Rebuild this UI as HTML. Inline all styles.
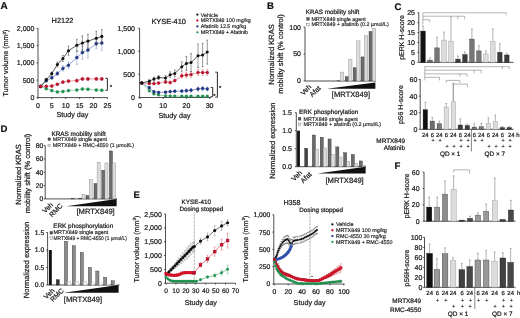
<!DOCTYPE html>
<html><head><meta charset="utf-8"><title>Figure</title>
<style>
html,body{margin:0;padding:0;background:#fff;}
body{width:520px;height:318px;overflow:hidden;}
svg{display:block;}
svg text.s{stroke-width:0.16px;fill:#222;stroke:#222;}
svg text{font-family:'Liberation Sans', Arial, sans-serif;text-rendering:geometricPrecision;stroke:#1a1a1a;stroke-width:0.22px;paint-order:stroke;}
</style></head>
<body>
<svg width="520" height="318" viewBox="0 0 520 318" fill="#1a1a1a">
<rect width="520" height="318" fill="#fff"/>
<text x="0.50" y="9.00" font-size="10.0" font-weight="bold" fill="#111">A</text>
<text x="62.50" y="22.80" font-size="7.4" text-anchor="middle">H2122</text>
<text x="8.40" y="63.00" font-size="7.2" text-anchor="middle" transform="rotate(-90 8.40 63.00)">Tumor volume (mm<tspan font-size="4.46" dy="-2.74">3</tspan><tspan dy="2.74">)</tspan></text>
<line x1="38.00" y1="28.40" x2="38.00" y2="97.60" stroke="#222" stroke-width="0.8"/>
<line x1="36.60" y1="97.40" x2="38.00" y2="97.40" stroke="#222" stroke-width="0.8"/>
<text x="34.40" y="99.80" font-size="7.0" text-anchor="end">0</text>
<line x1="36.60" y1="80.15" x2="38.00" y2="80.15" stroke="#222" stroke-width="0.8"/>
<text x="34.40" y="82.55" font-size="7.0" text-anchor="end">500</text>
<line x1="36.60" y1="62.90" x2="38.00" y2="62.90" stroke="#222" stroke-width="0.8"/>
<text x="34.40" y="65.30" font-size="7.0" text-anchor="end">1,000</text>
<line x1="36.60" y1="45.65" x2="38.00" y2="45.65" stroke="#222" stroke-width="0.8"/>
<text x="34.40" y="48.05" font-size="7.0" text-anchor="end">1,500</text>
<line x1="36.60" y1="28.40" x2="38.00" y2="28.40" stroke="#222" stroke-width="0.8"/>
<text x="34.40" y="30.80" font-size="7.0" text-anchor="end">2,000</text>
<line x1="38.00" y1="97.60" x2="107.60" y2="97.60" stroke="#222" stroke-width="0.8"/>
<line x1="37.90" y1="97.60" x2="37.90" y2="99.00" stroke="#222" stroke-width="0.8"/>
<text x="37.90" y="108.30" font-size="7.0" text-anchor="middle">0</text>
<line x1="51.80" y1="97.60" x2="51.80" y2="99.00" stroke="#222" stroke-width="0.8"/>
<text x="51.80" y="108.30" font-size="7.0" text-anchor="middle">5</text>
<line x1="65.70" y1="97.60" x2="65.70" y2="99.00" stroke="#222" stroke-width="0.8"/>
<text x="65.70" y="108.30" font-size="7.0" text-anchor="middle">10</text>
<line x1="79.60" y1="97.60" x2="79.60" y2="99.00" stroke="#222" stroke-width="0.8"/>
<text x="79.60" y="108.30" font-size="7.0" text-anchor="middle">15</text>
<line x1="93.50" y1="97.60" x2="93.50" y2="99.00" stroke="#222" stroke-width="0.8"/>
<text x="93.50" y="108.30" font-size="7.0" text-anchor="middle">20</text>
<line x1="107.40" y1="97.60" x2="107.40" y2="99.00" stroke="#222" stroke-width="0.8"/>
<text x="107.40" y="108.30" font-size="7.0" text-anchor="middle">25</text>
<text x="72.40" y="117.30" font-size="7.2" text-anchor="middle">Study day</text>
<polyline points="40.68,86.40 46.24,88.70 51.80,90.60 57.36,91.90 62.92,91.50 68.48,90.60 76.82,90.00 82.38,89.00 87.94,89.20 96.28,90.00 101.84,90.20" fill="none" stroke="#7cc894" stroke-width="0.75"/>
<line x1="46.24" y1="88.10" x2="46.24" y2="89.30" stroke="#7cc894" stroke-width="0.5"/>
<line x1="45.34" y1="88.10" x2="47.14" y2="88.10" stroke="#7cc894" stroke-width="0.5"/>
<line x1="45.34" y1="89.30" x2="47.14" y2="89.30" stroke="#7cc894" stroke-width="0.5"/>
<line x1="51.80" y1="89.90" x2="51.80" y2="91.30" stroke="#7cc894" stroke-width="0.5"/>
<line x1="50.90" y1="89.90" x2="52.70" y2="89.90" stroke="#7cc894" stroke-width="0.5"/>
<line x1="50.90" y1="91.30" x2="52.70" y2="91.30" stroke="#7cc894" stroke-width="0.5"/>
<line x1="57.36" y1="91.10" x2="57.36" y2="92.70" stroke="#7cc894" stroke-width="0.5"/>
<line x1="56.46" y1="91.10" x2="58.26" y2="91.10" stroke="#7cc894" stroke-width="0.5"/>
<line x1="56.46" y1="92.70" x2="58.26" y2="92.70" stroke="#7cc894" stroke-width="0.5"/>
<line x1="62.92" y1="90.70" x2="62.92" y2="92.30" stroke="#7cc894" stroke-width="0.5"/>
<line x1="62.02" y1="90.70" x2="63.82" y2="90.70" stroke="#7cc894" stroke-width="0.5"/>
<line x1="62.02" y1="92.30" x2="63.82" y2="92.30" stroke="#7cc894" stroke-width="0.5"/>
<line x1="68.48" y1="89.80" x2="68.48" y2="91.40" stroke="#7cc894" stroke-width="0.5"/>
<line x1="67.58" y1="89.80" x2="69.38" y2="89.80" stroke="#7cc894" stroke-width="0.5"/>
<line x1="67.58" y1="91.40" x2="69.38" y2="91.40" stroke="#7cc894" stroke-width="0.5"/>
<line x1="76.82" y1="89.10" x2="76.82" y2="90.90" stroke="#7cc894" stroke-width="0.5"/>
<line x1="75.92" y1="89.10" x2="77.72" y2="89.10" stroke="#7cc894" stroke-width="0.5"/>
<line x1="75.92" y1="90.90" x2="77.72" y2="90.90" stroke="#7cc894" stroke-width="0.5"/>
<line x1="82.38" y1="88.10" x2="82.38" y2="89.90" stroke="#7cc894" stroke-width="0.5"/>
<line x1="81.48" y1="88.10" x2="83.28" y2="88.10" stroke="#7cc894" stroke-width="0.5"/>
<line x1="81.48" y1="89.90" x2="83.28" y2="89.90" stroke="#7cc894" stroke-width="0.5"/>
<line x1="87.94" y1="88.30" x2="87.94" y2="90.10" stroke="#7cc894" stroke-width="0.5"/>
<line x1="87.04" y1="88.30" x2="88.84" y2="88.30" stroke="#7cc894" stroke-width="0.5"/>
<line x1="87.04" y1="90.10" x2="88.84" y2="90.10" stroke="#7cc894" stroke-width="0.5"/>
<line x1="96.28" y1="89.00" x2="96.28" y2="91.00" stroke="#7cc894" stroke-width="0.5"/>
<line x1="95.38" y1="89.00" x2="97.18" y2="89.00" stroke="#7cc894" stroke-width="0.5"/>
<line x1="95.38" y1="91.00" x2="97.18" y2="91.00" stroke="#7cc894" stroke-width="0.5"/>
<line x1="101.84" y1="89.20" x2="101.84" y2="91.20" stroke="#7cc894" stroke-width="0.5"/>
<line x1="100.94" y1="89.20" x2="102.74" y2="89.20" stroke="#7cc894" stroke-width="0.5"/>
<line x1="100.94" y1="91.20" x2="102.74" y2="91.20" stroke="#7cc894" stroke-width="0.5"/>
<circle cx="40.68" cy="86.40" r="1.50" fill="#1f9a52" stroke="#16703c" stroke-width="0.35"/>
<circle cx="46.24" cy="88.70" r="1.50" fill="#1f9a52" stroke="#16703c" stroke-width="0.35"/>
<circle cx="51.80" cy="90.60" r="1.50" fill="#1f9a52" stroke="#16703c" stroke-width="0.35"/>
<circle cx="57.36" cy="91.90" r="1.50" fill="#1f9a52" stroke="#16703c" stroke-width="0.35"/>
<circle cx="62.92" cy="91.50" r="1.50" fill="#1f9a52" stroke="#16703c" stroke-width="0.35"/>
<circle cx="68.48" cy="90.60" r="1.50" fill="#1f9a52" stroke="#16703c" stroke-width="0.35"/>
<circle cx="76.82" cy="90.00" r="1.50" fill="#1f9a52" stroke="#16703c" stroke-width="0.35"/>
<circle cx="82.38" cy="89.00" r="1.50" fill="#1f9a52" stroke="#16703c" stroke-width="0.35"/>
<circle cx="87.94" cy="89.20" r="1.50" fill="#1f9a52" stroke="#16703c" stroke-width="0.35"/>
<circle cx="96.28" cy="90.00" r="1.50" fill="#1f9a52" stroke="#16703c" stroke-width="0.35"/>
<circle cx="101.84" cy="90.20" r="1.50" fill="#1f9a52" stroke="#16703c" stroke-width="0.35"/>
<polyline points="40.68,86.40 46.24,80.80 51.80,77.70 57.36,73.60 62.92,68.40 68.48,65.20 76.82,57.60 82.38,52.50 87.94,50.00 96.28,43.60 101.84,43.00" fill="none" stroke="#6f86c6" stroke-width="0.75"/>
<line x1="46.24" y1="79.80" x2="46.24" y2="81.80" stroke="#6f86c6" stroke-width="0.5"/>
<line x1="45.34" y1="79.80" x2="47.14" y2="79.80" stroke="#6f86c6" stroke-width="0.5"/>
<line x1="45.34" y1="81.80" x2="47.14" y2="81.80" stroke="#6f86c6" stroke-width="0.5"/>
<line x1="51.80" y1="76.30" x2="51.80" y2="79.10" stroke="#6f86c6" stroke-width="0.5"/>
<line x1="50.90" y1="76.30" x2="52.70" y2="76.30" stroke="#6f86c6" stroke-width="0.5"/>
<line x1="50.90" y1="79.10" x2="52.70" y2="79.10" stroke="#6f86c6" stroke-width="0.5"/>
<line x1="57.36" y1="71.60" x2="57.36" y2="75.60" stroke="#6f86c6" stroke-width="0.5"/>
<line x1="56.46" y1="71.60" x2="58.26" y2="71.60" stroke="#6f86c6" stroke-width="0.5"/>
<line x1="56.46" y1="75.60" x2="58.26" y2="75.60" stroke="#6f86c6" stroke-width="0.5"/>
<line x1="62.92" y1="65.80" x2="62.92" y2="71.00" stroke="#6f86c6" stroke-width="0.5"/>
<line x1="62.02" y1="65.80" x2="63.82" y2="65.80" stroke="#6f86c6" stroke-width="0.5"/>
<line x1="62.02" y1="71.00" x2="63.82" y2="71.00" stroke="#6f86c6" stroke-width="0.5"/>
<line x1="68.48" y1="61.80" x2="68.48" y2="68.60" stroke="#6f86c6" stroke-width="0.5"/>
<line x1="67.58" y1="61.80" x2="69.38" y2="61.80" stroke="#6f86c6" stroke-width="0.5"/>
<line x1="67.58" y1="68.60" x2="69.38" y2="68.60" stroke="#6f86c6" stroke-width="0.5"/>
<line x1="76.82" y1="50.80" x2="76.82" y2="64.40" stroke="#6f86c6" stroke-width="0.5"/>
<line x1="75.92" y1="50.80" x2="77.72" y2="50.80" stroke="#6f86c6" stroke-width="0.5"/>
<line x1="75.92" y1="64.40" x2="77.72" y2="64.40" stroke="#6f86c6" stroke-width="0.5"/>
<line x1="82.38" y1="45.70" x2="82.38" y2="59.30" stroke="#6f86c6" stroke-width="0.5"/>
<line x1="81.48" y1="45.70" x2="83.28" y2="45.70" stroke="#6f86c6" stroke-width="0.5"/>
<line x1="81.48" y1="59.30" x2="83.28" y2="59.30" stroke="#6f86c6" stroke-width="0.5"/>
<line x1="87.94" y1="42.00" x2="87.94" y2="58.00" stroke="#6f86c6" stroke-width="0.5"/>
<line x1="87.04" y1="42.00" x2="88.84" y2="42.00" stroke="#6f86c6" stroke-width="0.5"/>
<line x1="87.04" y1="58.00" x2="88.84" y2="58.00" stroke="#6f86c6" stroke-width="0.5"/>
<line x1="96.28" y1="38.40" x2="96.28" y2="48.80" stroke="#6f86c6" stroke-width="0.5"/>
<line x1="95.38" y1="38.40" x2="97.18" y2="38.40" stroke="#6f86c6" stroke-width="0.5"/>
<line x1="95.38" y1="48.80" x2="97.18" y2="48.80" stroke="#6f86c6" stroke-width="0.5"/>
<line x1="101.84" y1="35.40" x2="101.84" y2="50.60" stroke="#6f86c6" stroke-width="0.5"/>
<line x1="100.94" y1="35.40" x2="102.74" y2="35.40" stroke="#6f86c6" stroke-width="0.5"/>
<line x1="100.94" y1="50.60" x2="102.74" y2="50.60" stroke="#6f86c6" stroke-width="0.5"/>
<circle cx="40.68" cy="86.40" r="1.50" fill="#22388a" stroke="#15235a" stroke-width="0.35"/>
<circle cx="46.24" cy="80.80" r="1.50" fill="#22388a" stroke="#15235a" stroke-width="0.35"/>
<circle cx="51.80" cy="77.70" r="1.50" fill="#22388a" stroke="#15235a" stroke-width="0.35"/>
<circle cx="57.36" cy="73.60" r="1.50" fill="#22388a" stroke="#15235a" stroke-width="0.35"/>
<circle cx="62.92" cy="68.40" r="1.50" fill="#22388a" stroke="#15235a" stroke-width="0.35"/>
<circle cx="68.48" cy="65.20" r="1.50" fill="#22388a" stroke="#15235a" stroke-width="0.35"/>
<circle cx="76.82" cy="57.60" r="1.50" fill="#22388a" stroke="#15235a" stroke-width="0.35"/>
<circle cx="82.38" cy="52.50" r="1.50" fill="#22388a" stroke="#15235a" stroke-width="0.35"/>
<circle cx="87.94" cy="50.00" r="1.50" fill="#22388a" stroke="#15235a" stroke-width="0.35"/>
<circle cx="96.28" cy="43.60" r="1.50" fill="#22388a" stroke="#15235a" stroke-width="0.35"/>
<circle cx="101.84" cy="43.00" r="1.50" fill="#22388a" stroke="#15235a" stroke-width="0.35"/>
<polyline points="40.68,86.40 46.24,79.60 51.80,73.60 57.36,64.50 62.92,58.50 68.48,50.70 76.82,45.30 82.38,43.00 87.94,41.10 96.28,38.30 101.84,36.40" fill="none" stroke="#222" stroke-width="0.75"/>
<line x1="46.24" y1="78.40" x2="46.24" y2="80.80" stroke="#333" stroke-width="0.5"/>
<line x1="45.34" y1="78.40" x2="47.14" y2="78.40" stroke="#333" stroke-width="0.5"/>
<line x1="45.34" y1="80.80" x2="47.14" y2="80.80" stroke="#333" stroke-width="0.5"/>
<line x1="51.80" y1="72.00" x2="51.80" y2="75.20" stroke="#333" stroke-width="0.5"/>
<line x1="50.90" y1="72.00" x2="52.70" y2="72.00" stroke="#333" stroke-width="0.5"/>
<line x1="50.90" y1="75.20" x2="52.70" y2="75.20" stroke="#333" stroke-width="0.5"/>
<line x1="57.36" y1="62.10" x2="57.36" y2="66.90" stroke="#333" stroke-width="0.5"/>
<line x1="56.46" y1="62.10" x2="58.26" y2="62.10" stroke="#333" stroke-width="0.5"/>
<line x1="56.46" y1="66.90" x2="58.26" y2="66.90" stroke="#333" stroke-width="0.5"/>
<line x1="62.92" y1="55.50" x2="62.92" y2="61.50" stroke="#333" stroke-width="0.5"/>
<line x1="62.02" y1="55.50" x2="63.82" y2="55.50" stroke="#333" stroke-width="0.5"/>
<line x1="62.02" y1="61.50" x2="63.82" y2="61.50" stroke="#333" stroke-width="0.5"/>
<line x1="68.48" y1="46.10" x2="68.48" y2="55.30" stroke="#333" stroke-width="0.5"/>
<line x1="67.58" y1="46.10" x2="69.38" y2="46.10" stroke="#333" stroke-width="0.5"/>
<line x1="67.58" y1="55.30" x2="69.38" y2="55.30" stroke="#333" stroke-width="0.5"/>
<line x1="76.82" y1="39.30" x2="76.82" y2="51.30" stroke="#333" stroke-width="0.5"/>
<line x1="75.92" y1="39.30" x2="77.72" y2="39.30" stroke="#333" stroke-width="0.5"/>
<line x1="75.92" y1="51.30" x2="77.72" y2="51.30" stroke="#333" stroke-width="0.5"/>
<line x1="82.38" y1="35.80" x2="82.38" y2="50.20" stroke="#333" stroke-width="0.5"/>
<line x1="81.48" y1="35.80" x2="83.28" y2="35.80" stroke="#333" stroke-width="0.5"/>
<line x1="81.48" y1="50.20" x2="83.28" y2="50.20" stroke="#333" stroke-width="0.5"/>
<line x1="87.94" y1="34.10" x2="87.94" y2="48.10" stroke="#333" stroke-width="0.5"/>
<line x1="87.04" y1="34.10" x2="88.84" y2="34.10" stroke="#333" stroke-width="0.5"/>
<line x1="87.04" y1="48.10" x2="88.84" y2="48.10" stroke="#333" stroke-width="0.5"/>
<line x1="96.28" y1="31.30" x2="96.28" y2="45.30" stroke="#333" stroke-width="0.5"/>
<line x1="95.38" y1="31.30" x2="97.18" y2="31.30" stroke="#333" stroke-width="0.5"/>
<line x1="95.38" y1="45.30" x2="97.18" y2="45.30" stroke="#333" stroke-width="0.5"/>
<line x1="101.84" y1="29.60" x2="101.84" y2="43.20" stroke="#333" stroke-width="0.5"/>
<line x1="100.94" y1="29.60" x2="102.74" y2="29.60" stroke="#333" stroke-width="0.5"/>
<line x1="100.94" y1="43.20" x2="102.74" y2="43.20" stroke="#333" stroke-width="0.5"/>
<circle cx="40.68" cy="86.40" r="1.55" fill="#111"/>
<circle cx="46.24" cy="79.60" r="1.55" fill="#111"/>
<circle cx="51.80" cy="73.60" r="1.55" fill="#111"/>
<circle cx="57.36" cy="64.50" r="1.55" fill="#111"/>
<circle cx="62.92" cy="58.50" r="1.55" fill="#111"/>
<circle cx="68.48" cy="50.70" r="1.55" fill="#111"/>
<circle cx="76.82" cy="45.30" r="1.55" fill="#111"/>
<circle cx="82.38" cy="43.00" r="1.55" fill="#111"/>
<circle cx="87.94" cy="41.10" r="1.55" fill="#111"/>
<circle cx="96.28" cy="38.30" r="1.55" fill="#111"/>
<circle cx="101.84" cy="36.40" r="1.55" fill="#111"/>
<polyline points="40.68,86.40 46.24,86.20 51.80,86.00 57.36,84.20 62.92,82.10 68.48,81.10 76.82,80.60 82.38,78.90 87.94,78.90 96.28,78.90 101.84,78.90" fill="none" stroke="#e8737f" stroke-width="0.75"/>
<line x1="46.24" y1="85.40" x2="46.24" y2="87.00" stroke="#e8737f" stroke-width="0.5"/>
<line x1="45.34" y1="85.40" x2="47.14" y2="85.40" stroke="#e8737f" stroke-width="0.5"/>
<line x1="45.34" y1="87.00" x2="47.14" y2="87.00" stroke="#e8737f" stroke-width="0.5"/>
<line x1="51.80" y1="85.20" x2="51.80" y2="86.80" stroke="#e8737f" stroke-width="0.5"/>
<line x1="50.90" y1="85.20" x2="52.70" y2="85.20" stroke="#e8737f" stroke-width="0.5"/>
<line x1="50.90" y1="86.80" x2="52.70" y2="86.80" stroke="#e8737f" stroke-width="0.5"/>
<line x1="57.36" y1="83.20" x2="57.36" y2="85.20" stroke="#e8737f" stroke-width="0.5"/>
<line x1="56.46" y1="83.20" x2="58.26" y2="83.20" stroke="#e8737f" stroke-width="0.5"/>
<line x1="56.46" y1="85.20" x2="58.26" y2="85.20" stroke="#e8737f" stroke-width="0.5"/>
<line x1="62.92" y1="81.10" x2="62.92" y2="83.10" stroke="#e8737f" stroke-width="0.5"/>
<line x1="62.02" y1="81.10" x2="63.82" y2="81.10" stroke="#e8737f" stroke-width="0.5"/>
<line x1="62.02" y1="83.10" x2="63.82" y2="83.10" stroke="#e8737f" stroke-width="0.5"/>
<line x1="68.48" y1="80.10" x2="68.48" y2="82.10" stroke="#e8737f" stroke-width="0.5"/>
<line x1="67.58" y1="80.10" x2="69.38" y2="80.10" stroke="#e8737f" stroke-width="0.5"/>
<line x1="67.58" y1="82.10" x2="69.38" y2="82.10" stroke="#e8737f" stroke-width="0.5"/>
<line x1="76.82" y1="79.40" x2="76.82" y2="81.80" stroke="#e8737f" stroke-width="0.5"/>
<line x1="75.92" y1="79.40" x2="77.72" y2="79.40" stroke="#e8737f" stroke-width="0.5"/>
<line x1="75.92" y1="81.80" x2="77.72" y2="81.80" stroke="#e8737f" stroke-width="0.5"/>
<line x1="82.38" y1="77.70" x2="82.38" y2="80.10" stroke="#e8737f" stroke-width="0.5"/>
<line x1="81.48" y1="77.70" x2="83.28" y2="77.70" stroke="#e8737f" stroke-width="0.5"/>
<line x1="81.48" y1="80.10" x2="83.28" y2="80.10" stroke="#e8737f" stroke-width="0.5"/>
<line x1="87.94" y1="77.70" x2="87.94" y2="80.10" stroke="#e8737f" stroke-width="0.5"/>
<line x1="87.04" y1="77.70" x2="88.84" y2="77.70" stroke="#e8737f" stroke-width="0.5"/>
<line x1="87.04" y1="80.10" x2="88.84" y2="80.10" stroke="#e8737f" stroke-width="0.5"/>
<line x1="96.28" y1="77.70" x2="96.28" y2="80.10" stroke="#e8737f" stroke-width="0.5"/>
<line x1="95.38" y1="77.70" x2="97.18" y2="77.70" stroke="#e8737f" stroke-width="0.5"/>
<line x1="95.38" y1="80.10" x2="97.18" y2="80.10" stroke="#e8737f" stroke-width="0.5"/>
<line x1="101.84" y1="77.50" x2="101.84" y2="80.30" stroke="#e8737f" stroke-width="0.5"/>
<line x1="100.94" y1="77.50" x2="102.74" y2="77.50" stroke="#e8737f" stroke-width="0.5"/>
<line x1="100.94" y1="80.30" x2="102.74" y2="80.30" stroke="#e8737f" stroke-width="0.5"/>
<circle cx="40.68" cy="86.40" r="1.55" fill="#c8102e" stroke="#8a1020" stroke-width="0.35"/>
<circle cx="46.24" cy="86.20" r="1.55" fill="#c8102e" stroke="#8a1020" stroke-width="0.35"/>
<circle cx="51.80" cy="86.00" r="1.55" fill="#c8102e" stroke="#8a1020" stroke-width="0.35"/>
<circle cx="57.36" cy="84.20" r="1.55" fill="#c8102e" stroke="#8a1020" stroke-width="0.35"/>
<circle cx="62.92" cy="82.10" r="1.55" fill="#c8102e" stroke="#8a1020" stroke-width="0.35"/>
<circle cx="68.48" cy="81.10" r="1.55" fill="#c8102e" stroke="#8a1020" stroke-width="0.35"/>
<circle cx="76.82" cy="80.60" r="1.55" fill="#c8102e" stroke="#8a1020" stroke-width="0.35"/>
<circle cx="82.38" cy="78.90" r="1.55" fill="#c8102e" stroke="#8a1020" stroke-width="0.35"/>
<circle cx="87.94" cy="78.90" r="1.55" fill="#c8102e" stroke="#8a1020" stroke-width="0.35"/>
<circle cx="96.28" cy="78.90" r="1.55" fill="#c8102e" stroke="#8a1020" stroke-width="0.35"/>
<circle cx="101.84" cy="78.90" r="1.55" fill="#c8102e" stroke="#8a1020" stroke-width="0.35"/>
<line x1="107.40" y1="78.30" x2="107.40" y2="90.30" stroke="#111" stroke-width="0.9"/>
<line x1="105.20" y1="78.30" x2="107.40" y2="78.30" stroke="#111" stroke-width="0.8"/>
<line x1="105.20" y1="90.30" x2="107.40" y2="90.30" stroke="#111" stroke-width="0.8"/>
<text x="110.80" y="88.60" font-size="6.0" text-anchor="middle">*</text>
<text x="168.70" y="23.60" font-size="7.4" text-anchor="middle">KYSE-410</text>
<line x1="139.60" y1="28.30" x2="139.60" y2="97.50" stroke="#222" stroke-width="0.8"/>
<line x1="138.20" y1="97.30" x2="139.60" y2="97.30" stroke="#222" stroke-width="0.8"/>
<text x="135.00" y="99.70" font-size="7.0" text-anchor="end">0</text>
<line x1="138.20" y1="74.30" x2="139.60" y2="74.30" stroke="#222" stroke-width="0.8"/>
<text x="135.00" y="76.70" font-size="7.0" text-anchor="end">500</text>
<line x1="138.20" y1="51.30" x2="139.60" y2="51.30" stroke="#222" stroke-width="0.8"/>
<text x="135.00" y="53.70" font-size="7.0" text-anchor="end">1,000</text>
<line x1="138.20" y1="28.30" x2="139.60" y2="28.30" stroke="#222" stroke-width="0.8"/>
<text x="135.00" y="30.70" font-size="7.0" text-anchor="end">1,500</text>
<line x1="139.60" y1="97.50" x2="211.40" y2="97.50" stroke="#222" stroke-width="0.8"/>
<line x1="140.00" y1="97.50" x2="140.00" y2="98.90" stroke="#222" stroke-width="0.8"/>
<text x="140.00" y="108.30" font-size="7.0" text-anchor="middle">0</text>
<line x1="163.20" y1="97.50" x2="163.20" y2="98.90" stroke="#222" stroke-width="0.8"/>
<text x="163.20" y="108.30" font-size="7.0" text-anchor="middle">10</text>
<line x1="186.40" y1="97.50" x2="186.40" y2="98.90" stroke="#222" stroke-width="0.8"/>
<text x="186.40" y="108.30" font-size="7.0" text-anchor="middle">20</text>
<line x1="209.60" y1="97.50" x2="209.60" y2="98.90" stroke="#222" stroke-width="0.8"/>
<text x="209.60" y="108.30" font-size="7.0" text-anchor="middle">30</text>
<text x="174.50" y="118.00" font-size="7.2" text-anchor="middle">Study day</text>
<polyline points="141.74,83.00 149.28,90.80 153.92,93.90 158.56,94.90 165.52,95.90 170.16,96.00 174.80,96.10 181.76,96.20 186.40,96.20 191.04,96.20 198.00,96.20 202.64,96.20 207.28,96.20" fill="none" stroke="#7cc894" stroke-width="0.75"/>
<line x1="149.28" y1="90.20" x2="149.28" y2="91.40" stroke="#7cc894" stroke-width="0.5"/>
<line x1="148.38" y1="90.20" x2="150.18" y2="90.20" stroke="#7cc894" stroke-width="0.5"/>
<line x1="148.38" y1="91.40" x2="150.18" y2="91.40" stroke="#7cc894" stroke-width="0.5"/>
<line x1="153.92" y1="93.30" x2="153.92" y2="94.50" stroke="#7cc894" stroke-width="0.5"/>
<line x1="153.02" y1="93.30" x2="154.82" y2="93.30" stroke="#7cc894" stroke-width="0.5"/>
<line x1="153.02" y1="94.50" x2="154.82" y2="94.50" stroke="#7cc894" stroke-width="0.5"/>
<line x1="158.56" y1="94.40" x2="158.56" y2="95.40" stroke="#7cc894" stroke-width="0.5"/>
<line x1="157.66" y1="94.40" x2="159.46" y2="94.40" stroke="#7cc894" stroke-width="0.5"/>
<line x1="157.66" y1="95.40" x2="159.46" y2="95.40" stroke="#7cc894" stroke-width="0.5"/>
<line x1="165.52" y1="95.40" x2="165.52" y2="96.40" stroke="#7cc894" stroke-width="0.5"/>
<line x1="164.62" y1="95.40" x2="166.42" y2="95.40" stroke="#7cc894" stroke-width="0.5"/>
<line x1="164.62" y1="96.40" x2="166.42" y2="96.40" stroke="#7cc894" stroke-width="0.5"/>
<line x1="170.16" y1="95.50" x2="170.16" y2="96.50" stroke="#7cc894" stroke-width="0.5"/>
<line x1="169.26" y1="95.50" x2="171.06" y2="95.50" stroke="#7cc894" stroke-width="0.5"/>
<line x1="169.26" y1="96.50" x2="171.06" y2="96.50" stroke="#7cc894" stroke-width="0.5"/>
<line x1="174.80" y1="95.60" x2="174.80" y2="96.60" stroke="#7cc894" stroke-width="0.5"/>
<line x1="173.90" y1="95.60" x2="175.70" y2="95.60" stroke="#7cc894" stroke-width="0.5"/>
<line x1="173.90" y1="96.60" x2="175.70" y2="96.60" stroke="#7cc894" stroke-width="0.5"/>
<line x1="181.76" y1="95.70" x2="181.76" y2="96.70" stroke="#7cc894" stroke-width="0.5"/>
<line x1="180.86" y1="95.70" x2="182.66" y2="95.70" stroke="#7cc894" stroke-width="0.5"/>
<line x1="180.86" y1="96.70" x2="182.66" y2="96.70" stroke="#7cc894" stroke-width="0.5"/>
<line x1="186.40" y1="95.70" x2="186.40" y2="96.70" stroke="#7cc894" stroke-width="0.5"/>
<line x1="185.50" y1="95.70" x2="187.30" y2="95.70" stroke="#7cc894" stroke-width="0.5"/>
<line x1="185.50" y1="96.70" x2="187.30" y2="96.70" stroke="#7cc894" stroke-width="0.5"/>
<line x1="191.04" y1="95.70" x2="191.04" y2="96.70" stroke="#7cc894" stroke-width="0.5"/>
<line x1="190.14" y1="95.70" x2="191.94" y2="95.70" stroke="#7cc894" stroke-width="0.5"/>
<line x1="190.14" y1="96.70" x2="191.94" y2="96.70" stroke="#7cc894" stroke-width="0.5"/>
<line x1="198.00" y1="95.70" x2="198.00" y2="96.70" stroke="#7cc894" stroke-width="0.5"/>
<line x1="197.10" y1="95.70" x2="198.90" y2="95.70" stroke="#7cc894" stroke-width="0.5"/>
<line x1="197.10" y1="96.70" x2="198.90" y2="96.70" stroke="#7cc894" stroke-width="0.5"/>
<line x1="202.64" y1="95.70" x2="202.64" y2="96.70" stroke="#7cc894" stroke-width="0.5"/>
<line x1="201.74" y1="95.70" x2="203.54" y2="95.70" stroke="#7cc894" stroke-width="0.5"/>
<line x1="201.74" y1="96.70" x2="203.54" y2="96.70" stroke="#7cc894" stroke-width="0.5"/>
<line x1="207.28" y1="95.70" x2="207.28" y2="96.70" stroke="#7cc894" stroke-width="0.5"/>
<line x1="206.38" y1="95.70" x2="208.18" y2="95.70" stroke="#7cc894" stroke-width="0.5"/>
<line x1="206.38" y1="96.70" x2="208.18" y2="96.70" stroke="#7cc894" stroke-width="0.5"/>
<circle cx="141.74" cy="83.00" r="1.35" fill="#1f9a52" stroke="#16703c" stroke-width="0.35"/>
<circle cx="149.28" cy="90.80" r="1.35" fill="#1f9a52" stroke="#16703c" stroke-width="0.35"/>
<circle cx="153.92" cy="93.90" r="1.35" fill="#1f9a52" stroke="#16703c" stroke-width="0.35"/>
<circle cx="158.56" cy="94.90" r="1.35" fill="#1f9a52" stroke="#16703c" stroke-width="0.35"/>
<circle cx="165.52" cy="95.90" r="1.35" fill="#1f9a52" stroke="#16703c" stroke-width="0.35"/>
<circle cx="170.16" cy="96.00" r="1.35" fill="#1f9a52" stroke="#16703c" stroke-width="0.35"/>
<circle cx="174.80" cy="96.10" r="1.35" fill="#1f9a52" stroke="#16703c" stroke-width="0.35"/>
<circle cx="181.76" cy="96.20" r="1.35" fill="#1f9a52" stroke="#16703c" stroke-width="0.35"/>
<circle cx="186.40" cy="96.20" r="1.35" fill="#1f9a52" stroke="#16703c" stroke-width="0.35"/>
<circle cx="191.04" cy="96.20" r="1.35" fill="#1f9a52" stroke="#16703c" stroke-width="0.35"/>
<circle cx="198.00" cy="96.20" r="1.35" fill="#1f9a52" stroke="#16703c" stroke-width="0.35"/>
<circle cx="202.64" cy="96.20" r="1.35" fill="#1f9a52" stroke="#16703c" stroke-width="0.35"/>
<circle cx="207.28" cy="96.20" r="1.35" fill="#1f9a52" stroke="#16703c" stroke-width="0.35"/>
<polyline points="141.74,83.00 149.28,87.70 153.92,91.80 158.56,92.40 165.52,92.20 170.16,91.60 174.80,91.30 181.76,91.10 186.40,90.70 191.04,90.30 198.00,89.00 202.64,88.50 207.28,89.00" fill="none" stroke="#6f86c6" stroke-width="0.75"/>
<line x1="149.28" y1="86.70" x2="149.28" y2="88.70" stroke="#6f86c6" stroke-width="0.5"/>
<line x1="148.38" y1="86.70" x2="150.18" y2="86.70" stroke="#6f86c6" stroke-width="0.5"/>
<line x1="148.38" y1="88.70" x2="150.18" y2="88.70" stroke="#6f86c6" stroke-width="0.5"/>
<line x1="153.92" y1="90.80" x2="153.92" y2="92.80" stroke="#6f86c6" stroke-width="0.5"/>
<line x1="153.02" y1="90.80" x2="154.82" y2="90.80" stroke="#6f86c6" stroke-width="0.5"/>
<line x1="153.02" y1="92.80" x2="154.82" y2="92.80" stroke="#6f86c6" stroke-width="0.5"/>
<line x1="158.56" y1="91.40" x2="158.56" y2="93.40" stroke="#6f86c6" stroke-width="0.5"/>
<line x1="157.66" y1="91.40" x2="159.46" y2="91.40" stroke="#6f86c6" stroke-width="0.5"/>
<line x1="157.66" y1="93.40" x2="159.46" y2="93.40" stroke="#6f86c6" stroke-width="0.5"/>
<line x1="165.52" y1="91.20" x2="165.52" y2="93.20" stroke="#6f86c6" stroke-width="0.5"/>
<line x1="164.62" y1="91.20" x2="166.42" y2="91.20" stroke="#6f86c6" stroke-width="0.5"/>
<line x1="164.62" y1="93.20" x2="166.42" y2="93.20" stroke="#6f86c6" stroke-width="0.5"/>
<line x1="170.16" y1="90.60" x2="170.16" y2="92.60" stroke="#6f86c6" stroke-width="0.5"/>
<line x1="169.26" y1="90.60" x2="171.06" y2="90.60" stroke="#6f86c6" stroke-width="0.5"/>
<line x1="169.26" y1="92.60" x2="171.06" y2="92.60" stroke="#6f86c6" stroke-width="0.5"/>
<line x1="174.80" y1="90.10" x2="174.80" y2="92.50" stroke="#6f86c6" stroke-width="0.5"/>
<line x1="173.90" y1="90.10" x2="175.70" y2="90.10" stroke="#6f86c6" stroke-width="0.5"/>
<line x1="173.90" y1="92.50" x2="175.70" y2="92.50" stroke="#6f86c6" stroke-width="0.5"/>
<line x1="181.76" y1="89.60" x2="181.76" y2="92.60" stroke="#6f86c6" stroke-width="0.5"/>
<line x1="180.86" y1="89.60" x2="182.66" y2="89.60" stroke="#6f86c6" stroke-width="0.5"/>
<line x1="180.86" y1="92.60" x2="182.66" y2="92.60" stroke="#6f86c6" stroke-width="0.5"/>
<line x1="186.40" y1="89.00" x2="186.40" y2="92.40" stroke="#6f86c6" stroke-width="0.5"/>
<line x1="185.50" y1="89.00" x2="187.30" y2="89.00" stroke="#6f86c6" stroke-width="0.5"/>
<line x1="185.50" y1="92.40" x2="187.30" y2="92.40" stroke="#6f86c6" stroke-width="0.5"/>
<line x1="191.04" y1="88.60" x2="191.04" y2="92.00" stroke="#6f86c6" stroke-width="0.5"/>
<line x1="190.14" y1="88.60" x2="191.94" y2="88.60" stroke="#6f86c6" stroke-width="0.5"/>
<line x1="190.14" y1="92.00" x2="191.94" y2="92.00" stroke="#6f86c6" stroke-width="0.5"/>
<line x1="198.00" y1="87.00" x2="198.00" y2="91.00" stroke="#6f86c6" stroke-width="0.5"/>
<line x1="197.10" y1="87.00" x2="198.90" y2="87.00" stroke="#6f86c6" stroke-width="0.5"/>
<line x1="197.10" y1="91.00" x2="198.90" y2="91.00" stroke="#6f86c6" stroke-width="0.5"/>
<line x1="202.64" y1="86.30" x2="202.64" y2="90.70" stroke="#6f86c6" stroke-width="0.5"/>
<line x1="201.74" y1="86.30" x2="203.54" y2="86.30" stroke="#6f86c6" stroke-width="0.5"/>
<line x1="201.74" y1="90.70" x2="203.54" y2="90.70" stroke="#6f86c6" stroke-width="0.5"/>
<line x1="207.28" y1="87.00" x2="207.28" y2="91.00" stroke="#6f86c6" stroke-width="0.5"/>
<line x1="206.38" y1="87.00" x2="208.18" y2="87.00" stroke="#6f86c6" stroke-width="0.5"/>
<line x1="206.38" y1="91.00" x2="208.18" y2="91.00" stroke="#6f86c6" stroke-width="0.5"/>
<circle cx="141.74" cy="83.00" r="1.45" fill="#22388a" stroke="#15235a" stroke-width="0.35"/>
<circle cx="149.28" cy="87.70" r="1.45" fill="#22388a" stroke="#15235a" stroke-width="0.35"/>
<circle cx="153.92" cy="91.80" r="1.45" fill="#22388a" stroke="#15235a" stroke-width="0.35"/>
<circle cx="158.56" cy="92.40" r="1.45" fill="#22388a" stroke="#15235a" stroke-width="0.35"/>
<circle cx="165.52" cy="92.20" r="1.45" fill="#22388a" stroke="#15235a" stroke-width="0.35"/>
<circle cx="170.16" cy="91.60" r="1.45" fill="#22388a" stroke="#15235a" stroke-width="0.35"/>
<circle cx="174.80" cy="91.30" r="1.45" fill="#22388a" stroke="#15235a" stroke-width="0.35"/>
<circle cx="181.76" cy="91.10" r="1.45" fill="#22388a" stroke="#15235a" stroke-width="0.35"/>
<circle cx="186.40" cy="90.70" r="1.45" fill="#22388a" stroke="#15235a" stroke-width="0.35"/>
<circle cx="191.04" cy="90.30" r="1.45" fill="#22388a" stroke="#15235a" stroke-width="0.35"/>
<circle cx="198.00" cy="89.00" r="1.45" fill="#22388a" stroke="#15235a" stroke-width="0.35"/>
<circle cx="202.64" cy="88.50" r="1.45" fill="#22388a" stroke="#15235a" stroke-width="0.35"/>
<circle cx="207.28" cy="89.00" r="1.45" fill="#22388a" stroke="#15235a" stroke-width="0.35"/>
<polyline points="141.74,83.00 149.28,83.60 153.92,83.60 158.56,83.00 165.52,82.00 170.16,82.60 174.80,80.60 181.76,75.80 186.40,75.00 191.04,74.60 198.00,72.50 202.64,72.50 207.28,72.50" fill="none" stroke="#e8737f" stroke-width="0.75"/>
<line x1="149.28" y1="82.60" x2="149.28" y2="84.60" stroke="#e8737f" stroke-width="0.5"/>
<line x1="148.38" y1="82.60" x2="150.18" y2="82.60" stroke="#e8737f" stroke-width="0.5"/>
<line x1="148.38" y1="84.60" x2="150.18" y2="84.60" stroke="#e8737f" stroke-width="0.5"/>
<line x1="153.92" y1="82.60" x2="153.92" y2="84.60" stroke="#e8737f" stroke-width="0.5"/>
<line x1="153.02" y1="82.60" x2="154.82" y2="82.60" stroke="#e8737f" stroke-width="0.5"/>
<line x1="153.02" y1="84.60" x2="154.82" y2="84.60" stroke="#e8737f" stroke-width="0.5"/>
<line x1="158.56" y1="82.00" x2="158.56" y2="84.00" stroke="#e8737f" stroke-width="0.5"/>
<line x1="157.66" y1="82.00" x2="159.46" y2="82.00" stroke="#e8737f" stroke-width="0.5"/>
<line x1="157.66" y1="84.00" x2="159.46" y2="84.00" stroke="#e8737f" stroke-width="0.5"/>
<line x1="165.52" y1="80.80" x2="165.52" y2="83.20" stroke="#e8737f" stroke-width="0.5"/>
<line x1="164.62" y1="80.80" x2="166.42" y2="80.80" stroke="#e8737f" stroke-width="0.5"/>
<line x1="164.62" y1="83.20" x2="166.42" y2="83.20" stroke="#e8737f" stroke-width="0.5"/>
<line x1="170.16" y1="81.40" x2="170.16" y2="83.80" stroke="#e8737f" stroke-width="0.5"/>
<line x1="169.26" y1="81.40" x2="171.06" y2="81.40" stroke="#e8737f" stroke-width="0.5"/>
<line x1="169.26" y1="83.80" x2="171.06" y2="83.80" stroke="#e8737f" stroke-width="0.5"/>
<line x1="174.80" y1="79.10" x2="174.80" y2="82.10" stroke="#e8737f" stroke-width="0.5"/>
<line x1="173.90" y1="79.10" x2="175.70" y2="79.10" stroke="#e8737f" stroke-width="0.5"/>
<line x1="173.90" y1="82.10" x2="175.70" y2="82.10" stroke="#e8737f" stroke-width="0.5"/>
<line x1="181.76" y1="73.20" x2="181.76" y2="78.40" stroke="#e8737f" stroke-width="0.5"/>
<line x1="180.86" y1="73.20" x2="182.66" y2="73.20" stroke="#e8737f" stroke-width="0.5"/>
<line x1="180.86" y1="78.40" x2="182.66" y2="78.40" stroke="#e8737f" stroke-width="0.5"/>
<line x1="186.40" y1="72.00" x2="186.40" y2="78.00" stroke="#e8737f" stroke-width="0.5"/>
<line x1="185.50" y1="72.00" x2="187.30" y2="72.00" stroke="#e8737f" stroke-width="0.5"/>
<line x1="185.50" y1="78.00" x2="187.30" y2="78.00" stroke="#e8737f" stroke-width="0.5"/>
<line x1="191.04" y1="71.60" x2="191.04" y2="77.60" stroke="#e8737f" stroke-width="0.5"/>
<line x1="190.14" y1="71.60" x2="191.94" y2="71.60" stroke="#e8737f" stroke-width="0.5"/>
<line x1="190.14" y1="77.60" x2="191.94" y2="77.60" stroke="#e8737f" stroke-width="0.5"/>
<line x1="198.00" y1="69.50" x2="198.00" y2="75.50" stroke="#e8737f" stroke-width="0.5"/>
<line x1="197.10" y1="69.50" x2="198.90" y2="69.50" stroke="#e8737f" stroke-width="0.5"/>
<line x1="197.10" y1="75.50" x2="198.90" y2="75.50" stroke="#e8737f" stroke-width="0.5"/>
<line x1="202.64" y1="69.50" x2="202.64" y2="75.50" stroke="#e8737f" stroke-width="0.5"/>
<line x1="201.74" y1="69.50" x2="203.54" y2="69.50" stroke="#e8737f" stroke-width="0.5"/>
<line x1="201.74" y1="75.50" x2="203.54" y2="75.50" stroke="#e8737f" stroke-width="0.5"/>
<line x1="207.28" y1="69.50" x2="207.28" y2="75.50" stroke="#e8737f" stroke-width="0.5"/>
<line x1="206.38" y1="69.50" x2="208.18" y2="69.50" stroke="#e8737f" stroke-width="0.5"/>
<line x1="206.38" y1="75.50" x2="208.18" y2="75.50" stroke="#e8737f" stroke-width="0.5"/>
<circle cx="141.74" cy="83.00" r="1.50" fill="#c8102e" stroke="#8a1020" stroke-width="0.35"/>
<circle cx="149.28" cy="83.60" r="1.50" fill="#c8102e" stroke="#8a1020" stroke-width="0.35"/>
<circle cx="153.92" cy="83.60" r="1.50" fill="#c8102e" stroke="#8a1020" stroke-width="0.35"/>
<circle cx="158.56" cy="83.00" r="1.50" fill="#c8102e" stroke="#8a1020" stroke-width="0.35"/>
<circle cx="165.52" cy="82.00" r="1.50" fill="#c8102e" stroke="#8a1020" stroke-width="0.35"/>
<circle cx="170.16" cy="82.60" r="1.50" fill="#c8102e" stroke="#8a1020" stroke-width="0.35"/>
<circle cx="174.80" cy="80.60" r="1.50" fill="#c8102e" stroke="#8a1020" stroke-width="0.35"/>
<circle cx="181.76" cy="75.80" r="1.50" fill="#c8102e" stroke="#8a1020" stroke-width="0.35"/>
<circle cx="186.40" cy="75.00" r="1.50" fill="#c8102e" stroke="#8a1020" stroke-width="0.35"/>
<circle cx="191.04" cy="74.60" r="1.50" fill="#c8102e" stroke="#8a1020" stroke-width="0.35"/>
<circle cx="198.00" cy="72.50" r="1.50" fill="#c8102e" stroke="#8a1020" stroke-width="0.35"/>
<circle cx="202.64" cy="72.50" r="1.50" fill="#c8102e" stroke="#8a1020" stroke-width="0.35"/>
<circle cx="207.28" cy="72.50" r="1.50" fill="#c8102e" stroke="#8a1020" stroke-width="0.35"/>
<polyline points="141.74,83.00 149.28,81.20 153.92,79.10 158.56,77.50 165.52,78.10 170.16,74.80 174.80,73.40 181.76,66.80 186.40,63.40 191.04,62.60 198.00,55.80 202.64,55.00 207.28,52.10" fill="none" stroke="#222" stroke-width="0.75"/>
<line x1="149.28" y1="79.60" x2="149.28" y2="82.80" stroke="#333" stroke-width="0.5"/>
<line x1="148.38" y1="79.60" x2="150.18" y2="79.60" stroke="#333" stroke-width="0.5"/>
<line x1="148.38" y1="82.80" x2="150.18" y2="82.80" stroke="#333" stroke-width="0.5"/>
<line x1="153.92" y1="77.10" x2="153.92" y2="81.10" stroke="#333" stroke-width="0.5"/>
<line x1="153.02" y1="77.10" x2="154.82" y2="77.10" stroke="#333" stroke-width="0.5"/>
<line x1="153.02" y1="81.10" x2="154.82" y2="81.10" stroke="#333" stroke-width="0.5"/>
<line x1="158.56" y1="75.50" x2="158.56" y2="79.50" stroke="#333" stroke-width="0.5"/>
<line x1="157.66" y1="75.50" x2="159.46" y2="75.50" stroke="#333" stroke-width="0.5"/>
<line x1="157.66" y1="79.50" x2="159.46" y2="79.50" stroke="#333" stroke-width="0.5"/>
<line x1="165.52" y1="75.70" x2="165.52" y2="80.50" stroke="#333" stroke-width="0.5"/>
<line x1="164.62" y1="75.70" x2="166.42" y2="75.70" stroke="#333" stroke-width="0.5"/>
<line x1="164.62" y1="80.50" x2="166.42" y2="80.50" stroke="#333" stroke-width="0.5"/>
<line x1="170.16" y1="71.80" x2="170.16" y2="77.80" stroke="#333" stroke-width="0.5"/>
<line x1="169.26" y1="71.80" x2="171.06" y2="71.80" stroke="#333" stroke-width="0.5"/>
<line x1="169.26" y1="77.80" x2="171.06" y2="77.80" stroke="#333" stroke-width="0.5"/>
<line x1="174.80" y1="70.00" x2="174.80" y2="76.80" stroke="#333" stroke-width="0.5"/>
<line x1="173.90" y1="70.00" x2="175.70" y2="70.00" stroke="#333" stroke-width="0.5"/>
<line x1="173.90" y1="76.80" x2="175.70" y2="76.80" stroke="#333" stroke-width="0.5"/>
<line x1="181.76" y1="61.80" x2="181.76" y2="71.80" stroke="#333" stroke-width="0.5"/>
<line x1="180.86" y1="61.80" x2="182.66" y2="61.80" stroke="#333" stroke-width="0.5"/>
<line x1="180.86" y1="71.80" x2="182.66" y2="71.80" stroke="#333" stroke-width="0.5"/>
<line x1="186.40" y1="56.40" x2="186.40" y2="70.40" stroke="#333" stroke-width="0.5"/>
<line x1="185.50" y1="56.40" x2="187.30" y2="56.40" stroke="#333" stroke-width="0.5"/>
<line x1="185.50" y1="70.40" x2="187.30" y2="70.40" stroke="#333" stroke-width="0.5"/>
<line x1="191.04" y1="53.60" x2="191.04" y2="71.60" stroke="#333" stroke-width="0.5"/>
<line x1="190.14" y1="53.60" x2="191.94" y2="53.60" stroke="#333" stroke-width="0.5"/>
<line x1="190.14" y1="71.60" x2="191.94" y2="71.60" stroke="#333" stroke-width="0.5"/>
<line x1="198.00" y1="44.00" x2="198.00" y2="67.60" stroke="#333" stroke-width="0.5"/>
<line x1="197.10" y1="44.00" x2="198.90" y2="44.00" stroke="#333" stroke-width="0.5"/>
<line x1="197.10" y1="67.60" x2="198.90" y2="67.60" stroke="#333" stroke-width="0.5"/>
<line x1="202.64" y1="43.30" x2="202.64" y2="66.70" stroke="#333" stroke-width="0.5"/>
<line x1="201.74" y1="43.30" x2="203.54" y2="43.30" stroke="#333" stroke-width="0.5"/>
<line x1="201.74" y1="66.70" x2="203.54" y2="66.70" stroke="#333" stroke-width="0.5"/>
<line x1="207.28" y1="40.10" x2="207.28" y2="64.10" stroke="#333" stroke-width="0.5"/>
<line x1="206.38" y1="40.10" x2="208.18" y2="40.10" stroke="#333" stroke-width="0.5"/>
<line x1="206.38" y1="64.10" x2="208.18" y2="64.10" stroke="#333" stroke-width="0.5"/>
<circle cx="141.74" cy="83.00" r="1.50" fill="#111"/>
<circle cx="149.28" cy="81.20" r="1.50" fill="#111"/>
<circle cx="153.92" cy="79.10" r="1.50" fill="#111"/>
<circle cx="158.56" cy="77.50" r="1.50" fill="#111"/>
<circle cx="165.52" cy="78.10" r="1.50" fill="#111"/>
<circle cx="170.16" cy="74.80" r="1.50" fill="#111"/>
<circle cx="174.80" cy="73.40" r="1.50" fill="#111"/>
<circle cx="181.76" cy="66.80" r="1.50" fill="#111"/>
<circle cx="186.40" cy="63.40" r="1.50" fill="#111"/>
<circle cx="191.04" cy="62.60" r="1.50" fill="#111"/>
<circle cx="198.00" cy="55.80" r="1.50" fill="#111"/>
<circle cx="202.64" cy="55.00" r="1.50" fill="#111"/>
<circle cx="207.28" cy="52.10" r="1.50" fill="#111"/>
<line x1="217.40" y1="72.20" x2="217.40" y2="97.20" stroke="#111" stroke-width="0.9"/>
<line x1="215.20" y1="72.20" x2="217.40" y2="72.20" stroke="#111" stroke-width="0.8"/>
<line x1="215.20" y1="97.20" x2="217.40" y2="97.20" stroke="#111" stroke-width="0.8"/>
<text x="220.20" y="89.90" font-size="6.0" text-anchor="middle">*</text>
<line x1="212.70" y1="87.40" x2="212.70" y2="96.60" stroke="#111" stroke-width="0.9"/>
<line x1="210.60" y1="87.40" x2="212.70" y2="87.40" stroke="#111" stroke-width="0.8"/>
<line x1="210.60" y1="96.60" x2="212.70" y2="96.60" stroke="#111" stroke-width="0.8"/>
<text x="214.40" y="97.70" font-size="6.0" text-anchor="middle">*</text>
<circle cx="197.40" cy="14.60" r="1.15" fill="#111"/>
<text x="200.80" y="16.50" font-size="5.3" class="s">Vehicle</text>
<circle cx="197.40" cy="20.50" r="1.15" fill="#c8102e"/>
<text x="200.80" y="22.40" font-size="5.3" class="s">MRTX849 100 mg/kg</text>
<circle cx="197.40" cy="26.40" r="1.15" fill="#22388a"/>
<text x="200.80" y="28.30" font-size="5.3" class="s">Afatinib 12.5 mg/kg</text>
<circle cx="197.40" cy="32.30" r="1.15" fill="#1f9a52"/>
<text x="200.80" y="34.20" font-size="5.3" class="s">MRTX849 + Afatinib</text>
<text x="267.00" y="9.40" font-size="9.6" font-weight="bold" fill="#111">B</text>
<line x1="305.00" y1="27.10" x2="305.00" y2="81.00" stroke="#222" stroke-width="0.8"/>
<line x1="303.60" y1="81.00" x2="305.00" y2="81.00" stroke="#222" stroke-width="0.8"/>
<text x="301.00" y="83.40" font-size="7.0" text-anchor="end">0</text>
<line x1="303.60" y1="54.05" x2="305.00" y2="54.05" stroke="#222" stroke-width="0.8"/>
<text x="301.00" y="56.45" font-size="7.0" text-anchor="end">50</text>
<line x1="303.60" y1="27.10" x2="305.00" y2="27.10" stroke="#222" stroke-width="0.8"/>
<text x="301.00" y="29.50" font-size="7.0" text-anchor="end">100</text>
<line x1="305.00" y1="81.00" x2="376.00" y2="81.00" stroke="#222" stroke-width="0.8"/>
<text x="274.10" y="54.50" font-size="7.5" text-anchor="middle" transform="rotate(-90 274.10 54.50)">Normalized KRAS</text>
<text x="282.70" y="54.00" font-size="7.5" text-anchor="middle" transform="rotate(-90 282.70 54.00)">mobility shift (% control)</text>
<text x="305.80" y="14.20" font-size="6.3">KRAS mobility shift</text>
<rect x="306.80" y="17.70" width="2.50" height="2.50" fill="#555" stroke="#222" stroke-width="0.35"/>
<text x="311.40" y="20.70" font-size="5.35" class="s">MRTX849 single agent</text>
<rect x="306.80" y="23.40" width="2.50" height="2.50" fill="#eee" stroke="#555" stroke-width="0.35"/>
<text x="311.40" y="26.30" font-size="5.35" class="s">MRTX849 + afatinib (0.2 µmol/L)</text>
<rect x="337.00" y="80.84" width="3.40" height="0.16" fill="#6b6b6b" stroke="#222" stroke-width="0.35"/>
<rect x="340.40" y="72.05" width="3.40" height="8.95" fill="#dcdcdc" stroke="#777" stroke-width="0.35"/>
<rect x="345.20" y="76.63" width="3.40" height="4.37" fill="#6b6b6b" stroke="#222" stroke-width="0.35"/>
<rect x="348.60" y="59.66" width="3.40" height="21.34" fill="#dcdcdc" stroke="#777" stroke-width="0.35"/>
<rect x="353.20" y="67.74" width="3.40" height="13.26" fill="#6b6b6b" stroke="#222" stroke-width="0.35"/>
<rect x="356.60" y="40.84" width="3.40" height="40.16" fill="#dcdcdc" stroke="#777" stroke-width="0.35"/>
<rect x="361.00" y="56.91" width="3.40" height="24.09" fill="#6b6b6b" stroke="#222" stroke-width="0.35"/>
<rect x="364.40" y="35.78" width="3.40" height="45.22" fill="#dcdcdc" stroke="#777" stroke-width="0.35"/>
<rect x="369.00" y="31.47" width="3.40" height="49.53" fill="#6b6b6b" stroke="#222" stroke-width="0.35"/>
<rect x="372.40" y="28.39" width="3.40" height="52.61" fill="#dcdcdc" stroke="#777" stroke-width="0.35"/>
<polygon points="326.80,88.80 375.40,82.60 375.40,88.80" fill="#111"/>
<text x="351.00" y="97.40" font-size="7.6" text-anchor="middle">[MRTX849]</text>
<text x="311.80" y="87.30" font-size="6.9" text-anchor="end" transform="rotate(-45 311.80 87.30)">Veh</text>
<text x="321.00" y="88.60" font-size="6.9" text-anchor="end" transform="rotate(-45 321.00 88.60)">Afat</text>
<line x1="296.30" y1="112.60" x2="296.30" y2="166.70" stroke="#222" stroke-width="0.8"/>
<line x1="294.90" y1="166.70" x2="296.30" y2="166.70" stroke="#222" stroke-width="0.8"/>
<text x="292.00" y="169.10" font-size="7.0" text-anchor="end">0.0</text>
<line x1="294.90" y1="148.70" x2="296.30" y2="148.70" stroke="#222" stroke-width="0.8"/>
<text x="292.00" y="151.10" font-size="7.0" text-anchor="end">0.5</text>
<line x1="294.90" y1="130.70" x2="296.30" y2="130.70" stroke="#222" stroke-width="0.8"/>
<text x="292.00" y="133.10" font-size="7.0" text-anchor="end">1.0</text>
<line x1="294.90" y1="112.70" x2="296.30" y2="112.70" stroke="#222" stroke-width="0.8"/>
<text x="292.00" y="115.10" font-size="7.0" text-anchor="end">1.5</text>
<line x1="296.30" y1="166.70" x2="366.00" y2="166.70" stroke="#222" stroke-width="0.8"/>
<text x="275.30" y="140.70" font-size="7.5" text-anchor="middle" transform="rotate(-90 275.30 140.70)">Normalized expression</text>
<text x="299.00" y="113.80" font-size="6.3">ERK phosphorylation</text>
<rect x="298.30" y="117.50" width="2.60" height="2.60" fill="#555" stroke="#222" stroke-width="0.35"/>
<text x="303.60" y="120.80" font-size="5.35" class="s">MRTX849 single agent</text>
<rect x="298.30" y="123.00" width="2.60" height="2.60" fill="#eee" stroke="#555" stroke-width="0.35"/>
<text x="303.60" y="125.90" font-size="5.35" class="s">MRTX849 + afatinib (0.2 µmol/L)</text>
<rect x="297.10" y="130.70" width="2.80" height="36.00" fill="#111"/>
<rect x="304.70" y="148.34" width="3.00" height="18.36" fill="#444" stroke="#111" stroke-width="0.35"/>
<rect x="312.30" y="135.02" width="3.10" height="31.68" fill="#6b6b6b" stroke="#222" stroke-width="0.35"/>
<rect x="315.40" y="149.42" width="3.10" height="17.28" fill="#dcdcdc" stroke="#777" stroke-width="0.35"/>
<rect x="320.20" y="137.18" width="3.10" height="29.52" fill="#6b6b6b" stroke="#222" stroke-width="0.35"/>
<rect x="323.30" y="147.98" width="3.10" height="18.72" fill="#dcdcdc" stroke="#777" stroke-width="0.35"/>
<rect x="328.00" y="138.98" width="3.10" height="27.72" fill="#6b6b6b" stroke="#222" stroke-width="0.35"/>
<rect x="331.10" y="154.82" width="3.10" height="11.88" fill="#dcdcdc" stroke="#777" stroke-width="0.35"/>
<rect x="335.80" y="146.90" width="3.10" height="19.80" fill="#6b6b6b" stroke="#222" stroke-width="0.35"/>
<rect x="338.90" y="156.98" width="3.10" height="9.72" fill="#dcdcdc" stroke="#777" stroke-width="0.35"/>
<rect x="343.60" y="152.66" width="3.10" height="14.04" fill="#6b6b6b" stroke="#222" stroke-width="0.35"/>
<rect x="346.70" y="161.30" width="3.10" height="5.40" fill="#dcdcdc" stroke="#777" stroke-width="0.35"/>
<rect x="351.30" y="154.46" width="3.10" height="12.24" fill="#6b6b6b" stroke="#222" stroke-width="0.35"/>
<rect x="354.40" y="163.10" width="3.10" height="3.60" fill="#dcdcdc" stroke="#777" stroke-width="0.35"/>
<rect x="359.20" y="160.94" width="3.10" height="5.76" fill="#6b6b6b" stroke="#222" stroke-width="0.35"/>
<rect x="362.30" y="165.26" width="3.10" height="1.44" fill="#dcdcdc" stroke="#777" stroke-width="0.35"/>
<polygon points="317.60,173.40 365.60,166.70 365.60,173.40" fill="#111"/>
<text x="344.60" y="183.20" font-size="7.6" text-anchor="middle">[MRTX849]</text>
<text x="302.60" y="173.20" font-size="6.9" text-anchor="end" transform="rotate(-45 302.60 173.20)">Veh</text>
<text x="312.00" y="174.80" font-size="6.9" text-anchor="end" transform="rotate(-45 312.00 174.80)">Afat</text>
<text x="394.60" y="10.00" font-size="9.6" font-weight="bold" fill="#111">C</text>
<line x1="418.80" y1="12.60" x2="418.80" y2="62.30" stroke="#222" stroke-width="0.8"/>
<line x1="417.40" y1="62.30" x2="418.80" y2="62.30" stroke="#222" stroke-width="0.8"/>
<text x="415.00" y="64.70" font-size="7.0" text-anchor="end">0</text>
<line x1="417.40" y1="52.40" x2="418.80" y2="52.40" stroke="#222" stroke-width="0.8"/>
<text x="415.00" y="54.80" font-size="7.0" text-anchor="end">5</text>
<line x1="417.40" y1="42.50" x2="418.80" y2="42.50" stroke="#222" stroke-width="0.8"/>
<text x="415.00" y="44.90" font-size="7.0" text-anchor="end">10</text>
<line x1="417.40" y1="32.60" x2="418.80" y2="32.60" stroke="#222" stroke-width="0.8"/>
<text x="415.00" y="35.00" font-size="7.0" text-anchor="end">15</text>
<line x1="417.40" y1="22.70" x2="418.80" y2="22.70" stroke="#222" stroke-width="0.8"/>
<text x="415.00" y="25.10" font-size="7.0" text-anchor="end">20</text>
<line x1="417.40" y1="12.80" x2="418.80" y2="12.80" stroke="#222" stroke-width="0.8"/>
<text x="415.00" y="15.20" font-size="7.0" text-anchor="end">25</text>
<line x1="418.80" y1="62.30" x2="513.50" y2="62.30" stroke="#222" stroke-width="0.8"/>
<text x="403.90" y="37.50" font-size="7.0" text-anchor="middle" transform="rotate(-90 403.90 37.50)">pERK H-score</text>
<line x1="423.05" y1="26.00" x2="423.05" y2="31.10" stroke="#666" stroke-width="0.5"/>
<line x1="422.15" y1="26.00" x2="423.95" y2="26.00" stroke="#666" stroke-width="0.5"/>
<rect x="420.80" y="31.10" width="4.50" height="31.20" fill="#111" stroke="#000" stroke-width="0.35"/>
<line x1="430.03" y1="57.70" x2="430.03" y2="60.10" stroke="#666" stroke-width="0.5"/>
<line x1="429.13" y1="57.70" x2="430.93" y2="57.70" stroke="#666" stroke-width="0.5"/>
<rect x="427.78" y="60.10" width="4.50" height="2.20" fill="#6e6e6e" stroke="#222" stroke-width="0.35"/>
<line x1="437.01" y1="37.00" x2="437.01" y2="47.90" stroke="#666" stroke-width="0.5"/>
<line x1="436.11" y1="37.00" x2="437.91" y2="37.00" stroke="#666" stroke-width="0.5"/>
<rect x="434.76" y="47.90" width="4.50" height="14.40" fill="#777" stroke="#222" stroke-width="0.35"/>
<line x1="443.99" y1="32.10" x2="443.99" y2="40.10" stroke="#666" stroke-width="0.5"/>
<line x1="443.09" y1="32.10" x2="444.89" y2="32.10" stroke="#666" stroke-width="0.5"/>
<rect x="441.74" y="40.10" width="4.50" height="22.20" fill="#dcdcdc" stroke="#888" stroke-width="0.35"/>
<line x1="450.97" y1="17.20" x2="450.97" y2="41.10" stroke="#666" stroke-width="0.5"/>
<line x1="450.07" y1="17.20" x2="451.87" y2="17.20" stroke="#666" stroke-width="0.5"/>
<rect x="448.72" y="41.10" width="4.50" height="21.20" fill="#dcdcdc" stroke="#888" stroke-width="0.35"/>
<line x1="457.95" y1="56.00" x2="457.95" y2="59.10" stroke="#666" stroke-width="0.5"/>
<line x1="457.05" y1="56.00" x2="458.85" y2="56.00" stroke="#666" stroke-width="0.5"/>
<rect x="455.70" y="59.10" width="4.50" height="3.20" fill="#3c3c3c" stroke="#111" stroke-width="0.35"/>
<line x1="464.93" y1="52.00" x2="464.93" y2="54.60" stroke="#666" stroke-width="0.5"/>
<line x1="464.03" y1="52.00" x2="465.83" y2="52.00" stroke="#666" stroke-width="0.5"/>
<rect x="462.68" y="54.60" width="4.50" height="7.70" fill="#3c3c3c" stroke="#111" stroke-width="0.35"/>
<line x1="471.91" y1="28.90" x2="471.91" y2="39.10" stroke="#666" stroke-width="0.5"/>
<line x1="471.01" y1="28.90" x2="472.81" y2="28.90" stroke="#666" stroke-width="0.5"/>
<rect x="469.66" y="39.10" width="4.50" height="23.20" fill="#777" stroke="#222" stroke-width="0.35"/>
<line x1="478.89" y1="45.80" x2="478.89" y2="50.90" stroke="#666" stroke-width="0.5"/>
<line x1="477.99" y1="45.80" x2="479.79" y2="45.80" stroke="#666" stroke-width="0.5"/>
<rect x="476.64" y="50.90" width="4.50" height="11.40" fill="#777" stroke="#222" stroke-width="0.35"/>
<line x1="485.87" y1="50.90" x2="485.87" y2="54.00" stroke="#666" stroke-width="0.5"/>
<line x1="484.97" y1="50.90" x2="486.77" y2="50.90" stroke="#666" stroke-width="0.5"/>
<rect x="483.62" y="54.00" width="4.50" height="8.30" fill="#dcdcdc" stroke="#888" stroke-width="0.35"/>
<line x1="492.85" y1="28.90" x2="492.85" y2="41.70" stroke="#666" stroke-width="0.5"/>
<line x1="491.95" y1="28.90" x2="493.75" y2="28.90" stroke="#666" stroke-width="0.5"/>
<rect x="490.60" y="41.70" width="4.50" height="20.60" fill="#dcdcdc" stroke="#888" stroke-width="0.35"/>
<line x1="499.83" y1="43.80" x2="499.83" y2="52.30" stroke="#666" stroke-width="0.5"/>
<line x1="498.93" y1="43.80" x2="500.73" y2="43.80" stroke="#666" stroke-width="0.5"/>
<rect x="497.58" y="52.30" width="4.50" height="10.00" fill="#3c3c3c" stroke="#111" stroke-width="0.35"/>
<line x1="506.81" y1="53.60" x2="506.81" y2="55.00" stroke="#666" stroke-width="0.5"/>
<line x1="505.91" y1="53.60" x2="507.71" y2="53.60" stroke="#666" stroke-width="0.5"/>
<rect x="504.56" y="55.00" width="4.50" height="7.30" fill="#3c3c3c" stroke="#111" stroke-width="0.35"/>
<line x1="422.90" y1="12.80" x2="506.20" y2="12.80" stroke="#777" stroke-width="0.55"/>
<line x1="506.20" y1="12.80" x2="506.20" y2="15.20" stroke="#777" stroke-width="0.55"/>
<line x1="422.90" y1="16.20" x2="464.60" y2="16.20" stroke="#777" stroke-width="0.55"/>
<line x1="464.60" y1="16.20" x2="464.60" y2="19.30" stroke="#777" stroke-width="0.55"/>
<line x1="457.90" y1="16.20" x2="457.90" y2="19.30" stroke="#777" stroke-width="0.55"/>
<line x1="422.90" y1="19.70" x2="429.70" y2="19.70" stroke="#777" stroke-width="0.55"/>
<line x1="429.70" y1="19.70" x2="429.70" y2="22.30" stroke="#777" stroke-width="0.55"/>
<line x1="422.90" y1="12.80" x2="422.90" y2="24.50" stroke="#777" stroke-width="0.55"/>
<line x1="420.20" y1="79.30" x2="420.20" y2="129.30" stroke="#222" stroke-width="0.8"/>
<line x1="418.80" y1="129.30" x2="420.20" y2="129.30" stroke="#222" stroke-width="0.8"/>
<text x="417.40" y="131.70" font-size="7.0" text-anchor="end">0</text>
<line x1="418.80" y1="112.70" x2="420.20" y2="112.70" stroke="#222" stroke-width="0.8"/>
<text x="417.40" y="115.10" font-size="7.0" text-anchor="end">20</text>
<line x1="418.80" y1="96.10" x2="420.20" y2="96.10" stroke="#222" stroke-width="0.8"/>
<text x="417.40" y="98.50" font-size="7.0" text-anchor="end">40</text>
<line x1="418.80" y1="79.50" x2="420.20" y2="79.50" stroke="#222" stroke-width="0.8"/>
<text x="417.40" y="81.90" font-size="7.0" text-anchor="end">60</text>
<line x1="420.20" y1="129.30" x2="513.50" y2="129.30" stroke="#222" stroke-width="0.8"/>
<text x="403.20" y="104.60" font-size="7.0" text-anchor="middle" transform="rotate(-90 403.20 104.60)">pS6 H-score</text>
<line x1="425.30" y1="102.40" x2="425.30" y2="109.80" stroke="#666" stroke-width="0.5"/>
<line x1="424.40" y1="102.40" x2="426.20" y2="102.40" stroke="#666" stroke-width="0.5"/>
<rect x="423.10" y="109.80" width="4.40" height="19.50" fill="#111" stroke="#000" stroke-width="0.35"/>
<line x1="432.30" y1="117.40" x2="432.30" y2="121.10" stroke="#666" stroke-width="0.5"/>
<line x1="431.40" y1="117.40" x2="433.20" y2="117.40" stroke="#666" stroke-width="0.5"/>
<rect x="430.10" y="121.10" width="4.40" height="8.20" fill="#6e6e6e" stroke="#222" stroke-width="0.35"/>
<line x1="439.30" y1="121.10" x2="439.30" y2="123.80" stroke="#666" stroke-width="0.5"/>
<line x1="438.40" y1="121.10" x2="440.20" y2="121.10" stroke="#666" stroke-width="0.5"/>
<rect x="437.10" y="123.80" width="4.40" height="5.50" fill="#777" stroke="#222" stroke-width="0.35"/>
<line x1="446.30" y1="103.50" x2="446.30" y2="107.10" stroke="#666" stroke-width="0.5"/>
<line x1="445.40" y1="103.50" x2="447.20" y2="103.50" stroke="#666" stroke-width="0.5"/>
<rect x="444.10" y="107.10" width="4.40" height="22.20" fill="#dcdcdc" stroke="#888" stroke-width="0.35"/>
<line x1="453.30" y1="83.20" x2="453.30" y2="101.80" stroke="#666" stroke-width="0.5"/>
<line x1="452.40" y1="83.20" x2="454.20" y2="83.20" stroke="#666" stroke-width="0.5"/>
<rect x="451.10" y="101.80" width="4.40" height="27.50" fill="#dcdcdc" stroke="#888" stroke-width="0.35"/>
<line x1="460.30" y1="118.90" x2="460.30" y2="125.00" stroke="#666" stroke-width="0.5"/>
<line x1="459.40" y1="118.90" x2="461.20" y2="118.90" stroke="#666" stroke-width="0.5"/>
<rect x="458.10" y="125.00" width="4.40" height="4.30" fill="#3c3c3c" stroke="#111" stroke-width="0.35"/>
<line x1="467.30" y1="124.00" x2="467.30" y2="125.60" stroke="#666" stroke-width="0.5"/>
<line x1="466.40" y1="124.00" x2="468.20" y2="124.00" stroke="#666" stroke-width="0.5"/>
<rect x="465.10" y="125.60" width="4.40" height="3.70" fill="#3c3c3c" stroke="#111" stroke-width="0.35"/>
<line x1="474.30" y1="123.60" x2="474.30" y2="127.10" stroke="#666" stroke-width="0.5"/>
<line x1="473.40" y1="123.60" x2="475.20" y2="123.60" stroke="#666" stroke-width="0.5"/>
<rect x="472.10" y="127.10" width="4.40" height="2.20" fill="#777" stroke="#222" stroke-width="0.35"/>
<line x1="481.30" y1="123.30" x2="481.30" y2="126.80" stroke="#666" stroke-width="0.5"/>
<line x1="480.40" y1="123.30" x2="482.20" y2="123.30" stroke="#666" stroke-width="0.5"/>
<rect x="479.10" y="126.80" width="4.40" height="2.50" fill="#777" stroke="#222" stroke-width="0.35"/>
<line x1="488.30" y1="117.80" x2="488.30" y2="123.60" stroke="#666" stroke-width="0.5"/>
<line x1="487.40" y1="117.80" x2="489.20" y2="117.80" stroke="#666" stroke-width="0.5"/>
<rect x="486.10" y="123.60" width="4.40" height="5.70" fill="#dcdcdc" stroke="#888" stroke-width="0.35"/>
<line x1="495.30" y1="115.00" x2="495.30" y2="121.60" stroke="#666" stroke-width="0.5"/>
<line x1="494.40" y1="115.00" x2="496.20" y2="115.00" stroke="#666" stroke-width="0.5"/>
<rect x="493.10" y="121.60" width="4.40" height="7.70" fill="#dcdcdc" stroke="#888" stroke-width="0.35"/>
<line x1="502.30" y1="126.50" x2="502.30" y2="127.60" stroke="#666" stroke-width="0.5"/>
<line x1="501.40" y1="126.50" x2="503.20" y2="126.50" stroke="#666" stroke-width="0.5"/>
<rect x="500.10" y="127.60" width="4.40" height="1.70" fill="#3c3c3c" stroke="#111" stroke-width="0.35"/>
<line x1="509.30" y1="126.50" x2="509.30" y2="127.60" stroke="#666" stroke-width="0.5"/>
<line x1="508.40" y1="126.50" x2="510.20" y2="126.50" stroke="#666" stroke-width="0.5"/>
<rect x="507.10" y="127.60" width="4.40" height="1.70" fill="#3c3c3c" stroke="#111" stroke-width="0.35"/>
<line x1="424.80" y1="66.70" x2="509.30" y2="66.70" stroke="#777" stroke-width="0.55"/>
<line x1="509.30" y1="66.70" x2="509.30" y2="69.20" stroke="#777" stroke-width="0.55"/>
<line x1="502.30" y1="66.70" x2="502.30" y2="69.20" stroke="#777" stroke-width="0.55"/>
<line x1="424.80" y1="70.20" x2="481.30" y2="70.20" stroke="#777" stroke-width="0.55"/>
<line x1="481.30" y1="70.20" x2="481.30" y2="73.30" stroke="#777" stroke-width="0.55"/>
<line x1="474.20" y1="70.20" x2="474.20" y2="73.30" stroke="#777" stroke-width="0.55"/>
<line x1="424.80" y1="73.90" x2="467.00" y2="73.90" stroke="#777" stroke-width="0.55"/>
<line x1="467.00" y1="73.90" x2="467.00" y2="76.70" stroke="#777" stroke-width="0.55"/>
<line x1="459.90" y1="73.90" x2="459.90" y2="76.70" stroke="#777" stroke-width="0.55"/>
<line x1="424.80" y1="77.30" x2="439.50" y2="77.30" stroke="#777" stroke-width="0.55"/>
<line x1="439.50" y1="77.30" x2="439.50" y2="80.40" stroke="#777" stroke-width="0.55"/>
<line x1="424.80" y1="66.70" x2="424.80" y2="80.40" stroke="#777" stroke-width="0.55"/>
<line x1="446.20" y1="80.40" x2="459.90" y2="80.40" stroke="#777" stroke-width="0.55"/>
<line x1="446.20" y1="80.40" x2="446.20" y2="83.00" stroke="#777" stroke-width="0.55"/>
<line x1="459.90" y1="80.40" x2="459.90" y2="83.00" stroke="#777" stroke-width="0.55"/>
<line x1="453.30" y1="84.10" x2="467.60" y2="84.10" stroke="#777" stroke-width="0.55"/>
<line x1="467.60" y1="84.10" x2="467.60" y2="87.10" stroke="#777" stroke-width="0.55"/>
<line x1="453.30" y1="84.10" x2="453.30" y2="101.00" stroke="#777" stroke-width="0.55"/>
<text x="425.30" y="137.40" font-size="5.9" text-anchor="middle">24</text>
<text x="432.30" y="137.40" font-size="5.9" text-anchor="middle">6</text>
<text x="439.30" y="137.40" font-size="5.9" text-anchor="middle">24</text>
<text x="446.30" y="137.40" font-size="5.9" text-anchor="middle">6</text>
<text x="453.30" y="137.40" font-size="5.9" text-anchor="middle">24</text>
<text x="460.30" y="137.40" font-size="5.9" text-anchor="middle">6</text>
<text x="467.30" y="137.40" font-size="5.9" text-anchor="middle">24</text>
<text x="474.30" y="137.40" font-size="5.9" text-anchor="middle">6</text>
<text x="481.30" y="137.40" font-size="5.9" text-anchor="middle">24</text>
<text x="488.30" y="137.40" font-size="5.9" text-anchor="middle">6</text>
<text x="495.30" y="137.40" font-size="5.9" text-anchor="middle">24</text>
<text x="502.30" y="137.40" font-size="5.9" text-anchor="middle">6</text>
<text x="511.30" y="137.40" font-size="5.9" text-anchor="middle">24</text>
<text x="517.80" y="137.40" font-size="5.9" text-anchor="middle">h</text>
<text x="405.00" y="142.50" font-size="6.4" text-anchor="end">MRTX849</text>
<text x="405.00" y="149.80" font-size="6.4" text-anchor="end">Afatinib</text>
<text x="433.10" y="142.20" font-size="5.4" text-anchor="middle" class="s">+</text>
<text x="440.10" y="142.20" font-size="5.4" text-anchor="middle" class="s">+</text>
<text x="461.10" y="142.20" font-size="5.4" text-anchor="middle" class="s">+</text>
<text x="468.10" y="142.20" font-size="5.4" text-anchor="middle" class="s">+</text>
<text x="475.10" y="142.20" font-size="5.4" text-anchor="middle" class="s">+</text>
<text x="482.10" y="142.20" font-size="5.4" text-anchor="middle" class="s">+</text>
<text x="503.10" y="142.20" font-size="5.4" text-anchor="middle" class="s">+</text>
<text x="510.10" y="142.20" font-size="5.4" text-anchor="middle" class="s">+</text>
<text x="447.10" y="147.90" font-size="5.4" text-anchor="middle" class="s">+</text>
<text x="454.10" y="147.90" font-size="5.4" text-anchor="middle" class="s">+</text>
<text x="461.10" y="147.90" font-size="5.4" text-anchor="middle" class="s">+</text>
<text x="468.10" y="147.90" font-size="5.4" text-anchor="middle" class="s">+</text>
<text x="489.10" y="147.90" font-size="5.4" text-anchor="middle" class="s">+</text>
<text x="496.10" y="147.90" font-size="5.4" text-anchor="middle" class="s">+</text>
<text x="503.10" y="147.90" font-size="5.4" text-anchor="middle" class="s">+</text>
<text x="510.10" y="147.90" font-size="5.4" text-anchor="middle" class="s">+</text>
<line x1="471.40" y1="129.30" x2="471.40" y2="151.50" stroke="#333" stroke-width="0.6"/>
<text x="450.20" y="156.40" font-size="6.4" text-anchor="middle">QD × 1</text>
<text x="494.80" y="156.40" font-size="6.4" text-anchor="middle">QD × 7</text>
<text x="0.60" y="131.60" font-size="9.6" font-weight="bold" fill="#111">D</text>
<line x1="45.20" y1="145.60" x2="45.20" y2="198.90" stroke="#222" stroke-width="0.8"/>
<line x1="43.80" y1="198.90" x2="45.20" y2="198.90" stroke="#222" stroke-width="0.8"/>
<text x="43.40" y="201.30" font-size="6.8" text-anchor="end">0</text>
<line x1="43.80" y1="185.58" x2="45.20" y2="185.58" stroke="#222" stroke-width="0.8"/>
<text x="43.40" y="187.98" font-size="6.8" text-anchor="end">20</text>
<line x1="43.80" y1="172.26" x2="45.20" y2="172.26" stroke="#222" stroke-width="0.8"/>
<text x="43.40" y="174.66" font-size="6.8" text-anchor="end">40</text>
<line x1="43.80" y1="158.94" x2="45.20" y2="158.94" stroke="#222" stroke-width="0.8"/>
<text x="43.40" y="161.34" font-size="6.8" text-anchor="end">60</text>
<line x1="43.80" y1="145.62" x2="45.20" y2="145.62" stroke="#222" stroke-width="0.8"/>
<text x="43.40" y="148.02" font-size="6.8" text-anchor="end">80</text>
<line x1="45.20" y1="198.90" x2="117.00" y2="198.90" stroke="#222" stroke-width="0.8"/>
<text x="21.10" y="174.50" font-size="7.5" text-anchor="middle" transform="rotate(-90 21.10 174.50)">Normalized KRAS</text>
<text x="29.60" y="173.50" font-size="7.5" text-anchor="middle" transform="rotate(-90 29.60 173.50)">mobility shift (% control)</text>
<text x="51.40" y="135.70" font-size="6.4">KRAS mobility shift</text>
<rect x="48.00" y="137.90" width="2.50" height="2.50" fill="#555" stroke="#222" stroke-width="0.35"/>
<text x="52.80" y="141.30" font-size="5.33" class="s">MRTX849 single agent</text>
<rect x="48.00" y="144.30" width="2.50" height="2.50" fill="#eee" stroke="#555" stroke-width="0.35"/>
<text x="52.80" y="147.40" font-size="5.33" class="s">MRTX849 + RMC-4550 (1 µmol/L)</text>
<rect x="71.40" y="198.70" width="3.10" height="0.20" fill="#6b6b6b" stroke="#222" stroke-width="0.35"/>
<rect x="74.50" y="198.10" width="3.10" height="0.80" fill="#dcdcdc" stroke="#777" stroke-width="0.35"/>
<rect x="78.90" y="198.10" width="3.10" height="0.80" fill="#6b6b6b" stroke="#222" stroke-width="0.35"/>
<rect x="82.00" y="194.24" width="3.10" height="4.66" fill="#dcdcdc" stroke="#777" stroke-width="0.35"/>
<rect x="86.10" y="195.57" width="3.10" height="3.33" fill="#6b6b6b" stroke="#222" stroke-width="0.35"/>
<rect x="89.20" y="179.59" width="3.10" height="19.31" fill="#dcdcdc" stroke="#777" stroke-width="0.35"/>
<rect x="94.00" y="183.58" width="3.10" height="15.32" fill="#6b6b6b" stroke="#222" stroke-width="0.35"/>
<rect x="97.10" y="162.27" width="3.10" height="36.63" fill="#dcdcdc" stroke="#777" stroke-width="0.35"/>
<rect x="101.80" y="170.26" width="3.10" height="28.64" fill="#6b6b6b" stroke="#222" stroke-width="0.35"/>
<rect x="104.90" y="162.94" width="3.10" height="35.96" fill="#dcdcdc" stroke="#777" stroke-width="0.35"/>
<rect x="109.40" y="150.95" width="3.10" height="47.95" fill="#6b6b6b" stroke="#222" stroke-width="0.35"/>
<rect x="112.50" y="162.94" width="3.10" height="35.96" fill="#dcdcdc" stroke="#777" stroke-width="0.35"/>
<polygon points="66.30,206.20 116.60,198.90 116.60,206.20" fill="#111"/>
<text x="95.60" y="214.00" font-size="7.6" text-anchor="middle">[MRTX849]</text>
<text x="53.60" y="205.20" font-size="6.9" text-anchor="end" transform="rotate(-45 53.60 205.20)">Veh</text>
<text x="63.00" y="206.30" font-size="6.9" text-anchor="end" transform="rotate(-45 63.00 206.30)">RMC</text>
<line x1="47.60" y1="232.40" x2="47.60" y2="285.00" stroke="#222" stroke-width="0.8"/>
<line x1="46.20" y1="285.00" x2="47.60" y2="285.00" stroke="#222" stroke-width="0.8"/>
<text x="44.20" y="287.40" font-size="6.8" text-anchor="end">0.0</text>
<line x1="46.20" y1="267.50" x2="47.60" y2="267.50" stroke="#222" stroke-width="0.8"/>
<text x="44.20" y="269.90" font-size="6.8" text-anchor="end">0.5</text>
<line x1="46.20" y1="250.00" x2="47.60" y2="250.00" stroke="#222" stroke-width="0.8"/>
<text x="44.20" y="252.40" font-size="6.8" text-anchor="end">1.0</text>
<line x1="46.20" y1="232.50" x2="47.60" y2="232.50" stroke="#222" stroke-width="0.8"/>
<text x="44.20" y="234.90" font-size="6.8" text-anchor="end">1.5</text>
<line x1="47.60" y1="285.00" x2="119.50" y2="285.00" stroke="#222" stroke-width="0.8"/>
<text x="29.40" y="260.00" font-size="7.5" text-anchor="middle" transform="rotate(-90 29.40 260.00)">Normalized expression</text>
<text x="53.20" y="227.80" font-size="6.4">ERK phosphorylation</text>
<rect x="50.00" y="231.50" width="2.60" height="2.60" fill="#555" stroke="#222" stroke-width="0.35"/>
<text x="53.60" y="233.60" font-size="5.38" class="s">MRTX849 single agent</text>
<rect x="50.00" y="236.80" width="2.60" height="2.60" fill="#eee" stroke="#555" stroke-width="0.35"/>
<text x="53.60" y="239.60" font-size="5.3" textLength="73.2" lengthAdjust="spacingAndGlyphs" class="s">MRTX849 + RMC-4550 (1 µmol/L)</text>
<rect x="48.90" y="250.00" width="2.90" height="35.00" fill="#111"/>
<rect x="56.30" y="279.75" width="3.00" height="5.25" fill="#333" stroke="#111" stroke-width="0.35"/>
<rect x="64.40" y="241.25" width="3.20" height="43.75" fill="#8a8a8a" stroke="#222" stroke-width="0.35"/>
<rect x="67.60" y="281.15" width="3.20" height="3.85" fill="#f2f2f2" stroke="#aaa" stroke-width="0.35"/>
<rect x="72.20" y="245.80" width="3.20" height="39.20" fill="#8a8a8a" stroke="#222" stroke-width="0.35"/>
<rect x="75.40" y="281.50" width="3.20" height="3.50" fill="#f2f2f2" stroke="#aaa" stroke-width="0.35"/>
<rect x="80.20" y="252.45" width="3.20" height="32.55" fill="#8a8a8a" stroke="#222" stroke-width="0.35"/>
<rect x="83.40" y="281.50" width="3.20" height="3.50" fill="#f2f2f2" stroke="#aaa" stroke-width="0.35"/>
<rect x="88.30" y="267.50" width="3.20" height="17.50" fill="#8a8a8a" stroke="#222" stroke-width="0.35"/>
<rect x="91.50" y="282.90" width="3.20" height="2.10" fill="#f2f2f2" stroke="#aaa" stroke-width="0.35"/>
<rect x="95.80" y="271.00" width="3.20" height="14.00" fill="#8a8a8a" stroke="#222" stroke-width="0.35"/>
<rect x="99.00" y="282.90" width="3.20" height="2.10" fill="#f2f2f2" stroke="#aaa" stroke-width="0.35"/>
<rect x="103.60" y="277.30" width="3.20" height="7.70" fill="#8a8a8a" stroke="#222" stroke-width="0.35"/>
<rect x="106.80" y="283.95" width="3.20" height="1.05" fill="#f2f2f2" stroke="#aaa" stroke-width="0.35"/>
<rect x="111.10" y="280.80" width="3.20" height="4.20" fill="#8a8a8a" stroke="#222" stroke-width="0.35"/>
<rect x="114.30" y="283.95" width="3.20" height="1.05" fill="#f2f2f2" stroke="#aaa" stroke-width="0.35"/>
<polygon points="63.70,292.70 118.60,285.00 118.60,292.70" fill="#111"/>
<text x="82.90" y="302.00" font-size="7.6" text-anchor="middle">[MRTX849]</text>
<text x="55.00" y="291.00" font-size="6.9" text-anchor="end" transform="rotate(-45 55.00 291.00)">Veh</text>
<text x="64.20" y="291.20" font-size="6.9" text-anchor="end" transform="rotate(-45 64.20 291.20)">RMC</text>
<text x="133.60" y="197.80" font-size="9.6" font-weight="bold" fill="#111">E</text>
<text x="181.60" y="203.50" font-size="6.3">KYSE-410</text>
<text x="179.40" y="210.80" font-size="6.3">Dosing stopped</text>
<line x1="165.50" y1="214.10" x2="165.50" y2="283.20" stroke="#222" stroke-width="0.8"/>
<line x1="164.10" y1="283.20" x2="165.50" y2="283.20" stroke="#222" stroke-width="0.8"/>
<text x="161.80" y="285.60" font-size="7.0" text-anchor="end">0</text>
<line x1="164.10" y1="269.38" x2="165.50" y2="269.38" stroke="#222" stroke-width="0.8"/>
<text x="161.80" y="271.78" font-size="7.0" text-anchor="end">500</text>
<line x1="164.10" y1="255.56" x2="165.50" y2="255.56" stroke="#222" stroke-width="0.8"/>
<text x="161.80" y="257.96" font-size="7.0" text-anchor="end">1,000</text>
<line x1="164.10" y1="241.74" x2="165.50" y2="241.74" stroke="#222" stroke-width="0.8"/>
<text x="161.80" y="244.14" font-size="7.0" text-anchor="end">1,500</text>
<line x1="164.10" y1="227.92" x2="165.50" y2="227.92" stroke="#222" stroke-width="0.8"/>
<text x="161.80" y="230.32" font-size="7.0" text-anchor="end">2,000</text>
<line x1="164.10" y1="214.10" x2="165.50" y2="214.10" stroke="#222" stroke-width="0.8"/>
<text x="161.80" y="216.50" font-size="7.0" text-anchor="end">2,500</text>
<line x1="165.50" y1="283.20" x2="235.60" y2="283.20" stroke="#222" stroke-width="0.8"/>
<line x1="166.00" y1="283.20" x2="166.00" y2="284.60" stroke="#222" stroke-width="0.8"/>
<text x="166.00" y="293.40" font-size="6.6" text-anchor="middle">0</text>
<line x1="175.93" y1="283.20" x2="175.93" y2="284.60" stroke="#222" stroke-width="0.8"/>
<text x="175.93" y="293.40" font-size="6.6" text-anchor="middle">10</text>
<line x1="185.86" y1="283.20" x2="185.86" y2="284.60" stroke="#222" stroke-width="0.8"/>
<text x="185.86" y="293.40" font-size="6.6" text-anchor="middle">20</text>
<line x1="195.79" y1="283.20" x2="195.79" y2="284.60" stroke="#222" stroke-width="0.8"/>
<text x="195.79" y="293.40" font-size="6.6" text-anchor="middle">30</text>
<line x1="205.72" y1="283.20" x2="205.72" y2="284.60" stroke="#222" stroke-width="0.8"/>
<text x="205.72" y="293.40" font-size="6.6" text-anchor="middle">40</text>
<line x1="215.65" y1="283.20" x2="215.65" y2="284.60" stroke="#222" stroke-width="0.8"/>
<text x="215.65" y="293.40" font-size="6.6" text-anchor="middle">50</text>
<line x1="225.58" y1="283.20" x2="225.58" y2="284.60" stroke="#222" stroke-width="0.8"/>
<text x="225.58" y="293.40" font-size="6.6" text-anchor="middle">60</text>
<line x1="235.51" y1="283.20" x2="235.51" y2="284.60" stroke="#222" stroke-width="0.8"/>
<text x="235.51" y="293.40" font-size="6.6" text-anchor="middle">70</text>
<text x="200.80" y="304.90" font-size="7.2" text-anchor="middle">Study day</text>
<text x="138.90" y="249.00" font-size="7.2" text-anchor="middle" transform="rotate(-90 138.90 249.00)">Tumor volume (mm<tspan font-size="4.46" dy="-2.74">3</tspan><tspan dy="2.74">)</tspan></text>
<line x1="194.30" y1="212.50" x2="194.30" y2="283.20" stroke="#444" stroke-width="0.6" stroke-dasharray="0.7 0.7"/>
<line x1="166.99" y1="273.29" x2="166.99" y2="274.49" stroke="#888" stroke-width="0.5"/>
<line x1="166.09" y1="273.29" x2="167.89" y2="273.29" stroke="#888" stroke-width="0.5"/>
<line x1="166.09" y1="274.49" x2="167.89" y2="274.49" stroke="#888" stroke-width="0.5"/>
<line x1="168.98" y1="270.84" x2="168.98" y2="272.84" stroke="#888" stroke-width="0.5"/>
<line x1="168.08" y1="270.84" x2="169.88" y2="270.84" stroke="#888" stroke-width="0.5"/>
<line x1="168.08" y1="272.84" x2="169.88" y2="272.84" stroke="#888" stroke-width="0.5"/>
<line x1="170.97" y1="268.29" x2="170.97" y2="271.29" stroke="#888" stroke-width="0.5"/>
<line x1="170.06" y1="268.29" x2="171.87" y2="268.29" stroke="#888" stroke-width="0.5"/>
<line x1="170.06" y1="271.29" x2="171.87" y2="271.29" stroke="#888" stroke-width="0.5"/>
<line x1="172.95" y1="265.75" x2="172.95" y2="269.75" stroke="#888" stroke-width="0.5"/>
<line x1="172.05" y1="265.75" x2="173.85" y2="265.75" stroke="#888" stroke-width="0.5"/>
<line x1="172.05" y1="269.75" x2="173.85" y2="269.75" stroke="#888" stroke-width="0.5"/>
<line x1="174.94" y1="263.20" x2="174.94" y2="268.20" stroke="#888" stroke-width="0.5"/>
<line x1="174.04" y1="263.20" x2="175.84" y2="263.20" stroke="#888" stroke-width="0.5"/>
<line x1="174.04" y1="268.20" x2="175.84" y2="268.20" stroke="#888" stroke-width="0.5"/>
<line x1="176.92" y1="260.66" x2="176.92" y2="266.66" stroke="#888" stroke-width="0.5"/>
<line x1="176.02" y1="260.66" x2="177.82" y2="260.66" stroke="#888" stroke-width="0.5"/>
<line x1="176.02" y1="266.66" x2="177.82" y2="266.66" stroke="#888" stroke-width="0.5"/>
<line x1="178.91" y1="258.11" x2="178.91" y2="265.11" stroke="#888" stroke-width="0.5"/>
<line x1="178.01" y1="258.11" x2="179.81" y2="258.11" stroke="#888" stroke-width="0.5"/>
<line x1="178.01" y1="265.11" x2="179.81" y2="265.11" stroke="#888" stroke-width="0.5"/>
<line x1="180.90" y1="255.57" x2="180.90" y2="263.57" stroke="#888" stroke-width="0.5"/>
<line x1="180.00" y1="255.57" x2="181.80" y2="255.57" stroke="#888" stroke-width="0.5"/>
<line x1="180.00" y1="263.57" x2="181.80" y2="263.57" stroke="#888" stroke-width="0.5"/>
<line x1="182.88" y1="253.02" x2="182.88" y2="262.02" stroke="#888" stroke-width="0.5"/>
<line x1="181.98" y1="253.02" x2="183.78" y2="253.02" stroke="#888" stroke-width="0.5"/>
<line x1="181.98" y1="262.02" x2="183.78" y2="262.02" stroke="#888" stroke-width="0.5"/>
<line x1="184.87" y1="250.48" x2="184.87" y2="260.48" stroke="#888" stroke-width="0.5"/>
<line x1="183.97" y1="250.48" x2="185.77" y2="250.48" stroke="#888" stroke-width="0.5"/>
<line x1="183.97" y1="260.48" x2="185.77" y2="260.48" stroke="#888" stroke-width="0.5"/>
<line x1="186.85" y1="247.93" x2="186.85" y2="258.93" stroke="#888" stroke-width="0.5"/>
<line x1="185.95" y1="247.93" x2="187.75" y2="247.93" stroke="#888" stroke-width="0.5"/>
<line x1="185.95" y1="258.93" x2="187.75" y2="258.93" stroke="#888" stroke-width="0.5"/>
<line x1="188.84" y1="245.89" x2="188.84" y2="256.89" stroke="#888" stroke-width="0.5"/>
<line x1="187.94" y1="245.89" x2="189.74" y2="245.89" stroke="#888" stroke-width="0.5"/>
<line x1="187.94" y1="256.89" x2="189.74" y2="256.89" stroke="#888" stroke-width="0.5"/>
<line x1="190.82" y1="243.84" x2="190.82" y2="254.84" stroke="#888" stroke-width="0.5"/>
<line x1="189.92" y1="243.84" x2="191.72" y2="243.84" stroke="#888" stroke-width="0.5"/>
<line x1="189.92" y1="254.84" x2="191.72" y2="254.84" stroke="#888" stroke-width="0.5"/>
<line x1="192.81" y1="242.30" x2="192.81" y2="252.30" stroke="#888" stroke-width="0.5"/>
<line x1="191.91" y1="242.30" x2="193.71" y2="242.30" stroke="#888" stroke-width="0.5"/>
<line x1="191.91" y1="252.30" x2="193.71" y2="252.30" stroke="#888" stroke-width="0.5"/>
<line x1="194.30" y1="241.60" x2="194.30" y2="251.60" stroke="#888" stroke-width="0.5"/>
<line x1="193.40" y1="241.60" x2="195.20" y2="241.60" stroke="#888" stroke-width="0.5"/>
<line x1="193.40" y1="251.60" x2="195.20" y2="251.60" stroke="#888" stroke-width="0.5"/>
<line x1="200.50" y1="238.10" x2="200.50" y2="244.10" stroke="#888" stroke-width="0.5"/>
<line x1="199.60" y1="238.10" x2="201.40" y2="238.10" stroke="#888" stroke-width="0.5"/>
<line x1="199.60" y1="244.10" x2="201.40" y2="244.10" stroke="#888" stroke-width="0.5"/>
<line x1="207.50" y1="232.90" x2="207.50" y2="240.90" stroke="#888" stroke-width="0.5"/>
<line x1="206.60" y1="232.90" x2="208.40" y2="232.90" stroke="#888" stroke-width="0.5"/>
<line x1="206.60" y1="240.90" x2="208.40" y2="240.90" stroke="#888" stroke-width="0.5"/>
<line x1="214.70" y1="225.30" x2="214.70" y2="235.70" stroke="#888" stroke-width="0.5"/>
<line x1="213.80" y1="225.30" x2="215.60" y2="225.30" stroke="#888" stroke-width="0.5"/>
<line x1="213.80" y1="235.70" x2="215.60" y2="235.70" stroke="#888" stroke-width="0.5"/>
<line x1="221.60" y1="221.40" x2="221.60" y2="230.40" stroke="#888" stroke-width="0.5"/>
<line x1="220.70" y1="221.40" x2="222.50" y2="221.40" stroke="#888" stroke-width="0.5"/>
<line x1="220.70" y1="230.40" x2="222.50" y2="230.40" stroke="#888" stroke-width="0.5"/>
<line x1="227.60" y1="219.70" x2="227.60" y2="225.70" stroke="#888" stroke-width="0.5"/>
<line x1="226.70" y1="219.70" x2="228.50" y2="219.70" stroke="#888" stroke-width="0.5"/>
<line x1="226.70" y1="225.70" x2="228.50" y2="225.70" stroke="#888" stroke-width="0.5"/>
<polyline points="166.99,273.89 168.98,271.84 170.97,269.79 172.95,267.75 174.94,265.70 176.92,263.66 178.91,261.61 180.90,259.57 182.88,257.52 184.87,255.48 186.85,253.43 188.84,251.39 190.82,249.34 192.81,247.30 194.30,246.60 200.50,241.10 207.50,236.90 214.70,230.50 221.60,225.90 227.60,222.70" fill="none" stroke="#111" stroke-width="0.6"/>
<circle cx="166.99" cy="273.89" r="1.55" fill="#111"/>
<circle cx="168.98" cy="271.84" r="1.55" fill="#111"/>
<circle cx="170.97" cy="269.79" r="1.55" fill="#111"/>
<circle cx="172.95" cy="267.75" r="1.55" fill="#111"/>
<circle cx="174.94" cy="265.70" r="1.55" fill="#111"/>
<circle cx="176.92" cy="263.66" r="1.55" fill="#111"/>
<circle cx="178.91" cy="261.61" r="1.55" fill="#111"/>
<circle cx="180.90" cy="259.57" r="1.55" fill="#111"/>
<circle cx="182.88" cy="257.52" r="1.55" fill="#111"/>
<circle cx="184.87" cy="255.48" r="1.55" fill="#111"/>
<circle cx="186.85" cy="253.43" r="1.55" fill="#111"/>
<circle cx="188.84" cy="251.39" r="1.55" fill="#111"/>
<circle cx="190.82" cy="249.34" r="1.55" fill="#111"/>
<circle cx="192.81" cy="247.30" r="1.55" fill="#111"/>
<circle cx="194.30" cy="246.60" r="1.55" fill="#111"/>
<circle cx="200.50" cy="241.10" r="1.55" fill="#111"/>
<circle cx="207.50" cy="236.90" r="1.55" fill="#111"/>
<circle cx="214.70" cy="230.50" r="1.55" fill="#111"/>
<circle cx="221.60" cy="225.90" r="1.55" fill="#111"/>
<circle cx="227.60" cy="222.70" r="1.55" fill="#111"/>
<polyline points="166.00,273.80 167.99,274.50 169.97,275.00 171.96,275.30 173.94,275.40 175.93,275.30 177.92,275.00 179.90,274.30 181.89,273.30 183.87,272.80 185.86,272.60 187.85,272.60 189.83,272.60 191.82,272.70 193.80,272.80" fill="none" stroke="#e0142a" stroke-width="1.6"/>
<rect x="164.65" y="272.45" width="2.70" height="2.70" fill="#e0142a" stroke="#b00c20" stroke-width="0.3"/>
<rect x="166.64" y="273.15" width="2.70" height="2.70" fill="#e0142a" stroke="#b00c20" stroke-width="0.3"/>
<rect x="168.62" y="273.65" width="2.70" height="2.70" fill="#e0142a" stroke="#b00c20" stroke-width="0.3"/>
<rect x="170.61" y="273.95" width="2.70" height="2.70" fill="#e0142a" stroke="#b00c20" stroke-width="0.3"/>
<rect x="172.59" y="274.05" width="2.70" height="2.70" fill="#e0142a" stroke="#b00c20" stroke-width="0.3"/>
<rect x="174.58" y="273.95" width="2.70" height="2.70" fill="#e0142a" stroke="#b00c20" stroke-width="0.3"/>
<rect x="176.57" y="273.65" width="2.70" height="2.70" fill="#e0142a" stroke="#b00c20" stroke-width="0.3"/>
<rect x="178.55" y="272.95" width="2.70" height="2.70" fill="#e0142a" stroke="#b00c20" stroke-width="0.3"/>
<rect x="180.54" y="271.95" width="2.70" height="2.70" fill="#e0142a" stroke="#b00c20" stroke-width="0.3"/>
<rect x="182.52" y="271.45" width="2.70" height="2.70" fill="#e0142a" stroke="#b00c20" stroke-width="0.3"/>
<rect x="184.51" y="271.25" width="2.70" height="2.70" fill="#e0142a" stroke="#b00c20" stroke-width="0.3"/>
<rect x="186.50" y="271.25" width="2.70" height="2.70" fill="#e0142a" stroke="#b00c20" stroke-width="0.3"/>
<rect x="188.48" y="271.25" width="2.70" height="2.70" fill="#e0142a" stroke="#b00c20" stroke-width="0.3"/>
<rect x="190.47" y="271.35" width="2.70" height="2.70" fill="#e0142a" stroke="#b00c20" stroke-width="0.3"/>
<rect x="192.45" y="271.45" width="2.70" height="2.70" fill="#e0142a" stroke="#b00c20" stroke-width="0.3"/>
<polyline points="194.30,272.70 200.50,264.90 207.50,259.00 214.70,251.60 221.60,244.70 227.60,240.50" fill="none" stroke="#e8737f" stroke-width="1.0"/>
<line x1="194.30" y1="271.90" x2="194.30" y2="273.50" stroke="#d9596a" stroke-width="0.5"/>
<line x1="193.40" y1="271.90" x2="195.20" y2="271.90" stroke="#d9596a" stroke-width="0.5"/>
<line x1="193.40" y1="273.50" x2="195.20" y2="273.50" stroke="#d9596a" stroke-width="0.5"/>
<line x1="200.50" y1="262.70" x2="200.50" y2="267.10" stroke="#d9596a" stroke-width="0.5"/>
<line x1="199.60" y1="262.70" x2="201.40" y2="262.70" stroke="#d9596a" stroke-width="0.5"/>
<line x1="199.60" y1="267.10" x2="201.40" y2="267.10" stroke="#d9596a" stroke-width="0.5"/>
<line x1="207.50" y1="255.50" x2="207.50" y2="262.50" stroke="#d9596a" stroke-width="0.5"/>
<line x1="206.60" y1="255.50" x2="208.40" y2="255.50" stroke="#d9596a" stroke-width="0.5"/>
<line x1="206.60" y1="262.50" x2="208.40" y2="262.50" stroke="#d9596a" stroke-width="0.5"/>
<line x1="214.70" y1="247.10" x2="214.70" y2="256.10" stroke="#d9596a" stroke-width="0.5"/>
<line x1="213.80" y1="247.10" x2="215.60" y2="247.10" stroke="#d9596a" stroke-width="0.5"/>
<line x1="213.80" y1="256.10" x2="215.60" y2="256.10" stroke="#d9596a" stroke-width="0.5"/>
<line x1="221.60" y1="239.20" x2="221.60" y2="250.20" stroke="#d9596a" stroke-width="0.5"/>
<line x1="220.70" y1="239.20" x2="222.50" y2="239.20" stroke="#d9596a" stroke-width="0.5"/>
<line x1="220.70" y1="250.20" x2="222.50" y2="250.20" stroke="#d9596a" stroke-width="0.5"/>
<line x1="227.60" y1="233.00" x2="227.60" y2="248.00" stroke="#d9596a" stroke-width="0.5"/>
<line x1="226.70" y1="233.00" x2="228.50" y2="233.00" stroke="#d9596a" stroke-width="0.5"/>
<line x1="226.70" y1="248.00" x2="228.50" y2="248.00" stroke="#d9596a" stroke-width="0.5"/>
<rect x="192.85" y="271.25" width="2.90" height="2.90" fill="#c8102e" stroke="#8a1020" stroke-width="0.35"/>
<rect x="199.05" y="263.45" width="2.90" height="2.90" fill="#c8102e" stroke="#8a1020" stroke-width="0.35"/>
<rect x="206.05" y="257.55" width="2.90" height="2.90" fill="#c8102e" stroke="#8a1020" stroke-width="0.35"/>
<rect x="213.25" y="250.15" width="2.90" height="2.90" fill="#c8102e" stroke="#8a1020" stroke-width="0.35"/>
<rect x="220.15" y="243.25" width="2.90" height="2.90" fill="#c8102e" stroke="#8a1020" stroke-width="0.35"/>
<rect x="226.15" y="239.05" width="2.90" height="2.90" fill="#c8102e" stroke="#8a1020" stroke-width="0.35"/>
<polyline points="166.00,277.30 167.99,279.00 169.97,280.20 171.96,280.90 173.94,281.30 175.93,281.30 177.92,281.30 179.90,281.30 181.89,281.30 183.87,281.30 185.86,281.30 187.85,281.30 189.83,281.30 191.82,281.30 193.80,281.30 196.30,281.20 200.50,279.70 207.50,277.00 214.70,275.50 221.60,272.70 227.60,269.20" fill="none" stroke="#7cc894" stroke-width="0.9"/>
<line x1="166.00" y1="276.80" x2="166.00" y2="277.80" stroke="#5cb87a" stroke-width="0.5"/>
<line x1="165.10" y1="276.80" x2="166.90" y2="276.80" stroke="#5cb87a" stroke-width="0.5"/>
<line x1="165.10" y1="277.80" x2="166.90" y2="277.80" stroke="#5cb87a" stroke-width="0.5"/>
<line x1="167.99" y1="278.50" x2="167.99" y2="279.50" stroke="#5cb87a" stroke-width="0.5"/>
<line x1="167.09" y1="278.50" x2="168.89" y2="278.50" stroke="#5cb87a" stroke-width="0.5"/>
<line x1="167.09" y1="279.50" x2="168.89" y2="279.50" stroke="#5cb87a" stroke-width="0.5"/>
<line x1="169.97" y1="279.70" x2="169.97" y2="280.70" stroke="#5cb87a" stroke-width="0.5"/>
<line x1="169.07" y1="279.70" x2="170.87" y2="279.70" stroke="#5cb87a" stroke-width="0.5"/>
<line x1="169.07" y1="280.70" x2="170.87" y2="280.70" stroke="#5cb87a" stroke-width="0.5"/>
<line x1="171.96" y1="280.40" x2="171.96" y2="281.40" stroke="#5cb87a" stroke-width="0.5"/>
<line x1="171.06" y1="280.40" x2="172.86" y2="280.40" stroke="#5cb87a" stroke-width="0.5"/>
<line x1="171.06" y1="281.40" x2="172.86" y2="281.40" stroke="#5cb87a" stroke-width="0.5"/>
<line x1="173.94" y1="280.80" x2="173.94" y2="281.80" stroke="#5cb87a" stroke-width="0.5"/>
<line x1="173.04" y1="280.80" x2="174.84" y2="280.80" stroke="#5cb87a" stroke-width="0.5"/>
<line x1="173.04" y1="281.80" x2="174.84" y2="281.80" stroke="#5cb87a" stroke-width="0.5"/>
<line x1="175.93" y1="280.80" x2="175.93" y2="281.80" stroke="#5cb87a" stroke-width="0.5"/>
<line x1="175.03" y1="280.80" x2="176.83" y2="280.80" stroke="#5cb87a" stroke-width="0.5"/>
<line x1="175.03" y1="281.80" x2="176.83" y2="281.80" stroke="#5cb87a" stroke-width="0.5"/>
<line x1="177.92" y1="280.80" x2="177.92" y2="281.80" stroke="#5cb87a" stroke-width="0.5"/>
<line x1="177.02" y1="280.80" x2="178.82" y2="280.80" stroke="#5cb87a" stroke-width="0.5"/>
<line x1="177.02" y1="281.80" x2="178.82" y2="281.80" stroke="#5cb87a" stroke-width="0.5"/>
<line x1="179.90" y1="280.80" x2="179.90" y2="281.80" stroke="#5cb87a" stroke-width="0.5"/>
<line x1="179.00" y1="280.80" x2="180.80" y2="280.80" stroke="#5cb87a" stroke-width="0.5"/>
<line x1="179.00" y1="281.80" x2="180.80" y2="281.80" stroke="#5cb87a" stroke-width="0.5"/>
<line x1="181.89" y1="280.80" x2="181.89" y2="281.80" stroke="#5cb87a" stroke-width="0.5"/>
<line x1="180.99" y1="280.80" x2="182.79" y2="280.80" stroke="#5cb87a" stroke-width="0.5"/>
<line x1="180.99" y1="281.80" x2="182.79" y2="281.80" stroke="#5cb87a" stroke-width="0.5"/>
<line x1="183.87" y1="280.80" x2="183.87" y2="281.80" stroke="#5cb87a" stroke-width="0.5"/>
<line x1="182.97" y1="280.80" x2="184.77" y2="280.80" stroke="#5cb87a" stroke-width="0.5"/>
<line x1="182.97" y1="281.80" x2="184.77" y2="281.80" stroke="#5cb87a" stroke-width="0.5"/>
<line x1="185.86" y1="280.80" x2="185.86" y2="281.80" stroke="#5cb87a" stroke-width="0.5"/>
<line x1="184.96" y1="280.80" x2="186.76" y2="280.80" stroke="#5cb87a" stroke-width="0.5"/>
<line x1="184.96" y1="281.80" x2="186.76" y2="281.80" stroke="#5cb87a" stroke-width="0.5"/>
<line x1="187.85" y1="280.80" x2="187.85" y2="281.80" stroke="#5cb87a" stroke-width="0.5"/>
<line x1="186.95" y1="280.80" x2="188.75" y2="280.80" stroke="#5cb87a" stroke-width="0.5"/>
<line x1="186.95" y1="281.80" x2="188.75" y2="281.80" stroke="#5cb87a" stroke-width="0.5"/>
<line x1="189.83" y1="280.80" x2="189.83" y2="281.80" stroke="#5cb87a" stroke-width="0.5"/>
<line x1="188.93" y1="280.80" x2="190.73" y2="280.80" stroke="#5cb87a" stroke-width="0.5"/>
<line x1="188.93" y1="281.80" x2="190.73" y2="281.80" stroke="#5cb87a" stroke-width="0.5"/>
<line x1="191.82" y1="280.80" x2="191.82" y2="281.80" stroke="#5cb87a" stroke-width="0.5"/>
<line x1="190.92" y1="280.80" x2="192.72" y2="280.80" stroke="#5cb87a" stroke-width="0.5"/>
<line x1="190.92" y1="281.80" x2="192.72" y2="281.80" stroke="#5cb87a" stroke-width="0.5"/>
<line x1="193.80" y1="280.80" x2="193.80" y2="281.80" stroke="#5cb87a" stroke-width="0.5"/>
<line x1="192.90" y1="280.80" x2="194.70" y2="280.80" stroke="#5cb87a" stroke-width="0.5"/>
<line x1="192.90" y1="281.80" x2="194.70" y2="281.80" stroke="#5cb87a" stroke-width="0.5"/>
<line x1="196.30" y1="280.60" x2="196.30" y2="281.80" stroke="#5cb87a" stroke-width="0.5"/>
<line x1="195.40" y1="280.60" x2="197.20" y2="280.60" stroke="#5cb87a" stroke-width="0.5"/>
<line x1="195.40" y1="281.80" x2="197.20" y2="281.80" stroke="#5cb87a" stroke-width="0.5"/>
<line x1="200.50" y1="278.90" x2="200.50" y2="280.50" stroke="#5cb87a" stroke-width="0.5"/>
<line x1="199.60" y1="278.90" x2="201.40" y2="278.90" stroke="#5cb87a" stroke-width="0.5"/>
<line x1="199.60" y1="280.50" x2="201.40" y2="280.50" stroke="#5cb87a" stroke-width="0.5"/>
<line x1="207.50" y1="275.80" x2="207.50" y2="278.20" stroke="#5cb87a" stroke-width="0.5"/>
<line x1="206.60" y1="275.80" x2="208.40" y2="275.80" stroke="#5cb87a" stroke-width="0.5"/>
<line x1="206.60" y1="278.20" x2="208.40" y2="278.20" stroke="#5cb87a" stroke-width="0.5"/>
<line x1="214.70" y1="273.90" x2="214.70" y2="277.10" stroke="#5cb87a" stroke-width="0.5"/>
<line x1="213.80" y1="273.90" x2="215.60" y2="273.90" stroke="#5cb87a" stroke-width="0.5"/>
<line x1="213.80" y1="277.10" x2="215.60" y2="277.10" stroke="#5cb87a" stroke-width="0.5"/>
<line x1="221.60" y1="270.10" x2="221.60" y2="275.30" stroke="#5cb87a" stroke-width="0.5"/>
<line x1="220.70" y1="270.10" x2="222.50" y2="270.10" stroke="#5cb87a" stroke-width="0.5"/>
<line x1="220.70" y1="275.30" x2="222.50" y2="275.30" stroke="#5cb87a" stroke-width="0.5"/>
<line x1="227.60" y1="265.00" x2="227.60" y2="273.40" stroke="#5cb87a" stroke-width="0.5"/>
<line x1="226.70" y1="265.00" x2="228.50" y2="265.00" stroke="#5cb87a" stroke-width="0.5"/>
<line x1="226.70" y1="273.40" x2="228.50" y2="273.40" stroke="#5cb87a" stroke-width="0.5"/>
<circle cx="166.00" cy="277.30" r="1.25" fill="#1f9a52" stroke="#16703c" stroke-width="0.35"/>
<circle cx="167.99" cy="279.00" r="1.25" fill="#1f9a52" stroke="#16703c" stroke-width="0.35"/>
<circle cx="169.97" cy="280.20" r="1.25" fill="#1f9a52" stroke="#16703c" stroke-width="0.35"/>
<circle cx="171.96" cy="280.90" r="1.25" fill="#1f9a52" stroke="#16703c" stroke-width="0.35"/>
<circle cx="173.94" cy="281.30" r="1.25" fill="#1f9a52" stroke="#16703c" stroke-width="0.35"/>
<circle cx="175.93" cy="281.30" r="1.25" fill="#1f9a52" stroke="#16703c" stroke-width="0.35"/>
<circle cx="177.92" cy="281.30" r="1.25" fill="#1f9a52" stroke="#16703c" stroke-width="0.35"/>
<circle cx="179.90" cy="281.30" r="1.25" fill="#1f9a52" stroke="#16703c" stroke-width="0.35"/>
<circle cx="181.89" cy="281.30" r="1.25" fill="#1f9a52" stroke="#16703c" stroke-width="0.35"/>
<circle cx="183.87" cy="281.30" r="1.25" fill="#1f9a52" stroke="#16703c" stroke-width="0.35"/>
<circle cx="185.86" cy="281.30" r="1.25" fill="#1f9a52" stroke="#16703c" stroke-width="0.35"/>
<circle cx="187.85" cy="281.30" r="1.25" fill="#1f9a52" stroke="#16703c" stroke-width="0.35"/>
<circle cx="189.83" cy="281.30" r="1.25" fill="#1f9a52" stroke="#16703c" stroke-width="0.35"/>
<circle cx="191.82" cy="281.30" r="1.25" fill="#1f9a52" stroke="#16703c" stroke-width="0.35"/>
<circle cx="193.80" cy="281.30" r="1.25" fill="#1f9a52" stroke="#16703c" stroke-width="0.35"/>
<circle cx="196.30" cy="281.20" r="1.25" fill="#1f9a52" stroke="#16703c" stroke-width="0.35"/>
<circle cx="200.50" cy="279.70" r="1.25" fill="#1f9a52" stroke="#16703c" stroke-width="0.35"/>
<circle cx="207.50" cy="277.00" r="1.25" fill="#1f9a52" stroke="#16703c" stroke-width="0.35"/>
<circle cx="214.70" cy="275.50" r="1.25" fill="#1f9a52" stroke="#16703c" stroke-width="0.35"/>
<circle cx="221.60" cy="272.70" r="1.25" fill="#1f9a52" stroke="#16703c" stroke-width="0.35"/>
<circle cx="227.60" cy="269.20" r="1.25" fill="#1f9a52" stroke="#16703c" stroke-width="0.35"/>
<text x="292.00" y="204.80" font-size="7.2" text-anchor="middle">H358</text>
<text x="299.30" y="211.80" font-size="6.3">Dosing stopped</text>
<line x1="273.80" y1="214.80" x2="273.80" y2="284.00" stroke="#222" stroke-width="0.8"/>
<line x1="272.40" y1="284.00" x2="273.80" y2="284.00" stroke="#222" stroke-width="0.8"/>
<text x="270.40" y="286.40" font-size="6.8" text-anchor="end">0</text>
<line x1="272.40" y1="266.70" x2="273.80" y2="266.70" stroke="#222" stroke-width="0.8"/>
<text x="270.40" y="269.10" font-size="6.8" text-anchor="end">250</text>
<line x1="272.40" y1="249.40" x2="273.80" y2="249.40" stroke="#222" stroke-width="0.8"/>
<text x="270.40" y="251.80" font-size="6.8" text-anchor="end">500</text>
<line x1="272.40" y1="232.10" x2="273.80" y2="232.10" stroke="#222" stroke-width="0.8"/>
<text x="270.40" y="234.50" font-size="6.8" text-anchor="end">750</text>
<line x1="272.40" y1="214.80" x2="273.80" y2="214.80" stroke="#222" stroke-width="0.8"/>
<text x="270.40" y="217.20" font-size="6.8" text-anchor="end">1,000</text>
<line x1="273.80" y1="284.00" x2="344.60" y2="284.00" stroke="#222" stroke-width="0.8"/>
<line x1="274.30" y1="284.00" x2="274.30" y2="285.40" stroke="#222" stroke-width="0.8"/>
<text x="274.30" y="293.60" font-size="6.8" text-anchor="middle">0</text>
<line x1="288.20" y1="284.00" x2="288.20" y2="285.40" stroke="#222" stroke-width="0.8"/>
<text x="288.20" y="293.60" font-size="6.8" text-anchor="middle">20</text>
<line x1="302.10" y1="284.00" x2="302.10" y2="285.40" stroke="#222" stroke-width="0.8"/>
<text x="302.10" y="293.60" font-size="6.8" text-anchor="middle">40</text>
<line x1="316.00" y1="284.00" x2="316.00" y2="285.40" stroke="#222" stroke-width="0.8"/>
<text x="316.00" y="293.60" font-size="6.8" text-anchor="middle">60</text>
<line x1="329.90" y1="284.00" x2="329.90" y2="285.40" stroke="#222" stroke-width="0.8"/>
<text x="329.90" y="293.60" font-size="6.8" text-anchor="middle">80</text>
<line x1="343.80" y1="284.00" x2="343.80" y2="285.40" stroke="#222" stroke-width="0.8"/>
<text x="343.80" y="293.60" font-size="6.8" text-anchor="middle">100</text>
<text x="309.60" y="305.00" font-size="7.2" text-anchor="middle">Study day</text>
<text x="247.50" y="249.00" font-size="7.2" text-anchor="middle" transform="rotate(-90 247.50 249.00)">Tumor volume (mm<tspan font-size="4.46" dy="-2.74">3</tspan><tspan dy="2.74">)</tspan></text>
<line x1="309.90" y1="213.00" x2="309.90" y2="284.00" stroke="#444" stroke-width="0.6" stroke-dasharray="0.7 0.7"/>
<line x1="275.00" y1="257.80" x2="275.00" y2="259.40" stroke="#aaa" stroke-width="0.45"/>
<line x1="276.00" y1="255.90" x2="276.00" y2="257.90" stroke="#aaa" stroke-width="0.45"/>
<line x1="276.90" y1="253.70" x2="276.90" y2="256.30" stroke="#aaa" stroke-width="0.45"/>
<line x1="277.60" y1="251.00" x2="277.60" y2="254.20" stroke="#aaa" stroke-width="0.45"/>
<line x1="278.40" y1="248.50" x2="278.40" y2="252.30" stroke="#aaa" stroke-width="0.45"/>
<line x1="279.30" y1="246.00" x2="279.30" y2="250.40" stroke="#aaa" stroke-width="0.45"/>
<line x1="280.30" y1="243.80" x2="280.30" y2="248.80" stroke="#aaa" stroke-width="0.45"/>
<line x1="281.40" y1="241.60" x2="281.40" y2="247.20" stroke="#aaa" stroke-width="0.45"/>
<line x1="282.60" y1="239.50" x2="282.60" y2="245.70" stroke="#aaa" stroke-width="0.45"/>
<line x1="283.80" y1="237.80" x2="283.80" y2="244.60" stroke="#aaa" stroke-width="0.45"/>
<line x1="285.10" y1="236.40" x2="285.10" y2="243.80" stroke="#aaa" stroke-width="0.45"/>
<line x1="286.40" y1="235.70" x2="286.40" y2="243.50" stroke="#aaa" stroke-width="0.45"/>
<line x1="287.70" y1="235.30" x2="287.70" y2="243.30" stroke="#aaa" stroke-width="0.45"/>
<line x1="288.70" y1="236.60" x2="288.70" y2="244.60" stroke="#aaa" stroke-width="0.45"/>
<line x1="289.70" y1="238.70" x2="289.70" y2="246.50" stroke="#aaa" stroke-width="0.45"/>
<line x1="290.80" y1="239.80" x2="290.80" y2="247.40" stroke="#aaa" stroke-width="0.45"/>
<line x1="292.00" y1="239.50" x2="292.00" y2="246.90" stroke="#aaa" stroke-width="0.45"/>
<line x1="293.30" y1="237.30" x2="293.30" y2="244.50" stroke="#aaa" stroke-width="0.45"/>
<line x1="294.60" y1="237.10" x2="294.60" y2="244.10" stroke="#aaa" stroke-width="0.45"/>
<line x1="296.00" y1="236.80" x2="296.00" y2="243.80" stroke="#aaa" stroke-width="0.45"/>
<line x1="297.70" y1="236.40" x2="297.70" y2="243.40" stroke="#aaa" stroke-width="0.45"/>
<line x1="300.00" y1="236.10" x2="300.00" y2="243.10" stroke="#aaa" stroke-width="0.45"/>
<line x1="301.60" y1="235.50" x2="301.60" y2="242.50" stroke="#aaa" stroke-width="0.45"/>
<line x1="303.20" y1="234.90" x2="303.20" y2="241.90" stroke="#aaa" stroke-width="0.45"/>
<line x1="304.80" y1="234.10" x2="304.80" y2="241.10" stroke="#aaa" stroke-width="0.45"/>
<line x1="306.40" y1="233.30" x2="306.40" y2="240.30" stroke="#aaa" stroke-width="0.45"/>
<line x1="308.00" y1="232.50" x2="308.00" y2="239.50" stroke="#aaa" stroke-width="0.45"/>
<line x1="309.60" y1="231.70" x2="309.60" y2="238.70" stroke="#aaa" stroke-width="0.45"/>
<line x1="311.20" y1="230.70" x2="311.20" y2="237.70" stroke="#aaa" stroke-width="0.45"/>
<line x1="312.80" y1="229.90" x2="312.80" y2="236.90" stroke="#aaa" stroke-width="0.45"/>
<line x1="314.30" y1="228.70" x2="314.30" y2="235.70" stroke="#aaa" stroke-width="0.45"/>
<line x1="315.70" y1="227.50" x2="315.70" y2="234.50" stroke="#aaa" stroke-width="0.45"/>
<line x1="317.00" y1="226.50" x2="317.00" y2="233.50" stroke="#aaa" stroke-width="0.45"/>
<polyline points="275.00,258.60 276.00,256.90 276.90,255.00 277.60,252.60 278.40,250.40 279.30,248.20 280.30,246.30 281.40,244.40 282.60,242.60 283.80,241.20 285.10,240.10 286.40,239.60 287.70,239.30 288.70,240.60 289.70,242.60 290.80,243.60 292.00,243.20 293.30,240.90 294.60,240.60 296.00,240.30 297.70,239.90 300.00,239.60 301.60,239.00 303.20,238.40 304.80,237.60 306.40,236.80 308.00,236.00 309.60,235.20 311.20,234.20 312.80,233.40 314.30,232.20 315.70,231.00 317.00,230.00" fill="none" stroke="#111" stroke-width="0.6"/>
<line x1="274.20" y1="257.80" x2="275.80" y2="257.80" stroke="#222" stroke-width="0.55"/>
<line x1="274.20" y1="259.40" x2="275.80" y2="259.40" stroke="#222" stroke-width="0.55"/>
<line x1="275.20" y1="255.90" x2="276.80" y2="255.90" stroke="#222" stroke-width="0.55"/>
<line x1="275.20" y1="257.90" x2="276.80" y2="257.90" stroke="#222" stroke-width="0.55"/>
<line x1="276.10" y1="253.70" x2="277.70" y2="253.70" stroke="#222" stroke-width="0.55"/>
<line x1="276.10" y1="256.30" x2="277.70" y2="256.30" stroke="#222" stroke-width="0.55"/>
<line x1="276.80" y1="251.00" x2="278.40" y2="251.00" stroke="#222" stroke-width="0.55"/>
<line x1="276.80" y1="254.20" x2="278.40" y2="254.20" stroke="#222" stroke-width="0.55"/>
<line x1="277.60" y1="248.50" x2="279.20" y2="248.50" stroke="#222" stroke-width="0.55"/>
<line x1="277.60" y1="252.30" x2="279.20" y2="252.30" stroke="#222" stroke-width="0.55"/>
<line x1="278.50" y1="246.00" x2="280.10" y2="246.00" stroke="#222" stroke-width="0.55"/>
<line x1="278.50" y1="250.40" x2="280.10" y2="250.40" stroke="#222" stroke-width="0.55"/>
<line x1="279.50" y1="243.80" x2="281.10" y2="243.80" stroke="#222" stroke-width="0.55"/>
<line x1="279.50" y1="248.80" x2="281.10" y2="248.80" stroke="#222" stroke-width="0.55"/>
<line x1="280.60" y1="241.60" x2="282.20" y2="241.60" stroke="#222" stroke-width="0.55"/>
<line x1="280.60" y1="247.20" x2="282.20" y2="247.20" stroke="#222" stroke-width="0.55"/>
<line x1="281.80" y1="239.50" x2="283.40" y2="239.50" stroke="#222" stroke-width="0.55"/>
<line x1="281.80" y1="245.70" x2="283.40" y2="245.70" stroke="#222" stroke-width="0.55"/>
<line x1="283.00" y1="237.80" x2="284.60" y2="237.80" stroke="#222" stroke-width="0.55"/>
<line x1="283.00" y1="244.60" x2="284.60" y2="244.60" stroke="#222" stroke-width="0.55"/>
<line x1="284.30" y1="236.40" x2="285.90" y2="236.40" stroke="#222" stroke-width="0.55"/>
<line x1="284.30" y1="243.80" x2="285.90" y2="243.80" stroke="#222" stroke-width="0.55"/>
<line x1="285.60" y1="235.70" x2="287.20" y2="235.70" stroke="#222" stroke-width="0.55"/>
<line x1="285.60" y1="243.50" x2="287.20" y2="243.50" stroke="#222" stroke-width="0.55"/>
<line x1="286.90" y1="235.30" x2="288.50" y2="235.30" stroke="#222" stroke-width="0.55"/>
<line x1="286.90" y1="243.30" x2="288.50" y2="243.30" stroke="#222" stroke-width="0.55"/>
<line x1="287.90" y1="236.60" x2="289.50" y2="236.60" stroke="#222" stroke-width="0.55"/>
<line x1="287.90" y1="244.60" x2="289.50" y2="244.60" stroke="#222" stroke-width="0.55"/>
<line x1="288.90" y1="238.70" x2="290.50" y2="238.70" stroke="#222" stroke-width="0.55"/>
<line x1="288.90" y1="246.50" x2="290.50" y2="246.50" stroke="#222" stroke-width="0.55"/>
<line x1="290.00" y1="239.80" x2="291.60" y2="239.80" stroke="#222" stroke-width="0.55"/>
<line x1="290.00" y1="247.40" x2="291.60" y2="247.40" stroke="#222" stroke-width="0.55"/>
<line x1="291.20" y1="239.50" x2="292.80" y2="239.50" stroke="#222" stroke-width="0.55"/>
<line x1="291.20" y1="246.90" x2="292.80" y2="246.90" stroke="#222" stroke-width="0.55"/>
<line x1="292.50" y1="237.30" x2="294.10" y2="237.30" stroke="#222" stroke-width="0.55"/>
<line x1="292.50" y1="244.50" x2="294.10" y2="244.50" stroke="#222" stroke-width="0.55"/>
<line x1="293.80" y1="237.10" x2="295.40" y2="237.10" stroke="#222" stroke-width="0.55"/>
<line x1="293.80" y1="244.10" x2="295.40" y2="244.10" stroke="#222" stroke-width="0.55"/>
<line x1="295.20" y1="236.80" x2="296.80" y2="236.80" stroke="#222" stroke-width="0.55"/>
<line x1="295.20" y1="243.80" x2="296.80" y2="243.80" stroke="#222" stroke-width="0.55"/>
<line x1="296.90" y1="236.40" x2="298.50" y2="236.40" stroke="#222" stroke-width="0.55"/>
<line x1="296.90" y1="243.40" x2="298.50" y2="243.40" stroke="#222" stroke-width="0.55"/>
<line x1="299.20" y1="236.10" x2="300.80" y2="236.10" stroke="#222" stroke-width="0.55"/>
<line x1="299.20" y1="243.10" x2="300.80" y2="243.10" stroke="#222" stroke-width="0.55"/>
<line x1="300.80" y1="235.50" x2="302.40" y2="235.50" stroke="#222" stroke-width="0.55"/>
<line x1="300.80" y1="242.50" x2="302.40" y2="242.50" stroke="#222" stroke-width="0.55"/>
<line x1="302.40" y1="234.90" x2="304.00" y2="234.90" stroke="#222" stroke-width="0.55"/>
<line x1="302.40" y1="241.90" x2="304.00" y2="241.90" stroke="#222" stroke-width="0.55"/>
<line x1="304.00" y1="234.10" x2="305.60" y2="234.10" stroke="#222" stroke-width="0.55"/>
<line x1="304.00" y1="241.10" x2="305.60" y2="241.10" stroke="#222" stroke-width="0.55"/>
<line x1="305.60" y1="233.30" x2="307.20" y2="233.30" stroke="#222" stroke-width="0.55"/>
<line x1="305.60" y1="240.30" x2="307.20" y2="240.30" stroke="#222" stroke-width="0.55"/>
<line x1="307.20" y1="232.50" x2="308.80" y2="232.50" stroke="#222" stroke-width="0.55"/>
<line x1="307.20" y1="239.50" x2="308.80" y2="239.50" stroke="#222" stroke-width="0.55"/>
<line x1="308.80" y1="231.70" x2="310.40" y2="231.70" stroke="#222" stroke-width="0.55"/>
<line x1="308.80" y1="238.70" x2="310.40" y2="238.70" stroke="#222" stroke-width="0.55"/>
<line x1="310.40" y1="230.70" x2="312.00" y2="230.70" stroke="#222" stroke-width="0.55"/>
<line x1="310.40" y1="237.70" x2="312.00" y2="237.70" stroke="#222" stroke-width="0.55"/>
<line x1="312.00" y1="229.90" x2="313.60" y2="229.90" stroke="#222" stroke-width="0.55"/>
<line x1="312.00" y1="236.90" x2="313.60" y2="236.90" stroke="#222" stroke-width="0.55"/>
<line x1="313.50" y1="228.70" x2="315.10" y2="228.70" stroke="#222" stroke-width="0.55"/>
<line x1="313.50" y1="235.70" x2="315.10" y2="235.70" stroke="#222" stroke-width="0.55"/>
<line x1="314.90" y1="227.50" x2="316.50" y2="227.50" stroke="#222" stroke-width="0.55"/>
<line x1="314.90" y1="234.50" x2="316.50" y2="234.50" stroke="#222" stroke-width="0.55"/>
<line x1="316.20" y1="226.50" x2="317.80" y2="226.50" stroke="#222" stroke-width="0.55"/>
<line x1="316.20" y1="233.50" x2="317.80" y2="233.50" stroke="#222" stroke-width="0.55"/>
<circle cx="275.00" cy="258.60" r="1.00" fill="#111"/>
<circle cx="276.00" cy="256.90" r="1.00" fill="#111"/>
<circle cx="276.90" cy="255.00" r="1.00" fill="#111"/>
<circle cx="277.60" cy="252.60" r="1.00" fill="#111"/>
<circle cx="278.40" cy="250.40" r="1.00" fill="#111"/>
<circle cx="279.30" cy="248.20" r="1.00" fill="#111"/>
<circle cx="280.30" cy="246.30" r="1.00" fill="#111"/>
<circle cx="281.40" cy="244.40" r="1.00" fill="#111"/>
<circle cx="282.60" cy="242.60" r="1.00" fill="#111"/>
<circle cx="283.80" cy="241.20" r="1.00" fill="#111"/>
<circle cx="285.10" cy="240.10" r="1.00" fill="#111"/>
<circle cx="286.40" cy="239.60" r="1.00" fill="#111"/>
<circle cx="287.70" cy="239.30" r="1.00" fill="#111"/>
<circle cx="288.70" cy="240.60" r="1.00" fill="#111"/>
<circle cx="289.70" cy="242.60" r="1.00" fill="#111"/>
<circle cx="290.80" cy="243.60" r="1.00" fill="#111"/>
<circle cx="292.00" cy="243.20" r="1.00" fill="#111"/>
<circle cx="293.30" cy="240.90" r="1.00" fill="#111"/>
<circle cx="294.60" cy="240.60" r="1.00" fill="#111"/>
<circle cx="296.00" cy="240.30" r="1.00" fill="#111"/>
<circle cx="297.70" cy="239.90" r="1.00" fill="#111"/>
<circle cx="300.00" cy="239.60" r="1.00" fill="#111"/>
<circle cx="301.60" cy="239.00" r="1.00" fill="#111"/>
<circle cx="303.20" cy="238.40" r="1.00" fill="#111"/>
<circle cx="304.80" cy="237.60" r="1.00" fill="#111"/>
<circle cx="306.40" cy="236.80" r="1.00" fill="#111"/>
<circle cx="308.00" cy="236.00" r="1.00" fill="#111"/>
<circle cx="309.60" cy="235.20" r="1.00" fill="#111"/>
<circle cx="311.20" cy="234.20" r="1.00" fill="#111"/>
<circle cx="312.80" cy="233.40" r="1.00" fill="#111"/>
<circle cx="314.30" cy="232.20" r="1.00" fill="#111"/>
<circle cx="315.70" cy="231.00" r="1.00" fill="#111"/>
<circle cx="317.00" cy="230.00" r="1.00" fill="#111"/>
<polyline points="275.20,259.60 276.30,259.60 277.40,259.30 278.50,258.90 279.50,258.60 280.50,258.20 281.60,257.70 282.60,257.10 283.60,256.50 284.50,255.80 285.40,255.10 286.20,254.30 287.00,253.50 287.70,252.70 288.40,251.80 289.10,250.80 289.70,249.80 290.20,248.90 290.80,247.40 291.40,245.80" fill="none" stroke="#7a92d6" stroke-width="0.75"/>
<line x1="275.20" y1="259.00" x2="275.20" y2="260.20" stroke="#6f86c6" stroke-width="0.5"/>
<line x1="274.30" y1="259.00" x2="276.10" y2="259.00" stroke="#6f86c6" stroke-width="0.5"/>
<line x1="274.30" y1="260.20" x2="276.10" y2="260.20" stroke="#6f86c6" stroke-width="0.5"/>
<line x1="276.30" y1="258.92" x2="276.30" y2="260.28" stroke="#6f86c6" stroke-width="0.5"/>
<line x1="275.40" y1="258.92" x2="277.20" y2="258.92" stroke="#6f86c6" stroke-width="0.5"/>
<line x1="275.40" y1="260.28" x2="277.20" y2="260.28" stroke="#6f86c6" stroke-width="0.5"/>
<line x1="277.40" y1="258.54" x2="277.40" y2="260.06" stroke="#6f86c6" stroke-width="0.5"/>
<line x1="276.50" y1="258.54" x2="278.30" y2="258.54" stroke="#6f86c6" stroke-width="0.5"/>
<line x1="276.50" y1="260.06" x2="278.30" y2="260.06" stroke="#6f86c6" stroke-width="0.5"/>
<line x1="278.50" y1="258.06" x2="278.50" y2="259.74" stroke="#6f86c6" stroke-width="0.5"/>
<line x1="277.60" y1="258.06" x2="279.40" y2="258.06" stroke="#6f86c6" stroke-width="0.5"/>
<line x1="277.60" y1="259.74" x2="279.40" y2="259.74" stroke="#6f86c6" stroke-width="0.5"/>
<line x1="279.50" y1="257.68" x2="279.50" y2="259.52" stroke="#6f86c6" stroke-width="0.5"/>
<line x1="278.60" y1="257.68" x2="280.40" y2="257.68" stroke="#6f86c6" stroke-width="0.5"/>
<line x1="278.60" y1="259.52" x2="280.40" y2="259.52" stroke="#6f86c6" stroke-width="0.5"/>
<line x1="280.50" y1="257.20" x2="280.50" y2="259.20" stroke="#6f86c6" stroke-width="0.5"/>
<line x1="279.60" y1="257.20" x2="281.40" y2="257.20" stroke="#6f86c6" stroke-width="0.5"/>
<line x1="279.60" y1="259.20" x2="281.40" y2="259.20" stroke="#6f86c6" stroke-width="0.5"/>
<line x1="281.60" y1="256.62" x2="281.60" y2="258.78" stroke="#6f86c6" stroke-width="0.5"/>
<line x1="280.70" y1="256.62" x2="282.50" y2="256.62" stroke="#6f86c6" stroke-width="0.5"/>
<line x1="280.70" y1="258.78" x2="282.50" y2="258.78" stroke="#6f86c6" stroke-width="0.5"/>
<line x1="282.60" y1="255.94" x2="282.60" y2="258.26" stroke="#6f86c6" stroke-width="0.5"/>
<line x1="281.70" y1="255.94" x2="283.50" y2="255.94" stroke="#6f86c6" stroke-width="0.5"/>
<line x1="281.70" y1="258.26" x2="283.50" y2="258.26" stroke="#6f86c6" stroke-width="0.5"/>
<line x1="283.60" y1="255.26" x2="283.60" y2="257.74" stroke="#6f86c6" stroke-width="0.5"/>
<line x1="282.70" y1="255.26" x2="284.50" y2="255.26" stroke="#6f86c6" stroke-width="0.5"/>
<line x1="282.70" y1="257.74" x2="284.50" y2="257.74" stroke="#6f86c6" stroke-width="0.5"/>
<line x1="284.50" y1="254.48" x2="284.50" y2="257.12" stroke="#6f86c6" stroke-width="0.5"/>
<line x1="283.60" y1="254.48" x2="285.40" y2="254.48" stroke="#6f86c6" stroke-width="0.5"/>
<line x1="283.60" y1="257.12" x2="285.40" y2="257.12" stroke="#6f86c6" stroke-width="0.5"/>
<line x1="285.40" y1="253.70" x2="285.40" y2="256.50" stroke="#6f86c6" stroke-width="0.5"/>
<line x1="284.50" y1="253.70" x2="286.30" y2="253.70" stroke="#6f86c6" stroke-width="0.5"/>
<line x1="284.50" y1="256.50" x2="286.30" y2="256.50" stroke="#6f86c6" stroke-width="0.5"/>
<line x1="286.20" y1="252.82" x2="286.20" y2="255.78" stroke="#6f86c6" stroke-width="0.5"/>
<line x1="285.30" y1="252.82" x2="287.10" y2="252.82" stroke="#6f86c6" stroke-width="0.5"/>
<line x1="285.30" y1="255.78" x2="287.10" y2="255.78" stroke="#6f86c6" stroke-width="0.5"/>
<line x1="287.00" y1="251.94" x2="287.00" y2="255.06" stroke="#6f86c6" stroke-width="0.5"/>
<line x1="286.10" y1="251.94" x2="287.90" y2="251.94" stroke="#6f86c6" stroke-width="0.5"/>
<line x1="286.10" y1="255.06" x2="287.90" y2="255.06" stroke="#6f86c6" stroke-width="0.5"/>
<line x1="287.70" y1="251.06" x2="287.70" y2="254.34" stroke="#6f86c6" stroke-width="0.5"/>
<line x1="286.80" y1="251.06" x2="288.60" y2="251.06" stroke="#6f86c6" stroke-width="0.5"/>
<line x1="286.80" y1="254.34" x2="288.60" y2="254.34" stroke="#6f86c6" stroke-width="0.5"/>
<line x1="288.40" y1="250.08" x2="288.40" y2="253.52" stroke="#6f86c6" stroke-width="0.5"/>
<line x1="287.50" y1="250.08" x2="289.30" y2="250.08" stroke="#6f86c6" stroke-width="0.5"/>
<line x1="287.50" y1="253.52" x2="289.30" y2="253.52" stroke="#6f86c6" stroke-width="0.5"/>
<line x1="289.10" y1="249.00" x2="289.10" y2="252.60" stroke="#6f86c6" stroke-width="0.5"/>
<line x1="288.20" y1="249.00" x2="290.00" y2="249.00" stroke="#6f86c6" stroke-width="0.5"/>
<line x1="288.20" y1="252.60" x2="290.00" y2="252.60" stroke="#6f86c6" stroke-width="0.5"/>
<line x1="289.70" y1="247.92" x2="289.70" y2="251.68" stroke="#6f86c6" stroke-width="0.5"/>
<line x1="288.80" y1="247.92" x2="290.60" y2="247.92" stroke="#6f86c6" stroke-width="0.5"/>
<line x1="288.80" y1="251.68" x2="290.60" y2="251.68" stroke="#6f86c6" stroke-width="0.5"/>
<line x1="290.20" y1="246.94" x2="290.20" y2="250.86" stroke="#6f86c6" stroke-width="0.5"/>
<line x1="289.30" y1="246.94" x2="291.10" y2="246.94" stroke="#6f86c6" stroke-width="0.5"/>
<line x1="289.30" y1="250.86" x2="291.10" y2="250.86" stroke="#6f86c6" stroke-width="0.5"/>
<line x1="290.80" y1="245.36" x2="290.80" y2="249.44" stroke="#6f86c6" stroke-width="0.5"/>
<line x1="289.90" y1="245.36" x2="291.70" y2="245.36" stroke="#6f86c6" stroke-width="0.5"/>
<line x1="289.90" y1="249.44" x2="291.70" y2="249.44" stroke="#6f86c6" stroke-width="0.5"/>
<line x1="291.40" y1="243.68" x2="291.40" y2="247.92" stroke="#6f86c6" stroke-width="0.5"/>
<line x1="290.50" y1="243.68" x2="292.30" y2="243.68" stroke="#6f86c6" stroke-width="0.5"/>
<line x1="290.50" y1="247.92" x2="292.30" y2="247.92" stroke="#6f86c6" stroke-width="0.5"/>
<circle cx="275.20" cy="259.60" r="1.15" fill="#3a5cc0" stroke="#203a90" stroke-width="0.35"/>
<circle cx="276.30" cy="259.60" r="1.15" fill="#3a5cc0" stroke="#203a90" stroke-width="0.35"/>
<circle cx="277.40" cy="259.30" r="1.15" fill="#3a5cc0" stroke="#203a90" stroke-width="0.35"/>
<circle cx="278.50" cy="258.90" r="1.15" fill="#3a5cc0" stroke="#203a90" stroke-width="0.35"/>
<circle cx="279.50" cy="258.60" r="1.15" fill="#3a5cc0" stroke="#203a90" stroke-width="0.35"/>
<circle cx="280.50" cy="258.20" r="1.15" fill="#3a5cc0" stroke="#203a90" stroke-width="0.35"/>
<circle cx="281.60" cy="257.70" r="1.15" fill="#3a5cc0" stroke="#203a90" stroke-width="0.35"/>
<circle cx="282.60" cy="257.10" r="1.15" fill="#3a5cc0" stroke="#203a90" stroke-width="0.35"/>
<circle cx="283.60" cy="256.50" r="1.15" fill="#3a5cc0" stroke="#203a90" stroke-width="0.35"/>
<circle cx="284.50" cy="255.80" r="1.15" fill="#3a5cc0" stroke="#203a90" stroke-width="0.35"/>
<circle cx="285.40" cy="255.10" r="1.15" fill="#3a5cc0" stroke="#203a90" stroke-width="0.35"/>
<circle cx="286.20" cy="254.30" r="1.15" fill="#3a5cc0" stroke="#203a90" stroke-width="0.35"/>
<circle cx="287.00" cy="253.50" r="1.15" fill="#3a5cc0" stroke="#203a90" stroke-width="0.35"/>
<circle cx="287.70" cy="252.70" r="1.15" fill="#3a5cc0" stroke="#203a90" stroke-width="0.35"/>
<circle cx="288.40" cy="251.80" r="1.15" fill="#3a5cc0" stroke="#203a90" stroke-width="0.35"/>
<circle cx="289.10" cy="250.80" r="1.15" fill="#3a5cc0" stroke="#203a90" stroke-width="0.35"/>
<circle cx="289.70" cy="249.80" r="1.15" fill="#3a5cc0" stroke="#203a90" stroke-width="0.35"/>
<circle cx="290.20" cy="248.90" r="1.15" fill="#3a5cc0" stroke="#203a90" stroke-width="0.35"/>
<circle cx="290.80" cy="247.40" r="1.15" fill="#3a5cc0" stroke="#203a90" stroke-width="0.35"/>
<circle cx="291.40" cy="245.80" r="1.15" fill="#3a5cc0" stroke="#203a90" stroke-width="0.35"/>
<polyline points="274.40,259.80 275.60,262.50 276.80,265.00 277.90,267.00 279.20,269.20 280.60,271.00 281.80,272.20 283.30,273.20 285.00,274.00 286.50,274.60 288.00,275.10 289.70,275.70 291.50,276.55 293.40,277.37 295.40,278.20 297.40,278.80 299.40,279.20 301.30,279.50 303.20,279.70 305.20,280.00 307.10,280.30 309.00,280.50 311.00,280.60 313.00,280.70 315.00,280.70 316.90,280.60 318.80,280.50 320.60,279.70 322.40,278.75 324.30,277.80 326.20,277.00 328.00,276.00 329.80,275.00 331.50,273.90 333.20,272.80 334.90,271.60 336.90,270.40 338.90,269.20 340.80,268.00" fill="none" stroke="#ee6070" stroke-width="1.0"/>
<line x1="274.40" y1="259.20" x2="274.40" y2="260.40" stroke="#e06070" stroke-width="0.5"/>
<line x1="273.50" y1="259.20" x2="275.30" y2="259.20" stroke="#e06070" stroke-width="0.5"/>
<line x1="273.50" y1="260.40" x2="275.30" y2="260.40" stroke="#e06070" stroke-width="0.5"/>
<line x1="275.60" y1="261.90" x2="275.60" y2="263.10" stroke="#e06070" stroke-width="0.5"/>
<line x1="274.70" y1="261.90" x2="276.50" y2="261.90" stroke="#e06070" stroke-width="0.5"/>
<line x1="274.70" y1="263.10" x2="276.50" y2="263.10" stroke="#e06070" stroke-width="0.5"/>
<line x1="276.80" y1="264.40" x2="276.80" y2="265.60" stroke="#e06070" stroke-width="0.5"/>
<line x1="275.90" y1="264.40" x2="277.70" y2="264.40" stroke="#e06070" stroke-width="0.5"/>
<line x1="275.90" y1="265.60" x2="277.70" y2="265.60" stroke="#e06070" stroke-width="0.5"/>
<line x1="277.90" y1="266.40" x2="277.90" y2="267.60" stroke="#e06070" stroke-width="0.5"/>
<line x1="277.00" y1="266.40" x2="278.80" y2="266.40" stroke="#e06070" stroke-width="0.5"/>
<line x1="277.00" y1="267.60" x2="278.80" y2="267.60" stroke="#e06070" stroke-width="0.5"/>
<line x1="279.20" y1="268.60" x2="279.20" y2="269.80" stroke="#e06070" stroke-width="0.5"/>
<line x1="278.30" y1="268.60" x2="280.10" y2="268.60" stroke="#e06070" stroke-width="0.5"/>
<line x1="278.30" y1="269.80" x2="280.10" y2="269.80" stroke="#e06070" stroke-width="0.5"/>
<line x1="280.60" y1="270.40" x2="280.60" y2="271.60" stroke="#e06070" stroke-width="0.5"/>
<line x1="279.70" y1="270.40" x2="281.50" y2="270.40" stroke="#e06070" stroke-width="0.5"/>
<line x1="279.70" y1="271.60" x2="281.50" y2="271.60" stroke="#e06070" stroke-width="0.5"/>
<line x1="281.80" y1="271.60" x2="281.80" y2="272.80" stroke="#e06070" stroke-width="0.5"/>
<line x1="280.90" y1="271.60" x2="282.70" y2="271.60" stroke="#e06070" stroke-width="0.5"/>
<line x1="280.90" y1="272.80" x2="282.70" y2="272.80" stroke="#e06070" stroke-width="0.5"/>
<line x1="283.30" y1="272.60" x2="283.30" y2="273.80" stroke="#e06070" stroke-width="0.5"/>
<line x1="282.40" y1="272.60" x2="284.20" y2="272.60" stroke="#e06070" stroke-width="0.5"/>
<line x1="282.40" y1="273.80" x2="284.20" y2="273.80" stroke="#e06070" stroke-width="0.5"/>
<line x1="285.00" y1="273.40" x2="285.00" y2="274.60" stroke="#e06070" stroke-width="0.5"/>
<line x1="284.10" y1="273.40" x2="285.90" y2="273.40" stroke="#e06070" stroke-width="0.5"/>
<line x1="284.10" y1="274.60" x2="285.90" y2="274.60" stroke="#e06070" stroke-width="0.5"/>
<line x1="286.50" y1="274.00" x2="286.50" y2="275.20" stroke="#e06070" stroke-width="0.5"/>
<line x1="285.60" y1="274.00" x2="287.40" y2="274.00" stroke="#e06070" stroke-width="0.5"/>
<line x1="285.60" y1="275.20" x2="287.40" y2="275.20" stroke="#e06070" stroke-width="0.5"/>
<line x1="288.00" y1="274.50" x2="288.00" y2="275.70" stroke="#e06070" stroke-width="0.5"/>
<line x1="287.10" y1="274.50" x2="288.90" y2="274.50" stroke="#e06070" stroke-width="0.5"/>
<line x1="287.10" y1="275.70" x2="288.90" y2="275.70" stroke="#e06070" stroke-width="0.5"/>
<line x1="289.70" y1="275.10" x2="289.70" y2="276.30" stroke="#e06070" stroke-width="0.5"/>
<line x1="288.80" y1="275.10" x2="290.60" y2="275.10" stroke="#e06070" stroke-width="0.5"/>
<line x1="288.80" y1="276.30" x2="290.60" y2="276.30" stroke="#e06070" stroke-width="0.5"/>
<line x1="291.50" y1="275.95" x2="291.50" y2="277.15" stroke="#e06070" stroke-width="0.5"/>
<line x1="290.60" y1="275.95" x2="292.40" y2="275.95" stroke="#e06070" stroke-width="0.5"/>
<line x1="290.60" y1="277.15" x2="292.40" y2="277.15" stroke="#e06070" stroke-width="0.5"/>
<line x1="293.40" y1="276.77" x2="293.40" y2="277.97" stroke="#e06070" stroke-width="0.5"/>
<line x1="292.50" y1="276.77" x2="294.30" y2="276.77" stroke="#e06070" stroke-width="0.5"/>
<line x1="292.50" y1="277.97" x2="294.30" y2="277.97" stroke="#e06070" stroke-width="0.5"/>
<line x1="295.40" y1="277.60" x2="295.40" y2="278.80" stroke="#e06070" stroke-width="0.5"/>
<line x1="294.50" y1="277.60" x2="296.30" y2="277.60" stroke="#e06070" stroke-width="0.5"/>
<line x1="294.50" y1="278.80" x2="296.30" y2="278.80" stroke="#e06070" stroke-width="0.5"/>
<line x1="297.40" y1="278.20" x2="297.40" y2="279.40" stroke="#e06070" stroke-width="0.5"/>
<line x1="296.50" y1="278.20" x2="298.30" y2="278.20" stroke="#e06070" stroke-width="0.5"/>
<line x1="296.50" y1="279.40" x2="298.30" y2="279.40" stroke="#e06070" stroke-width="0.5"/>
<line x1="299.40" y1="278.60" x2="299.40" y2="279.80" stroke="#e06070" stroke-width="0.5"/>
<line x1="298.50" y1="278.60" x2="300.30" y2="278.60" stroke="#e06070" stroke-width="0.5"/>
<line x1="298.50" y1="279.80" x2="300.30" y2="279.80" stroke="#e06070" stroke-width="0.5"/>
<line x1="301.30" y1="278.90" x2="301.30" y2="280.10" stroke="#e06070" stroke-width="0.5"/>
<line x1="300.40" y1="278.90" x2="302.20" y2="278.90" stroke="#e06070" stroke-width="0.5"/>
<line x1="300.40" y1="280.10" x2="302.20" y2="280.10" stroke="#e06070" stroke-width="0.5"/>
<line x1="303.20" y1="279.10" x2="303.20" y2="280.30" stroke="#e06070" stroke-width="0.5"/>
<line x1="302.30" y1="279.10" x2="304.10" y2="279.10" stroke="#e06070" stroke-width="0.5"/>
<line x1="302.30" y1="280.30" x2="304.10" y2="280.30" stroke="#e06070" stroke-width="0.5"/>
<line x1="305.20" y1="279.40" x2="305.20" y2="280.60" stroke="#e06070" stroke-width="0.5"/>
<line x1="304.30" y1="279.40" x2="306.10" y2="279.40" stroke="#e06070" stroke-width="0.5"/>
<line x1="304.30" y1="280.60" x2="306.10" y2="280.60" stroke="#e06070" stroke-width="0.5"/>
<line x1="307.10" y1="279.70" x2="307.10" y2="280.90" stroke="#e06070" stroke-width="0.5"/>
<line x1="306.20" y1="279.70" x2="308.00" y2="279.70" stroke="#e06070" stroke-width="0.5"/>
<line x1="306.20" y1="280.90" x2="308.00" y2="280.90" stroke="#e06070" stroke-width="0.5"/>
<line x1="309.00" y1="279.90" x2="309.00" y2="281.10" stroke="#e06070" stroke-width="0.5"/>
<line x1="308.10" y1="279.90" x2="309.90" y2="279.90" stroke="#e06070" stroke-width="0.5"/>
<line x1="308.10" y1="281.10" x2="309.90" y2="281.10" stroke="#e06070" stroke-width="0.5"/>
<line x1="311.00" y1="280.00" x2="311.00" y2="281.20" stroke="#e06070" stroke-width="0.5"/>
<line x1="310.10" y1="280.00" x2="311.90" y2="280.00" stroke="#e06070" stroke-width="0.5"/>
<line x1="310.10" y1="281.20" x2="311.90" y2="281.20" stroke="#e06070" stroke-width="0.5"/>
<line x1="313.00" y1="280.10" x2="313.00" y2="281.30" stroke="#e06070" stroke-width="0.5"/>
<line x1="312.10" y1="280.10" x2="313.90" y2="280.10" stroke="#e06070" stroke-width="0.5"/>
<line x1="312.10" y1="281.30" x2="313.90" y2="281.30" stroke="#e06070" stroke-width="0.5"/>
<line x1="315.00" y1="280.10" x2="315.00" y2="281.30" stroke="#e06070" stroke-width="0.5"/>
<line x1="314.10" y1="280.10" x2="315.90" y2="280.10" stroke="#e06070" stroke-width="0.5"/>
<line x1="314.10" y1="281.30" x2="315.90" y2="281.30" stroke="#e06070" stroke-width="0.5"/>
<line x1="316.90" y1="280.00" x2="316.90" y2="281.20" stroke="#e06070" stroke-width="0.5"/>
<line x1="316.00" y1="280.00" x2="317.80" y2="280.00" stroke="#e06070" stroke-width="0.5"/>
<line x1="316.00" y1="281.20" x2="317.80" y2="281.20" stroke="#e06070" stroke-width="0.5"/>
<line x1="318.80" y1="279.90" x2="318.80" y2="281.10" stroke="#e06070" stroke-width="0.5"/>
<line x1="317.90" y1="279.90" x2="319.70" y2="279.90" stroke="#e06070" stroke-width="0.5"/>
<line x1="317.90" y1="281.10" x2="319.70" y2="281.10" stroke="#e06070" stroke-width="0.5"/>
<line x1="320.60" y1="279.10" x2="320.60" y2="280.30" stroke="#e06070" stroke-width="0.5"/>
<line x1="319.70" y1="279.10" x2="321.50" y2="279.10" stroke="#e06070" stroke-width="0.5"/>
<line x1="319.70" y1="280.30" x2="321.50" y2="280.30" stroke="#e06070" stroke-width="0.5"/>
<line x1="322.40" y1="278.15" x2="322.40" y2="279.35" stroke="#e06070" stroke-width="0.5"/>
<line x1="321.50" y1="278.15" x2="323.30" y2="278.15" stroke="#e06070" stroke-width="0.5"/>
<line x1="321.50" y1="279.35" x2="323.30" y2="279.35" stroke="#e06070" stroke-width="0.5"/>
<line x1="324.30" y1="277.20" x2="324.30" y2="278.40" stroke="#e06070" stroke-width="0.5"/>
<line x1="323.40" y1="277.20" x2="325.20" y2="277.20" stroke="#e06070" stroke-width="0.5"/>
<line x1="323.40" y1="278.40" x2="325.20" y2="278.40" stroke="#e06070" stroke-width="0.5"/>
<line x1="326.20" y1="276.00" x2="326.20" y2="278.00" stroke="#e06070" stroke-width="0.5"/>
<line x1="325.30" y1="276.00" x2="327.10" y2="276.00" stroke="#e06070" stroke-width="0.5"/>
<line x1="325.30" y1="278.00" x2="327.10" y2="278.00" stroke="#e06070" stroke-width="0.5"/>
<line x1="328.00" y1="274.60" x2="328.00" y2="277.40" stroke="#e06070" stroke-width="0.5"/>
<line x1="327.10" y1="274.60" x2="328.90" y2="274.60" stroke="#e06070" stroke-width="0.5"/>
<line x1="327.10" y1="277.40" x2="328.90" y2="277.40" stroke="#e06070" stroke-width="0.5"/>
<line x1="329.80" y1="273.20" x2="329.80" y2="276.80" stroke="#e06070" stroke-width="0.5"/>
<line x1="328.90" y1="273.20" x2="330.70" y2="273.20" stroke="#e06070" stroke-width="0.5"/>
<line x1="328.90" y1="276.80" x2="330.70" y2="276.80" stroke="#e06070" stroke-width="0.5"/>
<line x1="331.50" y1="271.70" x2="331.50" y2="276.10" stroke="#e06070" stroke-width="0.5"/>
<line x1="330.60" y1="271.70" x2="332.40" y2="271.70" stroke="#e06070" stroke-width="0.5"/>
<line x1="330.60" y1="276.10" x2="332.40" y2="276.10" stroke="#e06070" stroke-width="0.5"/>
<line x1="333.20" y1="270.20" x2="333.20" y2="275.40" stroke="#e06070" stroke-width="0.5"/>
<line x1="332.30" y1="270.20" x2="334.10" y2="270.20" stroke="#e06070" stroke-width="0.5"/>
<line x1="332.30" y1="275.40" x2="334.10" y2="275.40" stroke="#e06070" stroke-width="0.5"/>
<line x1="334.90" y1="268.60" x2="334.90" y2="274.60" stroke="#e06070" stroke-width="0.5"/>
<line x1="334.00" y1="268.60" x2="335.80" y2="268.60" stroke="#e06070" stroke-width="0.5"/>
<line x1="334.00" y1="274.60" x2="335.80" y2="274.60" stroke="#e06070" stroke-width="0.5"/>
<line x1="336.90" y1="267.00" x2="336.90" y2="273.80" stroke="#e06070" stroke-width="0.5"/>
<line x1="336.00" y1="267.00" x2="337.80" y2="267.00" stroke="#e06070" stroke-width="0.5"/>
<line x1="336.00" y1="273.80" x2="337.80" y2="273.80" stroke="#e06070" stroke-width="0.5"/>
<line x1="338.90" y1="265.40" x2="338.90" y2="273.00" stroke="#e06070" stroke-width="0.5"/>
<line x1="338.00" y1="265.40" x2="339.80" y2="265.40" stroke="#e06070" stroke-width="0.5"/>
<line x1="338.00" y1="273.00" x2="339.80" y2="273.00" stroke="#e06070" stroke-width="0.5"/>
<line x1="340.80" y1="263.80" x2="340.80" y2="272.20" stroke="#e06070" stroke-width="0.5"/>
<line x1="339.90" y1="263.80" x2="341.70" y2="263.80" stroke="#e06070" stroke-width="0.5"/>
<line x1="339.90" y1="272.20" x2="341.70" y2="272.20" stroke="#e06070" stroke-width="0.5"/>
<rect x="273.10" y="258.50" width="2.60" height="2.60" fill="#dc1428" stroke="#a00c1e" stroke-width="0.35"/>
<rect x="274.30" y="261.20" width="2.60" height="2.60" fill="#dc1428" stroke="#a00c1e" stroke-width="0.35"/>
<rect x="275.50" y="263.70" width="2.60" height="2.60" fill="#dc1428" stroke="#a00c1e" stroke-width="0.35"/>
<rect x="276.60" y="265.70" width="2.60" height="2.60" fill="#dc1428" stroke="#a00c1e" stroke-width="0.35"/>
<rect x="277.90" y="267.90" width="2.60" height="2.60" fill="#dc1428" stroke="#a00c1e" stroke-width="0.35"/>
<rect x="279.30" y="269.70" width="2.60" height="2.60" fill="#dc1428" stroke="#a00c1e" stroke-width="0.35"/>
<rect x="280.50" y="270.90" width="2.60" height="2.60" fill="#dc1428" stroke="#a00c1e" stroke-width="0.35"/>
<rect x="282.00" y="271.90" width="2.60" height="2.60" fill="#dc1428" stroke="#a00c1e" stroke-width="0.35"/>
<rect x="283.70" y="272.70" width="2.60" height="2.60" fill="#dc1428" stroke="#a00c1e" stroke-width="0.35"/>
<rect x="285.20" y="273.30" width="2.60" height="2.60" fill="#dc1428" stroke="#a00c1e" stroke-width="0.35"/>
<rect x="286.70" y="273.80" width="2.60" height="2.60" fill="#dc1428" stroke="#a00c1e" stroke-width="0.35"/>
<rect x="288.40" y="274.40" width="2.60" height="2.60" fill="#dc1428" stroke="#a00c1e" stroke-width="0.35"/>
<rect x="290.20" y="275.25" width="2.60" height="2.60" fill="#dc1428" stroke="#a00c1e" stroke-width="0.35"/>
<rect x="292.10" y="276.07" width="2.60" height="2.60" fill="#dc1428" stroke="#a00c1e" stroke-width="0.35"/>
<rect x="294.10" y="276.90" width="2.60" height="2.60" fill="#dc1428" stroke="#a00c1e" stroke-width="0.35"/>
<rect x="296.10" y="277.50" width="2.60" height="2.60" fill="#dc1428" stroke="#a00c1e" stroke-width="0.35"/>
<rect x="298.10" y="277.90" width="2.60" height="2.60" fill="#dc1428" stroke="#a00c1e" stroke-width="0.35"/>
<rect x="300.00" y="278.20" width="2.60" height="2.60" fill="#dc1428" stroke="#a00c1e" stroke-width="0.35"/>
<rect x="301.90" y="278.40" width="2.60" height="2.60" fill="#dc1428" stroke="#a00c1e" stroke-width="0.35"/>
<rect x="303.90" y="278.70" width="2.60" height="2.60" fill="#dc1428" stroke="#a00c1e" stroke-width="0.35"/>
<rect x="305.80" y="279.00" width="2.60" height="2.60" fill="#dc1428" stroke="#a00c1e" stroke-width="0.35"/>
<rect x="307.70" y="279.20" width="2.60" height="2.60" fill="#dc1428" stroke="#a00c1e" stroke-width="0.35"/>
<rect x="309.70" y="279.30" width="2.60" height="2.60" fill="#dc1428" stroke="#a00c1e" stroke-width="0.35"/>
<rect x="311.70" y="279.40" width="2.60" height="2.60" fill="#dc1428" stroke="#a00c1e" stroke-width="0.35"/>
<rect x="313.70" y="279.40" width="2.60" height="2.60" fill="#dc1428" stroke="#a00c1e" stroke-width="0.35"/>
<rect x="315.60" y="279.30" width="2.60" height="2.60" fill="#dc1428" stroke="#a00c1e" stroke-width="0.35"/>
<rect x="317.50" y="279.20" width="2.60" height="2.60" fill="#dc1428" stroke="#a00c1e" stroke-width="0.35"/>
<rect x="319.30" y="278.40" width="2.60" height="2.60" fill="#dc1428" stroke="#a00c1e" stroke-width="0.35"/>
<rect x="321.10" y="277.45" width="2.60" height="2.60" fill="#dc1428" stroke="#a00c1e" stroke-width="0.35"/>
<rect x="323.00" y="276.50" width="2.60" height="2.60" fill="#dc1428" stroke="#a00c1e" stroke-width="0.35"/>
<rect x="324.90" y="275.70" width="2.60" height="2.60" fill="#dc1428" stroke="#a00c1e" stroke-width="0.35"/>
<rect x="326.70" y="274.70" width="2.60" height="2.60" fill="#dc1428" stroke="#a00c1e" stroke-width="0.35"/>
<rect x="328.50" y="273.70" width="2.60" height="2.60" fill="#dc1428" stroke="#a00c1e" stroke-width="0.35"/>
<rect x="330.20" y="272.60" width="2.60" height="2.60" fill="#dc1428" stroke="#a00c1e" stroke-width="0.35"/>
<rect x="331.90" y="271.50" width="2.60" height="2.60" fill="#dc1428" stroke="#a00c1e" stroke-width="0.35"/>
<rect x="333.60" y="270.30" width="2.60" height="2.60" fill="#dc1428" stroke="#a00c1e" stroke-width="0.35"/>
<rect x="335.60" y="269.10" width="2.60" height="2.60" fill="#dc1428" stroke="#a00c1e" stroke-width="0.35"/>
<rect x="337.60" y="267.90" width="2.60" height="2.60" fill="#dc1428" stroke="#a00c1e" stroke-width="0.35"/>
<rect x="339.50" y="266.70" width="2.60" height="2.60" fill="#dc1428" stroke="#a00c1e" stroke-width="0.35"/>
<polyline points="274.40,262.00 275.60,266.00 276.80,269.00 277.90,270.90 279.30,272.92 280.80,274.75 282.20,275.78 283.70,276.62 285.60,277.99 287.50,279.16 289.50,280.05 291.50,280.83 293.50,281.71 295.50,282.49 297.40,283.26 299.30,283.60 301.30,283.30 303.30,283.60 305.30,283.60 307.20,283.60 309.00,283.60 311.00,283.60 313.00,283.60 315.00,283.60 317.00,283.60 319.00,283.60 321.00,283.30 323.00,283.09 325.00,282.88 327.00,282.67 329.00,282.46 331.00,282.25 333.00,282.04 335.00,281.83 337.00,281.62 339.00,281.41 340.80,281.22" fill="none" stroke="#7cc894" stroke-width="0.9"/>
<line x1="274.40" y1="261.50" x2="274.40" y2="262.50" stroke="#7cc894" stroke-width="0.5"/>
<line x1="273.50" y1="261.50" x2="275.30" y2="261.50" stroke="#7cc894" stroke-width="0.5"/>
<line x1="273.50" y1="262.50" x2="275.30" y2="262.50" stroke="#7cc894" stroke-width="0.5"/>
<line x1="275.60" y1="265.50" x2="275.60" y2="266.50" stroke="#7cc894" stroke-width="0.5"/>
<line x1="274.70" y1="265.50" x2="276.50" y2="265.50" stroke="#7cc894" stroke-width="0.5"/>
<line x1="274.70" y1="266.50" x2="276.50" y2="266.50" stroke="#7cc894" stroke-width="0.5"/>
<line x1="276.80" y1="268.50" x2="276.80" y2="269.50" stroke="#7cc894" stroke-width="0.5"/>
<line x1="275.90" y1="268.50" x2="277.70" y2="268.50" stroke="#7cc894" stroke-width="0.5"/>
<line x1="275.90" y1="269.50" x2="277.70" y2="269.50" stroke="#7cc894" stroke-width="0.5"/>
<line x1="277.90" y1="270.40" x2="277.90" y2="271.40" stroke="#7cc894" stroke-width="0.5"/>
<line x1="277.00" y1="270.40" x2="278.80" y2="270.40" stroke="#7cc894" stroke-width="0.5"/>
<line x1="277.00" y1="271.40" x2="278.80" y2="271.40" stroke="#7cc894" stroke-width="0.5"/>
<line x1="279.30" y1="272.42" x2="279.30" y2="273.42" stroke="#7cc894" stroke-width="0.5"/>
<line x1="278.40" y1="272.42" x2="280.20" y2="272.42" stroke="#7cc894" stroke-width="0.5"/>
<line x1="278.40" y1="273.42" x2="280.20" y2="273.42" stroke="#7cc894" stroke-width="0.5"/>
<line x1="280.80" y1="274.25" x2="280.80" y2="275.25" stroke="#7cc894" stroke-width="0.5"/>
<line x1="279.90" y1="274.25" x2="281.70" y2="274.25" stroke="#7cc894" stroke-width="0.5"/>
<line x1="279.90" y1="275.25" x2="281.70" y2="275.25" stroke="#7cc894" stroke-width="0.5"/>
<line x1="282.20" y1="275.28" x2="282.20" y2="276.28" stroke="#7cc894" stroke-width="0.5"/>
<line x1="281.30" y1="275.28" x2="283.10" y2="275.28" stroke="#7cc894" stroke-width="0.5"/>
<line x1="281.30" y1="276.28" x2="283.10" y2="276.28" stroke="#7cc894" stroke-width="0.5"/>
<line x1="283.70" y1="276.12" x2="283.70" y2="277.12" stroke="#7cc894" stroke-width="0.5"/>
<line x1="282.80" y1="276.12" x2="284.60" y2="276.12" stroke="#7cc894" stroke-width="0.5"/>
<line x1="282.80" y1="277.12" x2="284.60" y2="277.12" stroke="#7cc894" stroke-width="0.5"/>
<line x1="285.60" y1="277.49" x2="285.60" y2="278.49" stroke="#7cc894" stroke-width="0.5"/>
<line x1="284.70" y1="277.49" x2="286.50" y2="277.49" stroke="#7cc894" stroke-width="0.5"/>
<line x1="284.70" y1="278.49" x2="286.50" y2="278.49" stroke="#7cc894" stroke-width="0.5"/>
<line x1="287.50" y1="278.66" x2="287.50" y2="279.66" stroke="#7cc894" stroke-width="0.5"/>
<line x1="286.60" y1="278.66" x2="288.40" y2="278.66" stroke="#7cc894" stroke-width="0.5"/>
<line x1="286.60" y1="279.66" x2="288.40" y2="279.66" stroke="#7cc894" stroke-width="0.5"/>
<line x1="289.50" y1="279.55" x2="289.50" y2="280.55" stroke="#7cc894" stroke-width="0.5"/>
<line x1="288.60" y1="279.55" x2="290.40" y2="279.55" stroke="#7cc894" stroke-width="0.5"/>
<line x1="288.60" y1="280.55" x2="290.40" y2="280.55" stroke="#7cc894" stroke-width="0.5"/>
<line x1="291.50" y1="280.33" x2="291.50" y2="281.33" stroke="#7cc894" stroke-width="0.5"/>
<line x1="290.60" y1="280.33" x2="292.40" y2="280.33" stroke="#7cc894" stroke-width="0.5"/>
<line x1="290.60" y1="281.33" x2="292.40" y2="281.33" stroke="#7cc894" stroke-width="0.5"/>
<line x1="293.50" y1="281.21" x2="293.50" y2="282.21" stroke="#7cc894" stroke-width="0.5"/>
<line x1="292.60" y1="281.21" x2="294.40" y2="281.21" stroke="#7cc894" stroke-width="0.5"/>
<line x1="292.60" y1="282.21" x2="294.40" y2="282.21" stroke="#7cc894" stroke-width="0.5"/>
<line x1="295.50" y1="281.99" x2="295.50" y2="282.99" stroke="#7cc894" stroke-width="0.5"/>
<line x1="294.60" y1="281.99" x2="296.40" y2="281.99" stroke="#7cc894" stroke-width="0.5"/>
<line x1="294.60" y1="282.99" x2="296.40" y2="282.99" stroke="#7cc894" stroke-width="0.5"/>
<line x1="297.40" y1="282.76" x2="297.40" y2="283.76" stroke="#7cc894" stroke-width="0.5"/>
<line x1="296.50" y1="282.76" x2="298.30" y2="282.76" stroke="#7cc894" stroke-width="0.5"/>
<line x1="296.50" y1="283.76" x2="298.30" y2="283.76" stroke="#7cc894" stroke-width="0.5"/>
<line x1="299.30" y1="283.10" x2="299.30" y2="284.10" stroke="#7cc894" stroke-width="0.5"/>
<line x1="298.40" y1="283.10" x2="300.20" y2="283.10" stroke="#7cc894" stroke-width="0.5"/>
<line x1="298.40" y1="284.10" x2="300.20" y2="284.10" stroke="#7cc894" stroke-width="0.5"/>
<line x1="301.30" y1="282.80" x2="301.30" y2="283.80" stroke="#7cc894" stroke-width="0.5"/>
<line x1="300.40" y1="282.80" x2="302.20" y2="282.80" stroke="#7cc894" stroke-width="0.5"/>
<line x1="300.40" y1="283.80" x2="302.20" y2="283.80" stroke="#7cc894" stroke-width="0.5"/>
<line x1="303.30" y1="283.10" x2="303.30" y2="284.10" stroke="#7cc894" stroke-width="0.5"/>
<line x1="302.40" y1="283.10" x2="304.20" y2="283.10" stroke="#7cc894" stroke-width="0.5"/>
<line x1="302.40" y1="284.10" x2="304.20" y2="284.10" stroke="#7cc894" stroke-width="0.5"/>
<line x1="305.30" y1="283.10" x2="305.30" y2="284.10" stroke="#7cc894" stroke-width="0.5"/>
<line x1="304.40" y1="283.10" x2="306.20" y2="283.10" stroke="#7cc894" stroke-width="0.5"/>
<line x1="304.40" y1="284.10" x2="306.20" y2="284.10" stroke="#7cc894" stroke-width="0.5"/>
<line x1="307.20" y1="283.10" x2="307.20" y2="284.10" stroke="#7cc894" stroke-width="0.5"/>
<line x1="306.30" y1="283.10" x2="308.10" y2="283.10" stroke="#7cc894" stroke-width="0.5"/>
<line x1="306.30" y1="284.10" x2="308.10" y2="284.10" stroke="#7cc894" stroke-width="0.5"/>
<line x1="309.00" y1="283.10" x2="309.00" y2="284.10" stroke="#7cc894" stroke-width="0.5"/>
<line x1="308.10" y1="283.10" x2="309.90" y2="283.10" stroke="#7cc894" stroke-width="0.5"/>
<line x1="308.10" y1="284.10" x2="309.90" y2="284.10" stroke="#7cc894" stroke-width="0.5"/>
<line x1="311.00" y1="283.10" x2="311.00" y2="284.10" stroke="#7cc894" stroke-width="0.5"/>
<line x1="310.10" y1="283.10" x2="311.90" y2="283.10" stroke="#7cc894" stroke-width="0.5"/>
<line x1="310.10" y1="284.10" x2="311.90" y2="284.10" stroke="#7cc894" stroke-width="0.5"/>
<line x1="313.00" y1="283.10" x2="313.00" y2="284.10" stroke="#7cc894" stroke-width="0.5"/>
<line x1="312.10" y1="283.10" x2="313.90" y2="283.10" stroke="#7cc894" stroke-width="0.5"/>
<line x1="312.10" y1="284.10" x2="313.90" y2="284.10" stroke="#7cc894" stroke-width="0.5"/>
<line x1="315.00" y1="283.10" x2="315.00" y2="284.10" stroke="#7cc894" stroke-width="0.5"/>
<line x1="314.10" y1="283.10" x2="315.90" y2="283.10" stroke="#7cc894" stroke-width="0.5"/>
<line x1="314.10" y1="284.10" x2="315.90" y2="284.10" stroke="#7cc894" stroke-width="0.5"/>
<line x1="317.00" y1="283.10" x2="317.00" y2="284.10" stroke="#7cc894" stroke-width="0.5"/>
<line x1="316.10" y1="283.10" x2="317.90" y2="283.10" stroke="#7cc894" stroke-width="0.5"/>
<line x1="316.10" y1="284.10" x2="317.90" y2="284.10" stroke="#7cc894" stroke-width="0.5"/>
<line x1="319.00" y1="283.10" x2="319.00" y2="284.10" stroke="#7cc894" stroke-width="0.5"/>
<line x1="318.10" y1="283.10" x2="319.90" y2="283.10" stroke="#7cc894" stroke-width="0.5"/>
<line x1="318.10" y1="284.10" x2="319.90" y2="284.10" stroke="#7cc894" stroke-width="0.5"/>
<line x1="321.00" y1="282.80" x2="321.00" y2="283.80" stroke="#7cc894" stroke-width="0.5"/>
<line x1="320.10" y1="282.80" x2="321.90" y2="282.80" stroke="#7cc894" stroke-width="0.5"/>
<line x1="320.10" y1="283.80" x2="321.90" y2="283.80" stroke="#7cc894" stroke-width="0.5"/>
<line x1="323.00" y1="282.59" x2="323.00" y2="283.59" stroke="#7cc894" stroke-width="0.5"/>
<line x1="322.10" y1="282.59" x2="323.90" y2="282.59" stroke="#7cc894" stroke-width="0.5"/>
<line x1="322.10" y1="283.59" x2="323.90" y2="283.59" stroke="#7cc894" stroke-width="0.5"/>
<line x1="325.00" y1="282.38" x2="325.00" y2="283.38" stroke="#7cc894" stroke-width="0.5"/>
<line x1="324.10" y1="282.38" x2="325.90" y2="282.38" stroke="#7cc894" stroke-width="0.5"/>
<line x1="324.10" y1="283.38" x2="325.90" y2="283.38" stroke="#7cc894" stroke-width="0.5"/>
<line x1="327.00" y1="282.17" x2="327.00" y2="283.17" stroke="#7cc894" stroke-width="0.5"/>
<line x1="326.10" y1="282.17" x2="327.90" y2="282.17" stroke="#7cc894" stroke-width="0.5"/>
<line x1="326.10" y1="283.17" x2="327.90" y2="283.17" stroke="#7cc894" stroke-width="0.5"/>
<line x1="329.00" y1="281.96" x2="329.00" y2="282.96" stroke="#7cc894" stroke-width="0.5"/>
<line x1="328.10" y1="281.96" x2="329.90" y2="281.96" stroke="#7cc894" stroke-width="0.5"/>
<line x1="328.10" y1="282.96" x2="329.90" y2="282.96" stroke="#7cc894" stroke-width="0.5"/>
<line x1="331.00" y1="281.75" x2="331.00" y2="282.75" stroke="#7cc894" stroke-width="0.5"/>
<line x1="330.10" y1="281.75" x2="331.90" y2="281.75" stroke="#7cc894" stroke-width="0.5"/>
<line x1="330.10" y1="282.75" x2="331.90" y2="282.75" stroke="#7cc894" stroke-width="0.5"/>
<line x1="333.00" y1="281.54" x2="333.00" y2="282.54" stroke="#7cc894" stroke-width="0.5"/>
<line x1="332.10" y1="281.54" x2="333.90" y2="281.54" stroke="#7cc894" stroke-width="0.5"/>
<line x1="332.10" y1="282.54" x2="333.90" y2="282.54" stroke="#7cc894" stroke-width="0.5"/>
<line x1="335.00" y1="281.33" x2="335.00" y2="282.33" stroke="#7cc894" stroke-width="0.5"/>
<line x1="334.10" y1="281.33" x2="335.90" y2="281.33" stroke="#7cc894" stroke-width="0.5"/>
<line x1="334.10" y1="282.33" x2="335.90" y2="282.33" stroke="#7cc894" stroke-width="0.5"/>
<line x1="337.00" y1="281.12" x2="337.00" y2="282.12" stroke="#7cc894" stroke-width="0.5"/>
<line x1="336.10" y1="281.12" x2="337.90" y2="281.12" stroke="#7cc894" stroke-width="0.5"/>
<line x1="336.10" y1="282.12" x2="337.90" y2="282.12" stroke="#7cc894" stroke-width="0.5"/>
<line x1="339.00" y1="280.91" x2="339.00" y2="281.91" stroke="#7cc894" stroke-width="0.5"/>
<line x1="338.10" y1="280.91" x2="339.90" y2="280.91" stroke="#7cc894" stroke-width="0.5"/>
<line x1="338.10" y1="281.91" x2="339.90" y2="281.91" stroke="#7cc894" stroke-width="0.5"/>
<line x1="340.80" y1="280.72" x2="340.80" y2="281.72" stroke="#7cc894" stroke-width="0.5"/>
<line x1="339.90" y1="280.72" x2="341.70" y2="280.72" stroke="#7cc894" stroke-width="0.5"/>
<line x1="339.90" y1="281.72" x2="341.70" y2="281.72" stroke="#7cc894" stroke-width="0.5"/>
<circle cx="274.40" cy="262.00" r="1.20" fill="#1f9a52" stroke="#16703c" stroke-width="0.35"/>
<circle cx="275.60" cy="266.00" r="1.20" fill="#1f9a52" stroke="#16703c" stroke-width="0.35"/>
<circle cx="276.80" cy="269.00" r="1.20" fill="#1f9a52" stroke="#16703c" stroke-width="0.35"/>
<circle cx="277.90" cy="270.90" r="1.20" fill="#1f9a52" stroke="#16703c" stroke-width="0.35"/>
<circle cx="279.30" cy="272.92" r="1.20" fill="#1f9a52" stroke="#16703c" stroke-width="0.35"/>
<circle cx="280.80" cy="274.75" r="1.20" fill="#1f9a52" stroke="#16703c" stroke-width="0.35"/>
<circle cx="282.20" cy="275.78" r="1.20" fill="#1f9a52" stroke="#16703c" stroke-width="0.35"/>
<circle cx="283.70" cy="276.62" r="1.20" fill="#1f9a52" stroke="#16703c" stroke-width="0.35"/>
<circle cx="285.60" cy="277.99" r="1.20" fill="#1f9a52" stroke="#16703c" stroke-width="0.35"/>
<circle cx="287.50" cy="279.16" r="1.20" fill="#1f9a52" stroke="#16703c" stroke-width="0.35"/>
<circle cx="289.50" cy="280.05" r="1.20" fill="#1f9a52" stroke="#16703c" stroke-width="0.35"/>
<circle cx="291.50" cy="280.83" r="1.20" fill="#1f9a52" stroke="#16703c" stroke-width="0.35"/>
<circle cx="293.50" cy="281.71" r="1.20" fill="#1f9a52" stroke="#16703c" stroke-width="0.35"/>
<circle cx="295.50" cy="282.49" r="1.20" fill="#1f9a52" stroke="#16703c" stroke-width="0.35"/>
<circle cx="297.40" cy="283.26" r="1.20" fill="#1f9a52" stroke="#16703c" stroke-width="0.35"/>
<circle cx="299.30" cy="283.60" r="1.20" fill="#1f9a52" stroke="#16703c" stroke-width="0.35"/>
<circle cx="301.30" cy="283.30" r="1.20" fill="#1f9a52" stroke="#16703c" stroke-width="0.35"/>
<circle cx="303.30" cy="283.60" r="1.20" fill="#1f9a52" stroke="#16703c" stroke-width="0.35"/>
<circle cx="305.30" cy="283.60" r="1.20" fill="#1f9a52" stroke="#16703c" stroke-width="0.35"/>
<circle cx="307.20" cy="283.60" r="1.20" fill="#1f9a52" stroke="#16703c" stroke-width="0.35"/>
<circle cx="309.00" cy="283.60" r="1.20" fill="#1f9a52" stroke="#16703c" stroke-width="0.35"/>
<circle cx="311.00" cy="283.60" r="1.20" fill="#1f9a52" stroke="#16703c" stroke-width="0.35"/>
<circle cx="313.00" cy="283.60" r="1.20" fill="#1f9a52" stroke="#16703c" stroke-width="0.35"/>
<circle cx="315.00" cy="283.60" r="1.20" fill="#1f9a52" stroke="#16703c" stroke-width="0.35"/>
<circle cx="317.00" cy="283.60" r="1.20" fill="#1f9a52" stroke="#16703c" stroke-width="0.35"/>
<circle cx="319.00" cy="283.60" r="1.20" fill="#1f9a52" stroke="#16703c" stroke-width="0.35"/>
<circle cx="321.00" cy="283.30" r="1.20" fill="#1f9a52" stroke="#16703c" stroke-width="0.35"/>
<circle cx="323.00" cy="283.09" r="1.20" fill="#1f9a52" stroke="#16703c" stroke-width="0.35"/>
<circle cx="325.00" cy="282.88" r="1.20" fill="#1f9a52" stroke="#16703c" stroke-width="0.35"/>
<circle cx="327.00" cy="282.67" r="1.20" fill="#1f9a52" stroke="#16703c" stroke-width="0.35"/>
<circle cx="329.00" cy="282.46" r="1.20" fill="#1f9a52" stroke="#16703c" stroke-width="0.35"/>
<circle cx="331.00" cy="282.25" r="1.20" fill="#1f9a52" stroke="#16703c" stroke-width="0.35"/>
<circle cx="333.00" cy="282.04" r="1.20" fill="#1f9a52" stroke="#16703c" stroke-width="0.35"/>
<circle cx="335.00" cy="281.83" r="1.20" fill="#1f9a52" stroke="#16703c" stroke-width="0.35"/>
<circle cx="337.00" cy="281.62" r="1.20" fill="#1f9a52" stroke="#16703c" stroke-width="0.35"/>
<circle cx="339.00" cy="281.41" r="1.20" fill="#1f9a52" stroke="#16703c" stroke-width="0.35"/>
<circle cx="340.80" cy="281.22" r="1.20" fill="#1f9a52" stroke="#16703c" stroke-width="0.35"/>
<circle cx="312.00" cy="276.40" r="0.60" fill="#111"/>
<circle cx="332.40" cy="224.40" r="1.15" fill="#111"/>
<text x="336.00" y="226.30" font-size="5.4" class="s">Vehicle</text>
<circle cx="332.40" cy="230.23" r="1.15" fill="#c8102e"/>
<text x="336.00" y="232.13" font-size="5.4" class="s">MRTX849 100 mg/kg</text>
<circle cx="332.40" cy="236.06" r="1.15" fill="#22388a"/>
<text x="336.00" y="237.96" font-size="5.4" class="s">RMC-4550 30 mg/kg</text>
<circle cx="332.40" cy="241.89" r="1.15" fill="#1f9a52"/>
<text x="336.00" y="243.79" font-size="5.4" class="s">MRTX849 + RMC-4550</text>
<text x="394.40" y="169.00" font-size="9.6" font-weight="bold" fill="#111">F</text>
<line x1="424.00" y1="172.10" x2="424.00" y2="221.20" stroke="#222" stroke-width="0.8"/>
<line x1="422.60" y1="221.20" x2="424.00" y2="221.20" stroke="#222" stroke-width="0.8"/>
<text x="419.60" y="223.60" font-size="7.0" text-anchor="end">0</text>
<line x1="422.60" y1="204.84" x2="424.00" y2="204.84" stroke="#222" stroke-width="0.8"/>
<text x="419.60" y="207.24" font-size="7.0" text-anchor="end">20</text>
<line x1="422.60" y1="188.48" x2="424.00" y2="188.48" stroke="#222" stroke-width="0.8"/>
<text x="419.60" y="190.88" font-size="7.0" text-anchor="end">40</text>
<line x1="422.60" y1="172.12" x2="424.00" y2="172.12" stroke="#222" stroke-width="0.8"/>
<text x="419.60" y="174.52" font-size="7.0" text-anchor="end">60</text>
<line x1="424.00" y1="221.20" x2="515.50" y2="221.20" stroke="#222" stroke-width="0.8"/>
<text x="408.90" y="196.00" font-size="7.0" text-anchor="middle" transform="rotate(-90 408.90 196.00)">pERK H-score</text>
<line x1="429.20" y1="197.30" x2="429.20" y2="207.10" stroke="#666" stroke-width="0.5"/>
<line x1="428.30" y1="197.30" x2="430.10" y2="197.30" stroke="#666" stroke-width="0.5"/>
<rect x="426.60" y="207.10" width="5.20" height="14.10" fill="#111" stroke="#000" stroke-width="0.35"/>
<line x1="437.20" y1="197.30" x2="437.20" y2="207.10" stroke="#666" stroke-width="0.5"/>
<line x1="436.30" y1="197.30" x2="438.10" y2="197.30" stroke="#666" stroke-width="0.5"/>
<rect x="434.60" y="207.10" width="5.20" height="14.10" fill="#999" stroke="#333" stroke-width="0.35"/>
<line x1="445.00" y1="180.90" x2="445.00" y2="194.10" stroke="#666" stroke-width="0.5"/>
<line x1="444.10" y1="180.90" x2="445.90" y2="180.90" stroke="#666" stroke-width="0.5"/>
<rect x="442.40" y="194.10" width="5.20" height="27.10" fill="#8c8c8c" stroke="#333" stroke-width="0.35"/>
<line x1="453.60" y1="175.90" x2="453.60" y2="189.10" stroke="#666" stroke-width="0.5"/>
<line x1="452.70" y1="175.90" x2="454.50" y2="175.90" stroke="#666" stroke-width="0.5"/>
<rect x="451.00" y="189.10" width="5.20" height="32.10" fill="#dcdcdc" stroke="#888" stroke-width="0.35"/>
<rect x="459.40" y="220.10" width="5.20" height="1.10" fill="#404040" stroke="#000" stroke-width="0.35"/>
<line x1="470.10" y1="216.20" x2="470.10" y2="218.40" stroke="#666" stroke-width="0.5"/>
<line x1="469.20" y1="216.20" x2="471.00" y2="216.20" stroke="#666" stroke-width="0.5"/>
<rect x="467.50" y="218.40" width="5.20" height="2.80" fill="#484848" stroke="#111" stroke-width="0.35"/>
<line x1="478.00" y1="212.90" x2="478.00" y2="215.10" stroke="#666" stroke-width="0.5"/>
<line x1="477.10" y1="212.90" x2="478.90" y2="212.90" stroke="#666" stroke-width="0.5"/>
<rect x="475.40" y="215.10" width="5.20" height="6.10" fill="#999" stroke="#333" stroke-width="0.35"/>
<line x1="486.20" y1="204.00" x2="486.20" y2="211.30" stroke="#666" stroke-width="0.5"/>
<line x1="485.30" y1="204.00" x2="487.10" y2="204.00" stroke="#666" stroke-width="0.5"/>
<rect x="483.60" y="211.30" width="5.20" height="9.90" fill="#999" stroke="#333" stroke-width="0.35"/>
<line x1="494.80" y1="178.00" x2="494.80" y2="200.70" stroke="#666" stroke-width="0.5"/>
<line x1="493.90" y1="178.00" x2="495.70" y2="178.00" stroke="#666" stroke-width="0.5"/>
<rect x="492.20" y="200.70" width="5.20" height="20.50" fill="#dcdcdc" stroke="#888" stroke-width="0.35"/>
<rect x="500.00" y="219.50" width="5.20" height="1.70" fill="#404040" stroke="#000" stroke-width="0.35"/>
<line x1="510.90" y1="200.30" x2="510.90" y2="210.00" stroke="#666" stroke-width="0.5"/>
<line x1="510.00" y1="200.30" x2="511.80" y2="200.30" stroke="#666" stroke-width="0.5"/>
<rect x="508.30" y="210.00" width="5.20" height="11.20" fill="#484848" stroke="#111" stroke-width="0.35"/>
<line x1="453.70" y1="169.90" x2="469.70" y2="169.90" stroke="#777" stroke-width="0.55"/>
<line x1="453.70" y1="169.90" x2="453.70" y2="172.60" stroke="#777" stroke-width="0.55"/>
<line x1="469.70" y1="169.90" x2="469.70" y2="173.70" stroke="#777" stroke-width="0.55"/>
<line x1="424.50" y1="237.30" x2="424.50" y2="287.30" stroke="#222" stroke-width="0.8"/>
<line x1="423.10" y1="287.30" x2="424.50" y2="287.30" stroke="#222" stroke-width="0.8"/>
<text x="422.40" y="289.70" font-size="7.0" text-anchor="end">0</text>
<line x1="423.10" y1="277.30" x2="424.50" y2="277.30" stroke="#222" stroke-width="0.8"/>
<text x="422.40" y="279.70" font-size="7.0" text-anchor="end">20</text>
<line x1="423.10" y1="267.30" x2="424.50" y2="267.30" stroke="#222" stroke-width="0.8"/>
<text x="422.40" y="269.70" font-size="7.0" text-anchor="end">40</text>
<line x1="423.10" y1="257.30" x2="424.50" y2="257.30" stroke="#222" stroke-width="0.8"/>
<text x="422.40" y="259.70" font-size="7.0" text-anchor="end">60</text>
<line x1="423.10" y1="247.30" x2="424.50" y2="247.30" stroke="#222" stroke-width="0.8"/>
<text x="422.40" y="249.70" font-size="7.0" text-anchor="end">80</text>
<line x1="423.10" y1="237.30" x2="424.50" y2="237.30" stroke="#222" stroke-width="0.8"/>
<text x="422.40" y="239.70" font-size="7.0" text-anchor="end">100</text>
<line x1="424.50" y1="287.30" x2="515.50" y2="287.30" stroke="#222" stroke-width="0.8"/>
<text x="408.90" y="268.00" font-size="7.0" text-anchor="middle" transform="rotate(-90 408.90 268.00)">pS6H-score</text>
<line x1="429.65" y1="244.00" x2="429.65" y2="253.40" stroke="#666" stroke-width="0.5"/>
<line x1="428.75" y1="244.00" x2="430.55" y2="244.00" stroke="#666" stroke-width="0.5"/>
<rect x="426.80" y="253.40" width="5.70" height="33.90" fill="#111" stroke="#000" stroke-width="0.35"/>
<line x1="436.95" y1="258.60" x2="436.95" y2="269.40" stroke="#666" stroke-width="0.5"/>
<line x1="436.05" y1="258.60" x2="437.85" y2="258.60" stroke="#666" stroke-width="0.5"/>
<rect x="434.10" y="269.40" width="5.70" height="17.90" fill="#999" stroke="#333" stroke-width="0.35"/>
<line x1="445.05" y1="247.80" x2="445.05" y2="253.70" stroke="#666" stroke-width="0.5"/>
<line x1="444.15" y1="247.80" x2="445.95" y2="247.80" stroke="#666" stroke-width="0.5"/>
<rect x="442.20" y="253.70" width="5.70" height="33.60" fill="#8c8c8c" stroke="#333" stroke-width="0.35"/>
<line x1="453.05" y1="257.70" x2="453.05" y2="260.70" stroke="#666" stroke-width="0.5"/>
<line x1="452.15" y1="257.70" x2="453.95" y2="257.70" stroke="#666" stroke-width="0.5"/>
<rect x="450.20" y="260.70" width="5.70" height="26.60" fill="#dcdcdc" stroke="#888" stroke-width="0.35"/>
<line x1="461.85" y1="263.60" x2="461.85" y2="269.70" stroke="#666" stroke-width="0.5"/>
<line x1="460.95" y1="263.60" x2="462.75" y2="263.60" stroke="#666" stroke-width="0.5"/>
<rect x="459.00" y="269.70" width="5.70" height="17.60" fill="#404040" stroke="#000" stroke-width="0.35"/>
<line x1="469.75" y1="260.00" x2="469.75" y2="266.50" stroke="#666" stroke-width="0.5"/>
<line x1="468.85" y1="260.00" x2="470.65" y2="260.00" stroke="#666" stroke-width="0.5"/>
<rect x="466.90" y="266.50" width="5.70" height="20.80" fill="#484848" stroke="#111" stroke-width="0.35"/>
<line x1="477.85" y1="253.40" x2="477.85" y2="260.00" stroke="#666" stroke-width="0.5"/>
<line x1="476.95" y1="253.40" x2="478.75" y2="253.40" stroke="#666" stroke-width="0.5"/>
<rect x="475.00" y="260.00" width="5.70" height="27.30" fill="#999" stroke="#333" stroke-width="0.35"/>
<line x1="486.15" y1="250.40" x2="486.15" y2="260.00" stroke="#666" stroke-width="0.5"/>
<line x1="485.25" y1="250.40" x2="487.05" y2="250.40" stroke="#666" stroke-width="0.5"/>
<rect x="483.30" y="260.00" width="5.70" height="27.30" fill="#999" stroke="#333" stroke-width="0.35"/>
<line x1="494.65" y1="251.90" x2="494.65" y2="261.50" stroke="#666" stroke-width="0.5"/>
<line x1="493.75" y1="251.90" x2="495.55" y2="251.90" stroke="#666" stroke-width="0.5"/>
<rect x="491.80" y="261.50" width="5.70" height="25.80" fill="#dcdcdc" stroke="#888" stroke-width="0.35"/>
<line x1="502.85" y1="252.80" x2="502.85" y2="258.00" stroke="#666" stroke-width="0.5"/>
<line x1="501.95" y1="252.80" x2="503.75" y2="252.80" stroke="#666" stroke-width="0.5"/>
<rect x="500.00" y="258.00" width="5.70" height="29.30" fill="#404040" stroke="#000" stroke-width="0.35"/>
<line x1="510.65" y1="248.40" x2="510.65" y2="262.40" stroke="#666" stroke-width="0.5"/>
<line x1="509.75" y1="248.40" x2="511.55" y2="248.40" stroke="#666" stroke-width="0.5"/>
<rect x="507.80" y="262.40" width="5.70" height="24.90" fill="#484848" stroke="#111" stroke-width="0.35"/>
<text x="429.65" y="294.60" font-size="5.9" text-anchor="middle">24</text>
<text x="437.35" y="294.60" font-size="5.9" text-anchor="middle">6</text>
<text x="445.05" y="294.60" font-size="5.9" text-anchor="middle">24</text>
<text x="453.05" y="294.60" font-size="5.9" text-anchor="middle">24</text>
<text x="462.25" y="294.60" font-size="5.9" text-anchor="middle">6</text>
<text x="469.75" y="294.60" font-size="5.9" text-anchor="middle">24</text>
<text x="478.25" y="294.60" font-size="5.9" text-anchor="middle">6</text>
<text x="484.75" y="294.60" font-size="5.9" text-anchor="middle">24</text>
<text x="494.65" y="294.60" font-size="5.9" text-anchor="middle">24</text>
<text x="503.25" y="294.60" font-size="5.9" text-anchor="middle">6</text>
<text x="510.65" y="294.60" font-size="5.9" text-anchor="middle">24</text>
<text x="518.60" y="294.60" font-size="5.9" text-anchor="middle">h</text>
<text x="421.00" y="302.90" font-size="6.4" text-anchor="end">MRTX849</text>
<text x="421.00" y="311.80" font-size="6.4" text-anchor="end">RMC-4550</text>
<text x="437.70" y="301.60" font-size="5.4" text-anchor="middle" class="s">+</text>
<text x="445.80" y="301.60" font-size="5.4" text-anchor="middle" class="s">+</text>
<text x="462.60" y="301.60" font-size="5.4" text-anchor="middle" class="s">+</text>
<text x="470.50" y="301.60" font-size="5.4" text-anchor="middle" class="s">+</text>
<text x="478.60" y="301.60" font-size="5.4" text-anchor="middle" class="s">+</text>
<text x="486.90" y="301.60" font-size="5.4" text-anchor="middle" class="s">+</text>
<text x="503.60" y="301.60" font-size="5.4" text-anchor="middle" class="s">+</text>
<text x="511.40" y="301.60" font-size="5.4" text-anchor="middle" class="s">+</text>
<text x="453.50" y="307.80" font-size="5.4" text-anchor="middle" class="s">+</text>
<text x="462.30" y="307.80" font-size="5.4" text-anchor="middle" class="s">+</text>
<text x="470.20" y="307.80" font-size="5.4" text-anchor="middle" class="s">+</text>
<text x="495.10" y="307.80" font-size="5.4" text-anchor="middle" class="s">+</text>
<text x="503.30" y="307.80" font-size="5.4" text-anchor="middle" class="s">+</text>
<text x="511.10" y="307.80" font-size="5.4" text-anchor="middle" class="s">+</text>
<line x1="474.80" y1="287.30" x2="474.80" y2="309.00" stroke="#333" stroke-width="0.6"/>
<text x="458.00" y="316.20" font-size="6.4" text-anchor="middle">QD × 1</text>
<text x="502.30" y="316.20" font-size="6.4" text-anchor="middle">QD × 7</text>
</svg>
</body></html>
